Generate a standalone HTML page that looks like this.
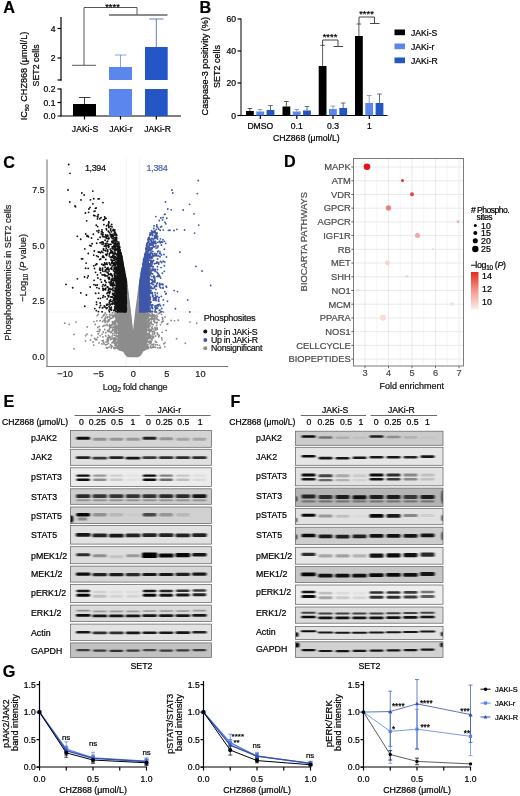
<!DOCTYPE html>
<html lang="en"><head><meta charset="utf-8"><title>Figure</title>
<style>
html,body{margin:0;padding:0;background:#fff;}
body{width:520px;height:796px;overflow:hidden;}
svg{display:block;font-family:"Liberation Sans",Arial,Helvetica,sans-serif;}
text{stroke-width:.22px;}
</style></head><body>
<svg width="520" height="796" viewBox="0 0 520 796">
<defs><filter id="bl" x="-5%" y="-50%" width="110%" height="200%"><feGaussianBlur stdDeviation="1.0 0.7"/></filter></defs>
<rect width="520" height="796" fill="#fff"/>
<g id="panelA">
<text x="3.3" y="12.7" font-size="16.2" font-weight="bold" stroke="#000">A</text>
<line x1="61" y1="17" x2="61" y2="80.5" stroke="#000" stroke-width="1.2"/>
<line x1="57.5" y1="80" x2="61.6" y2="80" stroke="#000" stroke-width="1.2"/>
<line x1="61" y1="88.5" x2="61" y2="116.5" stroke="#000" stroke-width="1.2"/>
<line x1="57.5" y1="116" x2="181" y2="116" stroke="#000" stroke-width="1.2"/>
<line x1="57.5" y1="28.5" x2="61" y2="28.5" stroke="#000" stroke-width="1.2"/>
<line x1="57.5" y1="58" x2="61" y2="58" stroke="#000" stroke-width="1.2"/>
<line x1="57.5" y1="89" x2="61" y2="89" stroke="#000" stroke-width="1.2"/>
<line x1="57.5" y1="102.5" x2="61" y2="102.5" stroke="#000" stroke-width="1.2"/>
<text x="55.5" y="31.6" font-size="8.6" text-anchor="end" stroke="#000">4</text>
<text x="55.5" y="61.1" font-size="8.6" text-anchor="end" stroke="#000">2</text>
<text x="55.5" y="92.1" font-size="8.6" text-anchor="end" stroke="#000">0.2</text>
<text x="55.5" y="105.6" font-size="8.6" text-anchor="end" stroke="#000">0.1</text>
<text x="55.5" y="119.1" font-size="8.6" text-anchor="end" stroke="#000">0.0</text>
<rect x="73" y="104" width="23" height="12" fill="#000"/>
<rect x="109" y="67" width="23" height="13" fill="#5b86ee"/>
<rect x="109" y="89" width="23" height="27" fill="#5b86ee"/>
<rect x="145" y="47" width="22.7" height="33" fill="#2556c6"/>
<rect x="145" y="89" width="22.7" height="27" fill="#2556c6"/>
<line x1="84.5" y1="97.5" x2="84.5" y2="104" stroke="#000" stroke-width="0.75"/>
<line x1="79" y1="97.5" x2="90.5" y2="97.5" stroke="#000" stroke-width="0.75"/>
<line x1="120.5" y1="55" x2="120.5" y2="67" stroke="#5b86ee" stroke-width="0.75"/>
<line x1="115" y1="55" x2="126.5" y2="55" stroke="#5b86ee" stroke-width="0.75"/>
<line x1="156.3" y1="19" x2="156.3" y2="47" stroke="#2556c6" stroke-width="0.75"/>
<line x1="149.3" y1="19" x2="163.5" y2="19" stroke="#2556c6" stroke-width="0.75"/>
<line x1="84.5" y1="116" x2="84.5" y2="119.5" stroke="#000" stroke-width="1.2"/>
<line x1="120.5" y1="116" x2="120.5" y2="119.5" stroke="#000" stroke-width="1.2"/>
<line x1="156.3" y1="116" x2="156.3" y2="119.5" stroke="#000" stroke-width="1.2"/>
<text x="85" y="132" font-size="8.6" text-anchor="middle" stroke="#000">JAKi-S</text>
<text x="121" y="132" font-size="8.6" text-anchor="middle" stroke="#000">JAKi-r</text>
<text x="157.5" y="132" font-size="8.6" text-anchor="middle" stroke="#000">JAKi-R</text>
<polyline points="72,65.3 96,65.3" fill="none" stroke="#444" stroke-width="0.9"/>
<polyline points="84,65.3 84,7.5 137,7.5 137,15" fill="none" stroke="#444" stroke-width="0.9"/>
<line x1="109" y1="15" x2="167.5" y2="15" stroke="#666" stroke-width="1.6"/>
<text x="112.5" y="9.6" font-size="9.4" text-anchor="middle" stroke="#000">****</text>
<text transform="translate(26.8 76) rotate(-90)" font-size="9.1" text-anchor="middle" stroke="#000">IC<tspan font-size="6.2" dy="2">50</tspan><tspan dy="-2"> CHZ868 (μmol/L)</tspan></text>
<text x="39.2" y="65.4" font-size="8.8" text-anchor="middle" stroke="#000" transform="rotate(-90 39.2 65.4)">SET2 cells</text>
</g>
<g id="panelB">
<text x="199.6" y="12.7" font-size="16.2" font-weight="bold" stroke="#000">B</text>
<line x1="241" y1="18.5" x2="241" y2="116" stroke="#000" stroke-width="1.0"/>
<line x1="237.5" y1="115.5" x2="387.5" y2="115.5" stroke="#000" stroke-width="1.0"/>
<line x1="237.5" y1="19" x2="241" y2="19" stroke="#000" stroke-width="1.2"/>
<text x="236" y="22.1" font-size="8.6" text-anchor="end" stroke="#000">60</text>
<line x1="237.5" y1="51" x2="241" y2="51" stroke="#000" stroke-width="1.2"/>
<text x="236" y="54.1" font-size="8.6" text-anchor="end" stroke="#000">40</text>
<line x1="237.5" y1="83" x2="241" y2="83" stroke="#000" stroke-width="1.2"/>
<text x="236" y="86.1" font-size="8.6" text-anchor="end" stroke="#000">20</text>
<line x1="237.5" y1="115.5" x2="241" y2="115.5" stroke="#000" stroke-width="1.2"/>
<text x="236" y="118.6" font-size="8.6" text-anchor="end" stroke="#000">0</text>
<rect x="246.0" y="111" width="7.8" height="4.5" fill="#000"/>
<line x1="249.9" y1="108.5" x2="249.9" y2="111" stroke="#333" stroke-width="0.8"/>
<line x1="247.6" y1="108.5" x2="252.20000000000002" y2="108.5" stroke="#333" stroke-width="0.8"/>
<rect x="256.3" y="111.5" width="7.8" height="4.0" fill="#5b86ee"/>
<line x1="260.2" y1="109.5" x2="260.2" y2="111.5" stroke="#7688b8" stroke-width="0.8"/>
<line x1="257.9" y1="109.5" x2="262.5" y2="109.5" stroke="#7688b8" stroke-width="0.8"/>
<rect x="266.6" y="110" width="7.8" height="5.5" fill="#2556c6"/>
<line x1="270.5" y1="105.5" x2="270.5" y2="110" stroke="#3a4a78" stroke-width="0.8"/>
<line x1="268.2" y1="105.5" x2="272.8" y2="105.5" stroke="#3a4a78" stroke-width="0.8"/>
<rect x="282.5" y="106.5" width="7.8" height="9.0" fill="#000"/>
<line x1="286.4" y1="101.5" x2="286.4" y2="106.5" stroke="#333" stroke-width="0.8"/>
<line x1="284.09999999999997" y1="101.5" x2="288.7" y2="101.5" stroke="#333" stroke-width="0.8"/>
<rect x="292.8" y="111.5" width="7.8" height="4.0" fill="#5b86ee"/>
<line x1="296.7" y1="109.5" x2="296.7" y2="111.5" stroke="#7688b8" stroke-width="0.8"/>
<line x1="294.4" y1="109.5" x2="299.0" y2="109.5" stroke="#7688b8" stroke-width="0.8"/>
<rect x="303.1" y="110.5" width="7.8" height="5.0" fill="#2556c6"/>
<line x1="307.0" y1="106.5" x2="307.0" y2="110.5" stroke="#3a4a78" stroke-width="0.8"/>
<line x1="304.7" y1="106.5" x2="309.3" y2="106.5" stroke="#3a4a78" stroke-width="0.8"/>
<rect x="318.7" y="66" width="7.8" height="49.5" fill="#000"/>
<line x1="322.6" y1="45.4" x2="322.6" y2="66" stroke="#333" stroke-width="0.8"/>
<line x1="320.3" y1="45.4" x2="324.90000000000003" y2="45.4" stroke="#333" stroke-width="0.8"/>
<rect x="329.0" y="109" width="7.8" height="6.5" fill="#5b86ee"/>
<line x1="332.9" y1="106" x2="332.9" y2="109" stroke="#7688b8" stroke-width="0.8"/>
<line x1="330.59999999999997" y1="106" x2="335.2" y2="106" stroke="#7688b8" stroke-width="0.8"/>
<rect x="339.3" y="108" width="7.8" height="7.5" fill="#2556c6"/>
<line x1="343.2" y1="103" x2="343.2" y2="108" stroke="#3a4a78" stroke-width="0.8"/>
<line x1="340.9" y1="103" x2="345.5" y2="103" stroke="#3a4a78" stroke-width="0.8"/>
<rect x="355.0" y="36" width="7.8" height="79.5" fill="#000"/>
<line x1="358.9" y1="24" x2="358.9" y2="36" stroke="#333" stroke-width="0.8"/>
<line x1="356.59999999999997" y1="24" x2="361.2" y2="24" stroke="#333" stroke-width="0.8"/>
<rect x="365.3" y="103" width="7.8" height="12.5" fill="#5b86ee"/>
<line x1="369.2" y1="95.5" x2="369.2" y2="103" stroke="#7688b8" stroke-width="0.8"/>
<line x1="366.9" y1="95.5" x2="371.5" y2="95.5" stroke="#7688b8" stroke-width="0.8"/>
<rect x="375.6" y="103" width="7.8" height="12.5" fill="#2556c6"/>
<line x1="379.5" y1="94" x2="379.5" y2="103" stroke="#3a4a78" stroke-width="0.8"/>
<line x1="377.2" y1="94" x2="381.8" y2="94" stroke="#3a4a78" stroke-width="0.8"/>
<line x1="260.3" y1="115.5" x2="260.3" y2="119" stroke="#000" stroke-width="1.2"/>
<text x="260.3" y="128.5" font-size="8.6" text-anchor="middle" stroke="#000">DMSO</text>
<line x1="296.8" y1="115.5" x2="296.8" y2="119" stroke="#000" stroke-width="1.2"/>
<text x="296.8" y="128.5" font-size="8.6" text-anchor="middle" stroke="#000">0.1</text>
<line x1="333" y1="115.5" x2="333" y2="119" stroke="#000" stroke-width="1.2"/>
<text x="333" y="128.5" font-size="8.6" text-anchor="middle" stroke="#000">0.3</text>
<line x1="369.3" y1="115.5" x2="369.3" y2="119" stroke="#000" stroke-width="1.2"/>
<text x="369.3" y="128.5" font-size="8.6" text-anchor="middle" stroke="#000">1</text>
<text x="306.3" y="140.6" font-size="8.7" text-anchor="middle" stroke="#000">CHZ868 (μmol/L)</text>
<polyline points="322.6,45.4 322.6,40 338,40 338,46.5" fill="none" stroke="#333" stroke-width="0.9"/>
<line x1="333.5" y1="46.5" x2="343" y2="46.5" stroke="#333" stroke-width="0.9"/>
<text x="330" y="40.2" font-size="9.4" text-anchor="middle" stroke="#000">****</text>
<polyline points="359,24 359,17 374.5,17 374.5,23.5" fill="none" stroke="#333" stroke-width="0.9"/>
<line x1="370" y1="23.5" x2="379.5" y2="23.5" stroke="#333" stroke-width="0.9"/>
<text x="366.5" y="17.2" font-size="9.4" text-anchor="middle" stroke="#000">****</text>
<rect x="394.5" y="29.5" width="10.5" height="5.7" fill="#000"/>
<text x="411" y="35.5" font-size="8.6" stroke="#000">JAKi-S</text>
<rect x="394.5" y="43.5" width="10.5" height="5.7" fill="#5b86ee"/>
<text x="411" y="49.5" font-size="8.6" stroke="#000">JAKi-r</text>
<rect x="394.5" y="57.5" width="10.5" height="5.7" fill="#2556c6"/>
<text x="411" y="63.5" font-size="8.6" stroke="#000">JAKi-R</text>
<text transform="translate(208.4 66.2) rotate(-90)" font-size="9.15" text-anchor="middle" stroke="#000">Caspase-3 positivity (%)</text>
<text x="220.2" y="66.5" font-size="9.0" text-anchor="middle" stroke="#000" transform="rotate(-90 220.2 66.5)">SET2 cells</text>
</g>
<g id="panelC">
<text x="3.2" y="167.5" font-size="16.2" font-weight="bold" stroke="#000">C</text>
<line x1="47" y1="312" x2="228" y2="312" stroke="#efefef" stroke-width="0.7"/>
<line x1="126.3" y1="158" x2="126.3" y2="366.5" stroke="#efefef" stroke-width="0.7"/>
<line x1="139.7" y1="158" x2="139.7" y2="366.5" stroke="#efefef" stroke-width="0.7"/>
<path d="M129 357.3L125.5 355.5L123 351.5L121.2 345L118 334L117.4 320L117.4 312L127.2 312L127.2 281L130.9 311.4L133.3 335.1L136.4 311.4L139.4 281L139.4 312L147.2 312L147.5 320L147 334L145 345L143.2 351.5L141 355.5L138 357.3Z" fill="#8c8c8c"/>
<path d="M116.5 312L127.2 312L127.2 281L125.3 272.5L122.3 256.4L119.5 246L117.5 250L116.3 270L116 290Z" fill="#111"/>
<path d="M149 312L139.4 312L139.4 281L141 272.5L144 258L146.8 248L148.3 252L149.5 270L149.8 290Z" fill="#3f57a8"/>
<path d="M138.1 343.7h0M130.9 347.7h0M133.9 332.8h0M134.4 326.5h0M106.1 342.0h0M134.9 339.2h0M128.0 309.9h0M130.9 349.7h0M132.4 337.6h0M129.9 327.9h0M131.1 321.3h0M124.2 338.8h0M138.0 347.8h0M128.6 321.0h0M134.6 329.0h0M134.4 343.1h0M134.7 335.7h0M136.8 311.1h0M142.7 335.6h0M133.7 338.6h0M139.9 352.2h0M127.7 295.1h0M119.9 339.3h0M131.1 337.8h0M136.5 356.2h0M137.6 350.1h0M140.2 330.6h0M129.7 343.1h0M135.4 335.6h0M134.4 328.6h0M135.1 330.5h0M126.8 332.5h0M128.7 307.3h0M135.2 335.9h0M140.2 345.6h0M132.5 334.3h0M131.4 344.2h0M127.3 333.1h0M135.3 343.2h0M142.5 339.8h0M139.1 288.4h0M137.9 327.6h0M129.0 325.0h0M130.6 318.9h0M135.1 321.5h0M125.8 347.5h0M131.5 345.2h0M134.1 338.4h0M140.5 315.2h0M123.1 341.5h0M129.1 317.9h0M123.8 313.0h0M130.7 325.3h0M134.0 330.4h0M133.1 341.5h0M138.0 336.8h0M134.5 337.5h0M130.9 337.8h0M128.9 320.3h0M140.9 341.6h0M126.9 315.2h0M133.4 336.1h0M140.2 336.7h0M130.6 348.3h0M134.4 328.4h0M131.2 338.7h0M133.7 339.6h0M136.2 344.3h0M136.8 330.7h0M134.3 331.4h0M129.2 329.4h0M133.0 348.8h0M132.2 347.1h0M135.7 328.8h0M124.7 338.3h0M141.9 330.1h0M137.3 344.0h0M138.0 330.6h0M128.7 321.7h0M128.6 301.3h0M136.3 336.1h0M133.0 349.6h0M137.7 342.7h0M133.1 353.7h0M131.5 333.7h0M136.4 316.6h0M148.0 324.1h0M136.8 343.2h0M134.0 332.5h0M132.9 342.1h0M132.6 352.0h0M128.4 308.8h0M131.9 338.4h0M146.6 341.7h0M127.2 327.1h0M128.5 330.6h0M133.4 339.8h0M132.3 333.7h0M147.0 347.8h0M131.1 324.9h0M125.3 323.2h0M128.9 306.2h0M128.8 350.6h0M126.4 320.7h0M133.3 345.4h0M133.2 340.0h0M132.0 334.6h0M146.8 320.6h0M142.2 327.2h0M133.8 335.7h0M131.1 326.8h0M127.0 313.2h0M131.6 341.6h0M134.2 342.4h0M114.4 329.4h0M138.9 329.3h0M133.9 342.6h0M135.5 339.5h0M127.7 319.2h0M134.8 333.4h0M135.1 340.2h0M137.7 320.5h0M134.9 352.0h0M134.9 333.9h0M122.4 336.6h0M125.7 343.3h0M122.9 339.4h0M128.9 315.7h0M131.8 335.0h0M130.9 320.1h0M133.3 339.9h0M148.3 347.0h0M130.1 337.1h0M144.8 328.2h0M129.7 318.8h0M138.4 301.0h0M132.0 345.6h0M120.5 327.6h0M133.1 341.8h0M125.1 328.7h0M148.9 342.5h0M142.2 348.5h0M137.9 324.5h0M132.7 348.5h0M137.9 320.3h0M136.5 330.0h0M129.0 309.4h0M106.6 314.7h0M144.0 318.9h0M141.1 317.4h0M128.4 354.5h0M153.3 345.6h0M136.0 313.7h0M136.2 315.1h0M126.2 339.3h0M134.5 334.6h0M133.6 333.1h0M133.5 351.0h0M135.5 323.4h0M133.6 338.7h0M126.2 314.8h0M117.2 321.5h0M138.9 321.9h0M127.7 293.9h0M134.3 333.5h0M137.9 299.8h0M122.5 324.0h0M139.0 307.1h0M138.0 323.0h0M134.3 334.4h0M123.6 323.3h0M126.5 305.9h0M143.3 341.6h0M124.8 333.5h0M130.3 322.7h0M131.9 329.4h0M138.1 312.9h0M139.0 330.6h0M129.3 309.8h0M133.5 340.5h0M134.9 348.3h0M126.7 308.6h0M127.2 293.9h0M144.9 328.5h0M137.3 332.6h0M135.0 324.1h0M126.8 303.9h0M128.5 322.8h0M120.1 347.6h0M128.5 308.1h0M127.0 336.6h0M133.5 351.2h0M131.3 330.7h0M132.9 340.9h0M132.9 339.0h0M127.1 331.1h0M135.2 320.6h0M134.3 336.4h0M126.5 308.5h0M136.7 339.5h0M134.9 323.9h0M133.6 340.2h0M132.8 339.4h0M131.1 329.5h0M128.4 313.5h0M120.2 336.6h0M132.0 335.3h0M138.6 339.4h0M133.1 348.9h0M138.1 317.3h0M134.6 331.6h0M137.6 323.0h0M133.6 338.3h0M142.1 330.5h0M142.8 349.9h0M140.9 328.6h0M127.4 306.5h0M123.5 325.3h0M124.3 330.3h0M134.3 352.3h0M133.0 340.3h0M112.3 321.7h0M107.3 317.7h0M133.3 337.6h0M127.6 329.5h0M139.6 284.7h0M136.7 336.5h0M130.2 345.3h0M130.7 351.8h0M130.0 320.3h0M136.6 310.4h0M136.0 344.8h0M134.2 330.1h0M135.2 322.8h0M115.5 324.8h0M138.9 316.3h0M132.8 340.3h0M137.9 326.1h0M129.4 327.3h0M132.0 333.0h0M130.9 341.7h0M109.8 326.8h0M136.0 312.0h0M134.1 338.0h0M129.3 311.3h0M137.6 333.5h0M129.4 318.6h0M135.2 323.6h0M120.0 322.9h0M131.6 328.2h0M136.8 329.1h0M139.5 300.2h0M126.0 327.3h0M130.1 320.7h0M132.8 343.4h0M138.4 323.9h0M142.6 342.2h0M129.8 310.5h0M134.6 343.9h0M138.9 297.5h0M130.3 329.8h0M128.1 306.4h0M134.3 328.8h0M134.5 337.7h0M139.6 312.6h0M129.7 320.8h0M126.7 330.8h0M134.7 333.5h0M132.7 339.0h0M129.6 319.7h0M131.7 330.8h0M138.6 344.8h0M132.4 343.2h0M127.5 304.4h0M136.1 336.0h0M132.2 339.5h0M133.8 335.1h0M139.5 310.5h0M135.8 317.1h0M128.1 323.2h0M129.5 355.1h0M129.3 332.0h0M136.7 307.9h0M104.8 329.5h0M127.2 299.1h0M136.4 340.8h0M139.4 307.9h0M137.5 346.1h0M138.4 336.5h0M133.1 339.8h0M129.6 327.9h0M131.0 329.5h0M135.3 336.5h0M130.3 322.0h0M129.9 331.7h0M122.8 331.9h0M131.3 336.8h0M139.4 315.2h0M143.9 325.3h0M131.6 341.1h0M128.6 310.1h0M143.2 350.2h0M134.6 325.7h0M112.2 336.0h0M135.7 350.7h0M143.1 327.8h0M128.3 321.4h0M138.3 345.5h0M126.8 290.5h0M125.7 348.3h0M130.4 343.2h0M129.7 354.6h0M139.4 297.3h0M139.8 338.7h0M161.6 314.3h0M132.0 331.8h0M129.4 347.3h0M127.2 303.8h0M130.1 317.8h0M127.8 319.5h0M142.7 345.7h0M137.3 306.9h0M129.7 312.5h0M117.2 319.5h0M127.3 296.9h0M137.4 302.9h0M139.6 293.1h0M136.9 312.5h0M126.7 329.1h0M126.9 298.6h0M125.4 321.6h0M129.9 340.1h0M134.1 328.6h0M134.5 348.3h0M142.5 321.4h0M139.8 348.2h0M131.5 337.3h0M146.7 322.9h0M118.9 328.2h0M134.7 333.0h0M129.8 312.9h0M128.0 339.6h0M143.9 335.7h0M141.6 318.6h0M132.8 337.9h0M144.9 345.7h0M155.4 341.5h0M138.1 304.1h0M140.7 314.3h0M137.9 335.8h0M137.9 337.9h0M131.8 329.1h0M134.5 325.7h0M141.9 343.3h0M127.0 312.7h0M113.0 341.7h0M148.8 319.2h0M142.6 337.5h0M135.9 341.4h0M128.4 327.4h0M137.5 329.7h0M134.7 323.0h0M159.2 335.5h0M134.6 329.2h0M131.7 327.3h0M134.9 345.6h0M127.8 300.9h0M130.8 342.9h0M134.7 348.7h0M128.1 333.2h0M139.4 329.0h0M132.6 337.8h0M131.0 323.8h0M129.3 338.1h0M121.2 349.8h0M138.9 315.0h0M128.8 302.7h0M134.2 344.0h0M127.6 305.0h0M134.9 347.5h0M139.3 310.4h0M133.9 344.4h0M130.3 325.6h0M129.1 312.9h0M139.5 315.3h0M130.0 337.5h0M127.6 317.7h0M127.2 311.6h0M133.1 342.6h0M139.3 308.1h0M126.5 348.7h0M135.9 313.2h0M115.8 317.9h0M117.2 321.0h0M120.6 321.4h0M131.2 331.1h0M127.8 317.2h0M136.7 334.8h0M140.0 326.7h0M122.1 321.7h0M128.6 333.7h0M127.1 351.8h0M138.4 298.3h0M126.4 321.9h0M121.3 321.7h0M123.5 345.7h0M128.3 320.7h0M112.8 329.6h0M130.5 334.8h0M135.1 321.7h0M133.8 339.9h0M129.3 315.0h0M127.1 318.3h0M137.9 304.7h0M128.6 339.0h0M142.9 343.1h0M107.2 321.7h0M137.8 315.5h0M132.2 338.0h0M130.1 332.1h0M126.7 303.6h0M139.2 321.4h0M139.1 291.7h0M133.5 334.2h0M129.2 322.5h0M140.0 328.3h0M133.3 348.8h0M128.5 312.7h0M136.3 322.6h0M135.5 321.8h0M135.4 346.5h0M129.7 315.8h0M131.8 346.5h0M127.5 340.3h0M138.4 297.2h0M149.5 320.5h0M136.1 312.7h0M126.3 302.4h0M117.9 322.5h0M132.2 343.8h0M124.2 331.3h0M130.6 317.2h0M136.0 324.7h0M127.2 317.7h0M131.7 348.1h0M129.2 335.0h0M137.6 311.3h0M138.3 341.4h0M137.0 328.1h0M131.7 328.7h0M135.1 331.4h0M128.3 323.6h0M137.7 343.0h0M138.6 297.4h0M131.5 334.0h0M130.5 329.9h0M137.8 332.3h0M135.1 326.2h0M148.9 334.3h0M134.7 336.9h0M133.2 345.8h0M136.5 340.0h0M133.4 345.8h0M138.0 309.7h0M134.3 329.8h0M133.4 339.3h0M139.4 354.7h0M133.9 333.0h0M129.3 343.0h0M133.0 342.0h0M130.4 322.0h0M137.4 306.1h0M128.7 319.4h0M120.2 345.6h0M134.1 328.7h0M149.0 320.9h0M129.1 336.6h0M137.8 338.4h0M133.7 340.0h0M137.5 301.9h0M129.2 340.5h0M128.9 322.8h0M147.9 336.9h0M130.4 348.8h0M136.2 339.1h0M126.5 317.2h0M139.1 342.3h0M143.0 343.4h0M134.0 336.9h0M126.6 329.8h0M131.6 332.5h0M138.6 328.4h0M129.2 350.6h0M135.3 326.6h0M140.8 326.5h0M133.5 348.2h0M135.2 350.9h0M130.6 337.3h0M138.6 347.0h0M136.5 355.1h0M131.2 333.2h0M127.3 294.5h0M123.3 325.2h0M127.9 333.2h0M130.8 337.4h0M138.0 310.8h0M126.2 320.1h0M134.1 346.2h0M131.0 328.3h0M127.5 312.5h0M126.6 330.5h0M152.3 317.9h0M125.4 322.0h0M131.9 336.1h0M131.0 334.5h0M135.7 321.8h0M131.4 327.3h0M130.2 341.7h0M134.1 332.5h0M129.8 336.8h0M141.1 321.5h0M133.8 336.1h0M139.4 290.7h0M132.8 340.1h0M144.6 338.5h0M131.8 332.8h0M122.6 340.5h0M139.9 322.7h0M136.8 351.5h0M134.2 336.1h0M129.3 316.3h0M131.1 333.2h0M139.1 347.1h0M136.8 327.2h0M124.7 325.8h0M127.1 321.7h0M131.5 326.5h0M138.2 323.1h0M128.2 350.8h0M130.4 315.5h0M138.5 327.0h0M118.2 345.8h0M137.5 307.8h0M123.2 320.2h0M127.1 289.7h0M137.5 325.0h0M133.5 349.6h0M138.6 296.6h0M125.6 317.3h0M135.6 348.3h0M129.5 322.3h0M132.9 350.3h0M134.3 332.2h0M129.7 321.8h0M138.0 333.5h0M137.2 308.6h0M129.9 339.8h0M151.4 323.4h0M130.7 333.7h0M134.8 330.7h0M124.9 317.5h0M133.3 354.9h0M137.3 315.1h0M132.7 349.6h0M133.3 338.4h0M130.4 327.9h0M142.5 322.7h0M119.2 320.2h0M135.0 345.8h0M134.3 326.5h0M133.1 354.3h0M130.4 348.8h0M129.4 308.6h0M131.7 346.9h0M132.0 347.2h0M132.2 334.5h0M127.2 338.9h0M117.7 320.2h0M133.5 337.6h0M120.0 327.7h0M120.7 314.3h0M144.0 348.3h0M133.8 332.4h0M132.9 340.7h0M137.5 343.1h0M136.3 336.8h0M133.4 353.4h0M133.7 350.1h0M139.4 286.0h0M135.2 331.8h0M130.9 334.1h0M131.7 331.2h0M129.9 344.1h0M119.5 313.2h0M133.3 336.1h0M134.1 343.7h0M136.7 348.8h0M126.6 317.3h0M137.2 312.9h0M138.9 317.6h0M133.6 339.0h0M133.0 346.5h0M134.0 332.4h0M139.0 345.3h0M131.4 329.2h0M132.7 344.7h0M138.0 310.7h0M122.9 327.3h0M118.7 325.7h0M132.1 331.0h0M129.4 339.0h0M129.7 335.7h0M141.5 332.8h0M142.3 313.1h0M132.8 339.5h0M122.7 329.3h0M138.4 323.0h0M137.0 318.6h0M133.4 348.7h0M131.8 349.5h0M157.1 322.6h0M135.2 335.6h0M131.8 339.7h0M143.4 318.9h0M120.9 331.3h0M132.5 341.4h0M127.1 293.1h0M134.6 335.9h0M131.2 329.5h0M133.8 346.3h0M130.0 316.8h0M138.3 306.3h0M128.2 313.6h0M129.3 354.2h0M131.2 325.2h0M124.0 347.0h0M124.9 322.5h0M127.3 314.9h0M131.7 334.6h0M134.3 328.2h0M128.1 328.9h0M128.5 306.8h0M95.5 339.1h0M119.5 342.3h0M136.6 344.0h0M131.0 325.0h0M131.7 332.5h0M146.1 344.1h0M129.2 319.2h0M137.2 317.8h0M137.5 304.8h0M130.2 318.8h0M119.7 326.7h0M131.7 329.9h0M130.3 316.4h0M130.3 320.7h0M135.4 330.7h0M135.4 329.1h0M136.1 314.1h0M121.1 347.1h0M145.0 317.4h0M133.2 349.6h0M129.6 350.2h0M140.1 332.5h0M139.9 317.0h0M143.3 340.2h0M129.5 322.6h0M133.7 343.0h0M129.7 342.7h0M135.3 320.7h0M133.8 331.9h0M132.3 335.6h0M135.8 342.6h0M143.0 348.1h0M128.0 299.9h0M132.4 339.8h0M127.1 327.2h0M116.1 338.8h0M136.2 317.6h0M127.6 330.8h0M136.1 311.6h0M138.5 317.4h0M131.2 322.7h0M131.6 336.9h0M137.0 321.9h0M136.1 316.9h0M119.1 313.6h0M131.9 349.0h0M132.8 344.4h0M134.3 329.7h0M121.4 324.2h0M130.7 325.8h0M130.1 317.7h0M131.0 336.6h0M137.4 300.9h0M134.7 333.4h0M129.9 340.3h0M132.9 351.8h0M127.5 307.6h0M138.5 306.0h0M129.8 320.0h0M128.7 306.7h0M133.6 341.7h0M135.8 350.7h0M123.1 338.8h0M139.3 316.0h0M137.2 330.6h0M125.5 318.7h0M137.0 320.8h0M127.3 333.6h0M137.8 323.2h0M136.5 338.5h0M136.8 330.7h0M131.6 348.4h0M128.3 299.4h0M136.7 337.1h0M129.8 331.0h0M129.6 313.5h0M131.6 350.2h0M134.0 342.9h0M138.8 305.8h0M141.8 319.1h0M144.3 337.7h0M138.7 312.8h0M138.3 311.1h0M128.7 306.3h0M137.6 338.0h0M133.1 339.2h0M130.3 325.2h0M124.0 345.6h0M134.3 344.4h0M137.1 313.7h0M145.6 342.8h0M132.7 343.6h0M137.4 348.4h0M125.0 312.5h0M124.6 320.4h0M136.1 317.4h0M132.7 342.5h0M85.6 335.7h0M135.6 334.7h0M129.0 336.6h0M127.1 330.8h0M141.0 346.9h0M136.3 320.5h0M130.8 327.6h0M146.6 345.1h0M143.2 341.7h0M138.9 313.3h0M119.0 327.4h0M130.2 352.2h0M127.3 298.1h0M129.2 327.8h0M120.9 343.2h0M128.2 311.8h0M130.4 317.4h0M137.3 342.2h0M128.4 309.1h0M127.0 302.7h0M130.6 325.0h0M143.3 329.3h0M136.8 310.5h0M145.6 346.2h0M143.7 347.1h0M131.4 342.5h0M129.4 340.2h0M133.1 337.8h0M123.9 337.6h0M114.1 339.4h0M126.9 308.8h0M132.4 336.9h0M133.5 336.8h0M127.9 319.4h0M129.7 309.7h0M129.9 315.3h0M121.4 314.8h0M133.3 341.5h0M140.2 350.6h0M135.5 318.4h0M155.6 344.6h0M156.7 325.5h0M122.0 326.9h0M129.9 345.4h0M137.4 301.3h0M134.9 321.5h0M134.5 326.2h0M137.3 342.1h0M138.4 331.3h0M132.5 335.0h0M132.4 333.1h0M142.5 313.4h0M133.5 346.6h0M122.9 348.4h0M137.1 313.5h0M135.1 353.6h0M133.9 348.4h0M133.6 336.2h0M137.1 324.8h0M126.6 338.8h0M97.2 315.6h0M137.6 329.8h0M137.8 336.8h0M134.7 323.4h0M135.1 327.5h0M108.2 331.6h0M130.7 344.6h0M126.9 326.4h0M132.1 334.2h0M134.5 338.8h0M137.0 316.0h0M134.3 332.9h0M130.0 329.2h0M123.8 343.2h0M135.4 331.2h0M133.8 349.5h0M139.4 317.4h0M140.1 339.4h0M130.0 319.1h0M157.5 334.2h0M127.1 333.2h0M130.2 329.5h0M118.5 330.0h0M132.3 337.7h0M130.8 328.4h0M119.7 335.2h0M134.5 330.2h0M148.7 347.9h0M130.1 312.5h0M135.3 336.9h0M120.5 350.1h0M109.5 329.4h0M141.7 337.7h0M129.7 312.8h0M131.7 351.5h0M130.4 316.0h0M139.3 326.0h0M133.5 336.7h0M134.8 324.4h0M128.3 330.5h0M128.1 308.9h0M138.5 302.7h0M132.5 341.8h0M134.7 330.8h0M143.2 329.9h0M130.3 315.1h0M127.7 338.1h0M124.2 333.7h0M136.2 329.5h0M133.7 351.2h0M130.4 341.8h0M142.0 337.9h0M134.0 329.9h0M118.9 317.5h0M136.6 311.7h0M148.5 327.1h0M123.5 327.7h0M130.9 355.0h0M132.8 348.4h0M132.5 338.1h0M133.4 345.5h0M123.2 346.1h0M133.6 348.6h0M126.4 323.3h0M146.8 313.5h0M138.2 312.2h0M145.8 334.3h0M130.1 317.7h0M130.1 318.6h0M122.5 342.2h0M138.4 310.4h0M136.0 322.3h0M132.7 342.1h0M119.7 326.9h0M127.1 306.0h0M135.4 322.7h0M132.2 337.9h0M131.0 350.6h0M144.4 331.6h0M125.7 313.3h0M132.3 350.2h0M127.7 329.0h0M143.0 341.6h0M129.8 350.1h0M140.8 330.5h0M129.3 346.3h0M130.9 320.2h0M134.7 340.8h0M129.7 316.4h0M131.4 342.4h0M127.4 302.2h0M135.6 322.8h0M127.2 297.1h0M132.3 345.8h0M114.9 331.2h0M135.4 321.2h0M145.2 349.1h0M151.5 316.8h0M129.0 327.0h0M137.0 334.8h0M116.8 321.3h0M136.8 316.9h0M128.7 306.9h0M127.7 300.5h0M131.7 329.2h0M156.0 342.3h0M136.2 338.1h0M133.0 347.4h0M135.8 319.1h0M135.0 326.0h0M134.0 339.6h0M137.8 327.0h0M130.3 331.6h0M136.2 331.4h0M144.7 338.3h0M137.0 320.8h0M138.6 301.7h0M139.5 321.2h0M132.6 341.3h0M129.1 315.8h0M151.7 323.8h0M128.7 308.2h0M129.3 333.0h0M130.2 327.6h0M133.5 344.5h0M133.7 346.0h0M129.3 319.0h0M132.2 335.5h0M135.5 320.1h0M137.6 320.4h0M144.2 327.3h0M141.8 338.1h0M129.2 339.3h0M129.5 345.4h0M130.1 340.7h0M139.5 312.1h0M133.7 348.1h0M128.3 322.4h0M130.8 344.3h0M144.8 349.7h0M126.7 292.7h0M138.1 296.8h0M122.6 340.3h0M133.9 342.2h0M129.3 327.9h0M133.8 342.1h0M138.8 293.3h0M129.7 318.9h0M129.8 339.1h0M134.2 344.7h0M129.8 335.6h0M132.9 345.7h0M136.5 347.8h0M132.8 354.5h0M138.8 332.6h0M137.9 297.4h0M139.4 315.8h0M132.2 345.8h0M135.2 343.1h0M129.4 329.9h0M131.6 337.7h0M136.0 328.6h0M139.6 286.1h0M135.7 322.7h0M138.3 301.3h0M129.1 315.3h0M148.9 313.5h0M129.4 333.9h0M138.6 291.5h0M110.1 315.3h0M133.3 336.4h0M127.2 292.0h0M133.5 346.2h0M130.2 317.0h0M132.3 336.4h0M130.2 333.0h0M128.2 302.3h0M139.5 336.0h0M128.5 346.7h0M87.2 326.9h0M130.5 338.8h0M139.1 312.8h0M131.1 337.9h0M135.8 334.2h0M139.5 287.4h0M134.0 330.6h0M128.5 303.1h0M135.4 329.4h0M133.3 343.5h0M129.9 330.0h0M126.0 332.4h0M128.2 324.1h0M133.4 340.6h0M137.4 302.0h0M128.0 349.3h0M131.5 347.3h0M127.7 295.1h0M138.8 307.0h0M128.0 296.8h0M135.2 354.1h0M132.2 349.5h0M159.7 347.9h0M118.8 316.0h0M141.5 322.8h0M131.9 343.9h0M131.7 329.8h0M132.1 342.1h0M103.0 326.3h0M113.2 317.4h0M134.9 331.0h0M126.9 307.2h0M128.6 323.0h0M133.2 339.9h0M135.0 347.8h0M129.0 326.4h0M133.4 339.5h0M123.1 343.0h0M127.4 312.5h0M129.2 307.6h0M122.4 346.5h0M138.0 336.5h0M117.9 312.4h0M132.5 341.8h0M131.6 327.5h0M130.8 340.9h0M133.8 336.1h0M144.7 324.5h0M127.9 336.3h0M127.1 309.5h0M131.7 332.7h0M134.8 323.4h0M129.3 320.3h0M132.1 337.7h0M129.2 328.3h0M131.5 348.9h0M133.4 340.0h0M139.6 335.8h0M138.4 297.3h0M127.9 311.9h0M138.1 327.8h0M126.7 301.4h0M132.8 343.3h0M134.2 331.6h0M123.7 330.0h0M129.8 318.4h0M120.5 328.7h0M129.8 331.2h0M141.5 320.4h0M134.9 328.7h0M151.1 316.3h0M132.0 330.0h0M135.5 316.7h0M139.8 315.3h0M134.6 336.5h0M126.6 330.4h0M148.0 318.5h0M143.3 333.5h0M121.8 312.8h0M138.8 299.8h0M133.4 339.4h0M125.0 315.2h0M123.0 347.6h0M130.6 326.0h0M130.5 332.3h0M138.1 298.8h0M137.5 304.9h0M132.6 341.0h0M135.5 321.4h0M135.0 336.2h0M132.8 341.9h0M131.2 341.2h0M114.8 323.5h0M136.6 344.4h0M128.6 319.3h0M137.7 309.1h0M136.6 323.0h0M132.6 344.5h0M139.6 306.3h0M138.8 322.2h0M131.5 331.5h0M130.6 331.5h0M110.6 344.9h0M130.8 332.1h0M137.0 313.7h0M130.2 327.7h0M130.6 328.7h0M124.7 328.1h0M133.9 335.9h0M136.1 338.0h0M143.5 341.0h0M131.3 326.6h0M119.5 314.4h0M131.8 350.6h0M129.0 331.0h0M128.1 342.2h0M152.3 331.3h0M137.7 307.3h0M130.2 331.8h0M136.1 331.6h0M133.2 338.1h0M123.0 332.4h0M132.0 340.8h0M118.9 339.6h0M127.3 330.1h0M138.5 355.0h0M130.4 320.7h0M138.0 315.8h0M136.7 336.1h0M126.2 328.2h0M121.5 348.8h0M132.4 336.8h0M130.9 325.8h0M127.9 312.6h0M136.5 322.6h0M128.7 332.5h0M131.6 343.0h0M128.4 328.6h0M133.3 345.1h0M139.8 351.0h0M135.8 345.1h0M141.7 348.3h0M132.6 344.5h0M139.5 312.6h0M131.8 336.0h0M129.0 319.0h0M128.7 305.0h0M124.4 312.3h0M138.1 308.4h0M128.0 303.5h0M128.6 317.7h0M105.8 344.8h0M138.9 332.4h0M126.8 336.4h0M132.8 345.6h0M135.2 337.4h0M134.4 337.6h0M130.6 323.0h0M137.2 323.8h0M145.6 326.0h0M142.7 345.5h0M132.5 343.8h0M131.8 338.2h0M135.5 347.5h0M136.5 338.2h0M141.5 317.4h0M150.6 337.1h0M130.2 321.2h0M128.5 315.0h0M134.9 340.3h0M119.0 337.4h0M133.1 344.0h0M139.4 288.0h0M136.3 338.4h0M137.2 322.3h0M127.8 306.3h0M138.6 318.6h0M128.1 302.6h0M132.6 335.4h0M153.1 315.7h0M149.8 329.4h0M129.2 329.8h0M131.3 345.5h0M115.0 312.9h0M143.3 315.2h0M127.6 351.9h0M128.1 297.8h0M133.0 352.0h0M135.8 327.8h0M129.3 328.7h0M207.3 321.8h0M130.3 322.8h0M155.5 329.0h0M130.8 346.9h0M129.2 317.1h0M133.3 351.0h0M144.1 327.1h0M137.8 317.8h0M135.3 318.5h0M126.8 288.9h0M133.7 334.0h0M133.8 339.8h0M138.1 308.9h0M129.4 306.4h0M140.4 314.8h0M134.7 336.5h0M135.4 317.7h0M134.8 337.3h0M132.5 339.8h0M127.4 313.6h0M131.5 348.3h0M138.2 310.9h0M136.7 314.0h0M139.4 323.1h0M127.8 326.4h0M138.8 322.1h0M107.0 344.4h0M126.4 306.3h0M133.5 337.3h0M126.5 325.8h0M124.3 318.1h0M148.1 322.1h0M128.8 308.7h0M136.7 321.1h0M131.2 336.7h0M143.5 336.5h0M135.1 338.3h0M127.8 355.5h0M141.5 331.5h0M122.3 327.4h0M126.9 297.8h0M137.0 311.1h0M135.8 318.1h0M137.4 304.6h0M136.5 346.3h0M128.2 349.1h0M133.5 337.9h0M110.6 332.5h0M131.7 331.5h0M137.7 326.5h0M138.6 314.2h0M126.5 288.1h0M126.6 324.7h0M129.5 324.0h0M133.9 342.1h0M126.5 288.1h0M117.2 316.8h0M124.5 326.9h0M128.5 305.1h0M142.8 333.7h0M162.8 318.3h0M141.1 331.7h0M128.7 319.3h0M135.9 314.2h0M135.1 333.9h0M134.1 347.1h0M134.9 325.8h0M135.7 348.2h0M142.2 345.5h0M133.6 341.2h0M134.8 328.0h0M132.1 347.2h0M128.0 296.9h0M123.7 331.6h0M135.9 320.6h0M137.2 311.8h0M133.5 336.4h0M134.1 337.2h0M132.0 333.0h0M135.7 326.7h0M132.8 347.8h0M133.1 342.4h0M132.0 346.1h0M130.9 347.5h0M138.1 305.3h0M117.2 332.6h0M139.7 323.7h0M131.4 325.3h0M134.0 330.4h0M147.7 313.4h0M135.0 322.3h0M139.1 294.8h0M145.9 322.1h0M134.1 348.8h0M135.8 337.8h0M127.5 312.7h0M109.3 331.3h0M121.9 317.4h0M130.5 324.5h0M128.6 300.5h0M128.5 309.9h0M132.5 349.4h0M126.7 338.9h0M139.2 296.8h0M136.0 313.4h0M120.9 316.1h0M152.1 324.4h0M149.6 337.6h0M131.1 328.6h0M127.8 304.0h0M138.4 300.3h0M130.6 321.4h0M131.7 337.0h0M132.6 337.0h0M87.0 334.2h0M143.5 349.3h0M129.0 350.1h0M123.6 339.4h0M131.7 347.1h0M120.5 349.8h0M140.6 339.9h0M122.2 338.4h0M131.2 342.1h0M128.3 301.9h0M126.7 309.4h0M134.1 342.3h0M134.1 340.0h0M139.1 292.6h0M132.5 340.4h0M141.6 323.8h0M137.9 297.2h0M123.3 332.7h0M131.4 331.1h0M127.7 320.6h0M130.9 335.9h0M130.7 332.6h0M120.4 348.5h0M136.2 332.9h0M139.6 288.8h0M122.8 329.9h0M136.9 318.1h0M134.3 331.7h0M134.7 327.1h0M108.5 335.5h0M123.9 324.0h0M139.6 292.5h0M132.0 330.2h0M121.8 340.0h0M126.9 320.0h0M127.0 336.9h0M133.7 345.5h0M129.6 310.7h0M134.1 345.2h0M136.0 330.8h0M139.3 289.4h0M132.0 344.0h0M137.3 311.9h0M129.2 321.7h0M135.4 324.9h0M132.7 338.5h0M124.2 327.5h0M126.9 296.8h0M136.5 334.9h0M135.1 329.6h0M133.8 334.8h0M150.0 343.7h0M120.6 330.1h0M145.0 322.5h0M125.9 337.4h0M171.2 320.5h0M128.3 312.0h0M128.7 337.0h0M130.9 331.8h0M129.8 349.6h0M139.4 322.0h0M138.8 334.7h0M126.4 334.8h0M138.3 312.5h0M139.0 298.5h0M138.7 327.3h0M131.7 328.7h0M126.7 338.5h0M131.6 339.4h0M123.8 338.2h0M142.5 320.8h0M131.4 338.9h0M121.9 346.8h0M137.2 312.7h0M131.2 345.3h0M155.0 328.9h0M133.2 343.8h0M126.9 289.3h0M164.8 346.8h0M124.0 338.9h0M130.5 333.9h0M128.2 330.0h0M130.7 348.2h0M145.9 318.5h0M138.8 321.1h0M134.4 338.1h0M119.9 347.5h0M139.9 319.3h0M138.4 309.5h0M132.1 335.2h0M123.8 312.2h0M139.5 302.3h0M134.7 326.0h0M138.9 332.6h0M126.6 297.2h0M135.5 335.1h0M131.6 340.4h0M132.9 354.5h0M145.8 323.8h0M123.8 320.4h0M129.6 319.5h0M135.0 327.1h0M131.9 347.7h0M133.3 336.6h0M130.6 320.5h0M133.9 338.7h0M129.6 327.3h0M137.3 343.3h0M121.8 350.0h0M134.6 336.7h0M133.9 337.6h0M130.9 341.5h0M130.3 314.5h0M130.2 342.2h0M139.3 299.7h0M134.1 349.4h0M121.1 340.0h0M137.6 313.6h0M128.1 308.9h0M126.3 324.0h0M127.3 321.4h0M118.6 342.5h0M136.1 355.6h0M139.2 348.2h0M136.1 339.1h0M139.5 294.3h0M133.0 339.9h0M138.3 347.8h0M124.5 330.4h0M134.7 346.1h0M137.4 313.9h0M125.1 317.8h0M126.7 342.0h0M130.5 322.7h0M136.1 317.1h0M135.7 318.7h0M132.5 336.2h0M132.8 337.3h0M133.3 338.6h0M131.2 342.4h0M123.2 345.7h0M148.1 335.2h0M133.2 344.8h0M130.5 349.9h0M139.1 305.2h0M131.0 329.5h0M132.6 336.7h0M140.2 328.5h0M130.9 338.4h0M132.6 341.0h0M135.7 356.0h0M144.9 337.9h0M134.5 347.0h0M132.7 348.4h0M138.9 326.4h0M130.2 333.1h0M138.6 350.4h0M134.0 345.3h0M133.0 340.4h0M127.1 322.5h0M135.4 326.6h0M130.5 342.5h0M136.7 311.8h0M114.6 326.8h0M139.3 323.4h0M131.2 332.7h0M133.2 352.3h0M136.4 311.8h0M119.9 347.2h0M129.0 318.6h0M132.0 337.8h0M126.3 290.7h0M131.2 336.1h0M123.5 348.8h0M127.9 340.6h0M132.0 350.9h0M127.8 315.2h0M128.9 351.6h0M135.3 336.9h0M121.4 349.8h0M134.6 337.8h0M138.6 292.7h0M148.0 312.6h0M131.0 326.5h0M129.9 313.4h0M129.1 332.6h0M97.3 331.3h0M130.1 318.3h0M131.1 344.5h0M133.1 339.4h0M126.3 336.3h0M133.8 332.1h0M133.2 343.3h0M126.1 332.4h0M74.0 334.4h0M132.6 336.1h0M138.7 315.2h0M133.9 334.1h0M129.8 353.3h0M136.1 349.1h0M130.0 346.9h0M138.6 303.2h0M132.0 338.3h0M129.2 347.8h0M141.1 330.4h0M132.8 350.7h0M134.1 354.7h0M131.6 328.0h0M136.4 322.3h0M129.8 346.4h0M141.6 316.1h0M127.8 310.5h0M132.5 345.7h0M125.6 323.2h0M132.0 344.6h0M141.9 345.4h0M127.4 304.9h0M124.5 324.7h0M136.3 315.6h0M140.1 321.8h0M135.5 325.2h0M128.5 320.4h0M127.9 309.9h0M136.2 326.8h0M135.7 322.3h0M134.7 334.6h0M136.4 342.7h0M122.3 319.2h0M135.5 319.3h0M127.7 311.3h0M131.3 335.4h0M136.0 321.8h0M133.6 335.2h0M138.0 316.7h0M131.9 329.1h0M128.0 318.5h0M114.4 340.8h0M133.9 330.8h0M133.7 350.9h0M127.9 299.8h0M122.9 339.4h0M137.7 317.6h0M132.0 329.2h0M135.9 342.0h0M126.3 290.8h0M138.2 319.9h0M129.1 345.3h0M133.5 344.4h0M132.5 338.8h0M137.3 303.4h0M135.5 346.0h0M140.1 338.8h0M142.9 319.0h0M130.3 315.8h0M139.7 340.9h0M127.3 295.6h0M137.5 302.9h0M134.1 338.7h0M135.9 319.1h0M138.0 343.4h0M128.7 306.2h0M135.5 329.1h0M135.1 331.6h0M127.5 294.1h0M134.4 332.9h0M131.8 343.5h0M133.2 344.7h0M126.6 308.0h0M136.8 341.3h0M130.6 350.8h0M126.6 320.4h0M129.6 345.5h0M135.3 342.4h0M123.1 330.4h0M134.4 332.2h0M127.5 321.1h0M138.5 320.9h0M132.9 351.1h0M134.5 347.2h0M135.4 326.7h0M123.2 327.0h0M139.0 293.5h0M137.6 329.9h0M139.1 309.7h0M125.9 318.3h0M127.8 306.0h0M133.5 350.4h0M138.6 310.5h0M130.8 331.3h0M138.9 320.7h0M127.7 333.3h0M138.7 348.0h0M130.3 342.3h0M133.3 336.1h0M131.2 325.4h0M134.3 350.2h0M120.3 332.4h0M140.4 317.5h0M139.1 296.2h0M146.9 346.3h0M130.3 318.7h0M133.6 334.7h0M132.6 339.6h0M128.1 305.4h0M105.7 336.0h0M129.3 314.6h0M139.2 322.2h0M130.6 324.2h0M148.4 317.2h0M135.4 341.0h0M134.0 332.2h0M136.3 349.4h0M129.3 331.5h0M132.5 339.6h0M124.4 332.4h0M130.7 327.5h0M136.3 318.0h0M125.6 318.4h0M138.4 303.2h0M121.3 313.9h0M124.2 337.5h0M129.4 311.4h0M85.5 340.9h0M144.0 347.2h0M126.5 317.2h0M133.1 344.4h0M132.5 334.4h0M129.1 336.9h0M105.6 316.8h0M132.6 338.7h0M133.0 342.8h0M135.3 336.7h0M123.1 344.5h0M134.5 342.6h0M129.9 331.6h0M159.8 313.0h0M140.8 332.4h0M129.5 324.5h0M127.6 299.7h0M129.6 312.2h0M132.6 339.5h0M128.7 319.8h0M132.2 333.5h0M133.3 343.4h0M132.6 353.8h0M138.3 317.5h0M138.1 307.5h0M137.7 341.2h0M132.5 339.0h0M131.7 336.2h0M127.9 301.2h0M137.2 340.5h0M127.9 305.0h0M130.9 350.7h0M133.2 350.7h0M129.9 325.1h0M137.6 300.1h0M132.3 341.9h0M143.7 344.8h0M132.0 341.0h0M135.0 343.2h0M137.7 303.2h0M137.6 319.7h0M132.1 342.8h0M135.0 324.7h0M126.7 292.9h0M127.8 295.6h0M133.9 331.5h0M128.7 312.8h0M127.3 330.5h0M139.4 342.7h0M132.0 355.4h0M134.7 334.4h0M128.3 317.1h0M157.3 333.0h0M130.8 331.8h0M138.2 294.2h0M126.3 300.8h0M127.8 301.6h0M139.7 312.6h0M151.8 327.6h0M127.9 353.4h0M131.0 333.2h0M136.2 320.7h0M133.2 346.5h0M135.7 322.4h0M137.5 300.3h0M142.8 313.8h0M129.7 346.3h0M141.1 324.4h0M123.7 347.8h0M136.8 311.7h0M137.6 306.6h0M134.9 347.6h0M129.8 338.9h0M135.8 321.5h0M128.5 307.7h0M135.1 342.7h0M127.1 352.4h0M134.6 338.1h0M129.2 308.8h0M132.0 347.2h0M139.7 335.8h0M133.1 337.6h0M139.8 328.3h0M130.3 323.4h0M137.6 306.6h0M131.6 333.2h0M120.4 342.3h0M144.1 318.2h0M124.1 339.3h0M142.7 313.8h0M133.5 345.8h0M138.8 313.6h0M134.9 343.9h0M133.0 344.0h0M145.1 314.9h0M126.2 314.6h0M127.0 288.5h0M132.2 346.9h0M127.6 303.4h0M138.0 300.2h0M142.5 312.6h0M119.8 334.5h0M135.3 348.3h0M139.0 319.5h0M134.4 328.7h0M129.4 327.0h0M126.5 311.1h0M140.1 312.9h0M129.6 337.2h0M138.7 351.5h0M146.3 348.7h0M133.5 341.1h0M138.5 298.1h0M133.4 342.2h0M134.7 342.9h0M130.5 330.0h0M129.2 343.1h0M130.3 340.8h0M131.8 327.2h0M131.9 341.9h0M136.2 317.6h0M126.4 341.5h0M135.7 341.0h0M131.8 333.7h0M131.3 324.2h0M132.4 349.8h0M138.6 316.1h0M127.1 320.1h0M139.0 329.4h0M129.7 316.3h0M127.7 313.4h0M138.1 345.0h0M137.3 305.8h0M127.3 337.1h0M126.1 324.8h0M127.8 295.6h0M133.8 336.3h0M127.4 301.8h0M127.6 321.2h0M131.0 320.7h0M130.1 320.4h0M138.9 308.4h0M134.0 329.5h0M132.7 340.9h0M138.5 314.8h0M140.7 336.0h0M130.8 327.5h0M136.0 328.7h0M127.2 319.4h0M130.0 348.7h0M130.9 335.8h0M149.1 334.5h0M136.1 335.0h0M145.1 343.1h0M137.0 340.7h0M136.4 330.4h0M132.1 337.1h0M137.9 300.1h0M138.9 343.1h0M129.9 355.1h0M127.8 294.9h0M142.7 331.8h0M123.8 317.4h0M138.2 304.0h0M121.2 350.3h0M128.5 328.3h0M129.0 314.7h0M124.2 343.8h0M134.1 338.6h0M132.1 343.1h0M135.2 336.4h0M127.2 307.0h0M119.7 343.2h0M133.3 350.9h0M125.8 313.5h0M133.0 345.2h0M160.5 324.8h0M131.0 330.2h0M139.0 318.9h0M133.8 332.8h0M139.0 300.2h0M132.0 341.6h0M123.0 345.5h0M134.1 340.6h0M120.8 328.4h0M138.2 318.1h0M128.5 308.8h0M137.2 310.9h0M136.5 320.8h0M128.6 316.0h0M119.0 316.5h0M135.8 337.0h0M134.4 345.8h0M127.0 319.8h0M130.7 319.5h0M128.9 347.0h0M129.1 326.3h0M125.9 314.6h0M128.0 327.7h0M144.0 333.0h0M142.8 331.7h0M131.2 324.7h0M143.7 314.3h0M135.0 321.2h0M139.4 315.6h0M135.9 328.1h0M128.8 312.6h0M136.0 318.8h0M123.8 330.1h0M128.8 327.0h0M127.4 299.4h0M126.8 287.2h0M140.2 321.6h0M125.3 346.9h0M128.5 304.3h0M134.1 329.6h0M130.2 351.4h0M129.8 340.2h0M117.4 320.9h0M133.6 352.4h0M130.0 328.5h0M135.1 325.5h0M127.8 308.3h0M131.2 345.7h0M132.9 349.5h0M134.5 325.9h0M146.1 339.1h0M129.3 326.2h0M132.4 350.7h0M129.1 320.0h0M136.6 306.8h0M141.8 349.4h0M149.7 334.7h0M149.8 338.2h0M129.7 311.4h0M129.0 322.1h0M137.8 301.3h0M137.0 305.3h0M136.7 336.2h0M131.9 341.7h0M138.1 304.7h0M133.2 349.8h0M129.0 313.6h0M136.3 341.8h0M138.8 339.9h0M138.3 308.7h0M138.7 296.8h0M134.0 349.4h0M129.0 344.8h0M134.3 345.4h0M137.7 317.0h0M129.9 313.3h0M130.2 348.9h0M137.2 310.7h0M139.0 291.9h0M139.1 319.8h0M136.1 345.3h0M130.1 342.2h0M133.7 335.3h0M137.6 324.7h0M123.7 315.8h0M121.0 336.0h0M132.5 340.6h0M129.2 320.5h0M133.5 340.2h0M127.3 297.3h0M134.8 332.9h0M144.3 342.2h0M136.7 311.9h0M131.6 343.8h0M125.6 340.9h0M136.5 333.2h0M133.5 343.0h0M137.3 327.0h0M121.7 333.1h0M126.2 337.6h0M137.6 345.9h0M138.9 299.6h0M127.4 323.1h0M139.4 318.5h0M136.9 323.4h0M123.7 325.8h0M141.1 316.5h0M144.2 344.3h0M137.2 310.3h0M133.8 332.8h0M133.1 339.3h0M128.8 325.9h0M130.7 338.0h0M128.8 344.4h0M117.5 317.8h0M120.0 339.6h0M134.7 341.8h0M137.3 345.4h0M135.6 332.8h0M122.7 327.1h0M128.8 321.8h0M136.9 315.3h0M128.7 318.2h0M137.9 297.9h0M126.7 289.2h0M149.2 333.3h0M133.6 344.6h0M112.0 342.9h0M129.2 326.9h0M128.6 314.9h0M125.5 348.2h0M127.2 355.7h0M131.9 338.5h0M109.4 336.5h0M119.6 339.1h0M133.3 338.0h0M134.5 330.2h0M135.6 331.5h0M118.6 329.4h0M133.4 340.0h0M124.5 327.8h0M138.8 303.4h0M130.8 328.6h0M140.4 333.8h0M138.7 302.4h0M130.2 321.9h0M135.6 318.1h0M135.6 344.8h0M128.4 334.4h0M135.7 349.8h0M126.7 307.3h0M123.6 345.9h0M146.6 333.5h0M132.4 341.3h0M134.0 329.5h0M128.5 329.9h0M131.1 333.8h0M139.1 295.0h0M134.6 336.7h0M135.4 317.4h0M123.8 317.4h0M128.7 324.9h0M129.9 329.0h0M135.4 332.2h0M137.1 339.3h0M127.3 322.9h0M133.9 339.7h0M137.9 297.7h0M131.8 339.4h0M147.8 338.2h0M139.7 324.3h0M129.6 314.9h0M113.3 326.9h0M129.7 336.7h0M131.3 331.8h0M127.3 307.3h0M159.0 320.3h0M124.5 317.1h0M135.7 321.2h0M136.5 320.0h0M131.8 338.1h0M128.5 351.8h0M130.7 333.6h0M144.7 327.9h0M120.8 337.3h0M146.7 326.6h0M136.2 328.4h0M123.3 333.2h0M131.1 331.4h0M127.5 327.4h0M133.5 349.2h0M119.5 333.3h0M135.7 331.0h0M132.0 343.9h0M122.9 323.1h0M138.3 350.3h0M135.3 326.7h0M137.5 306.9h0M123.4 341.9h0M137.6 330.2h0M130.8 336.2h0M139.2 315.5h0M133.8 338.8h0M127.6 297.3h0M128.5 351.3h0M123.0 330.2h0M130.4 322.2h0M137.6 338.9h0M146.2 326.7h0M128.2 301.4h0M136.7 316.1h0M132.4 347.9h0M143.8 316.9h0M128.5 316.6h0M126.5 292.5h0M116.6 342.6h0M138.0 324.1h0M130.9 321.0h0M131.1 340.8h0M136.0 316.3h0M133.1 348.0h0M126.9 338.5h0M132.7 341.6h0M136.9 335.6h0M116.9 345.8h0M132.0 336.5h0M131.1 332.0h0M133.8 346.0h0M129.4 322.1h0M131.7 339.5h0M132.0 336.7h0M127.5 340.2h0M125.6 317.3h0M129.5 345.0h0M136.8 348.9h0M130.3 321.0h0M131.7 333.8h0M135.5 345.1h0M150.2 335.1h0M136.7 307.9h0M127.6 305.6h0M140.2 316.7h0M133.1 347.9h0M134.2 349.2h0M139.2 316.4h0M127.9 345.5h0M131.4 335.2h0M130.1 330.4h0M138.9 321.3h0M134.6 340.3h0M131.2 344.4h0M127.3 327.2h0M135.9 325.2h0M127.9 333.3h0M125.0 341.7h0M130.2 325.0h0M142.3 339.9h0M136.3 329.5h0M131.4 328.6h0M137.0 306.8h0M131.7 339.5h0M135.2 351.8h0M137.9 300.9h0M133.5 336.2h0M128.3 302.8h0M130.0 314.1h0M139.7 314.7h0M130.6 317.6h0M156.5 312.3h0M131.7 343.2h0M129.6 344.0h0M139.5 296.4h0M119.4 336.3h0M129.8 320.6h0M137.7 331.7h0M153.1 324.6h0M128.7 306.6h0M131.4 342.5h0M134.0 339.7h0M138.1 304.1h0M144.8 346.4h0M132.4 343.3h0M127.6 299.9h0M123.5 324.7h0M137.3 302.6h0M127.9 296.9h0M115.3 343.6h0M135.3 324.0h0M138.5 313.3h0M140.0 316.1h0M134.3 337.2h0M129.0 310.2h0M130.9 326.7h0M137.0 342.8h0M138.2 294.9h0M131.9 338.4h0M125.8 328.2h0M130.3 333.0h0M127.0 329.6h0M130.4 331.4h0M118.6 317.7h0M131.6 332.0h0M137.2 353.4h0M134.0 341.2h0M130.5 321.4h0M132.2 331.6h0M148.6 319.9h0M134.1 334.3h0M130.3 322.3h0M139.3 286.9h0M122.3 321.8h0M137.4 328.9h0M137.6 324.2h0M128.9 308.5h0M127.9 296.7h0M133.4 338.0h0M132.8 343.3h0M136.7 334.6h0M122.4 325.3h0M147.1 346.7h0M138.9 319.2h0M128.1 345.9h0M129.9 346.6h0M125.2 316.8h0M128.8 328.3h0M104.2 320.2h0M133.0 345.5h0M126.4 290.6h0M116.8 342.9h0M131.3 341.2h0M131.8 349.4h0M132.6 339.6h0M136.7 306.9h0M131.3 332.0h0M132.9 341.1h0M133.3 342.0h0M130.2 342.0h0M134.9 331.5h0M115.7 323.3h0M131.4 325.3h0M132.2 334.6h0M128.7 304.3h0M112.8 312.6h0M145.1 325.9h0M121.0 326.2h0M132.7 336.0h0M140.4 321.1h0M151.8 347.8h0M129.2 340.9h0M134.3 350.1h0M132.1 334.5h0M138.8 319.7h0M135.3 323.8h0M133.1 348.7h0M151.5 329.4h0M133.3 345.8h0M133.0 350.3h0M131.3 326.1h0M131.5 345.3h0M127.5 313.7h0M132.1 342.6h0M139.1 294.0h0M125.4 336.4h0M140.4 327.2h0M133.4 350.3h0M128.2 313.5h0M126.8 294.8h0M123.8 335.7h0M138.3 307.3h0M135.5 338.3h0M139.6 290.1h0M129.6 325.0h0M130.6 333.3h0M136.3 312.0h0M136.0 322.9h0M133.4 353.3h0M137.2 335.7h0M132.9 338.8h0M128.4 335.0h0M140.9 344.7h0M142.5 318.5h0M136.2 314.2h0M135.5 329.6h0M143.7 332.9h0M127.3 291.3h0M131.4 344.7h0M128.8 310.2h0M130.6 325.3h0M138.2 307.5h0M131.6 326.6h0M133.2 340.2h0M130.9 342.3h0M135.9 322.8h0M134.9 341.6h0M137.7 330.0h0M143.8 337.7h0M137.0 304.6h0M135.4 338.1h0M131.0 352.1h0M141.3 342.0h0M138.2 334.0h0M135.0 342.2h0M130.7 348.7h0M126.4 292.9h0M138.1 310.2h0M130.9 326.2h0M137.5 336.5h0M134.0 334.4h0M114.1 348.2h0M129.2 311.9h0M130.2 330.2h0M129.7 344.3h0M135.4 325.4h0M137.3 315.7h0M109.1 337.4h0M129.1 319.5h0M129.6 347.2h0M130.9 342.1h0M129.3 310.4h0M127.7 313.5h0M140.7 328.5h0M129.9 350.1h0M125.9 321.2h0M133.5 343.2h0M126.8 319.7h0M126.4 291.3h0M134.4 335.7h0M128.7 343.0h0M128.7 305.0h0M132.4 343.0h0M132.8 343.7h0M132.5 344.6h0M139.1 311.0h0M138.0 312.0h0M131.6 343.0h0M132.0 334.9h0M142.2 330.3h0M131.0 337.7h0M131.1 323.0h0M133.5 346.2h0M128.9 319.8h0M124.4 318.3h0M128.8 320.1h0M127.5 334.7h0M134.9 327.4h0M142.8 333.7h0M121.3 325.0h0M139.1 295.9h0M132.3 338.3h0M133.5 343.5h0M116.6 331.3h0M139.0 310.1h0M135.0 337.4h0M135.5 342.8h0M131.0 336.0h0M138.9 347.4h0M131.0 333.1h0M133.2 337.3h0M135.9 343.5h0M144.6 343.0h0M134.9 336.5h0M133.2 356.3h0M139.2 287.9h0M136.2 315.8h0M130.8 327.3h0M120.0 331.2h0M134.8 343.1h0M135.6 339.7h0M136.2 336.8h0M126.2 343.0h0M134.8 355.1h0M119.5 317.8h0M127.7 318.4h0M136.3 341.7h0M134.2 341.7h0M130.0 326.5h0M127.4 299.9h0M133.4 339.1h0M134.7 340.4h0M138.4 315.7h0M157.3 316.6h0M136.4 321.4h0M126.9 289.2h0M135.4 350.1h0M128.9 304.9h0M131.8 346.3h0M132.6 337.3h0M139.0 310.7h0M134.3 338.2h0M138.7 320.2h0M138.6 314.9h0M129.4 312.9h0M139.3 340.8h0M142.2 322.1h0M135.0 324.3h0M131.3 342.5h0M138.6 340.2h0M136.8 327.2h0M139.0 318.5h0M131.2 340.4h0M128.6 313.7h0M120.6 346.7h0M121.9 323.5h0M128.2 309.0h0M131.1 346.7h0M129.3 307.9h0M128.0 296.4h0M91.6 335.5h0M133.7 341.7h0M136.8 344.9h0M136.4 308.3h0M129.9 340.2h0M128.8 323.1h0M129.9 345.6h0M121.7 350.1h0M129.9 347.1h0M129.5 308.1h0M135.9 339.6h0M142.9 336.2h0M128.9 320.8h0M132.9 354.4h0M134.1 336.2h0M137.0 306.4h0M139.9 331.9h0M124.3 317.5h0M132.9 348.2h0M134.3 332.7h0M129.7 336.2h0M142.9 315.4h0M126.3 326.2h0M133.5 349.2h0M127.9 345.8h0M133.8 342.9h0M129.6 323.3h0M127.7 308.6h0M142.8 331.3h0M138.9 312.2h0M147.7 325.5h0M136.4 343.0h0M130.0 337.1h0M133.9 345.0h0M132.8 354.8h0M124.3 341.8h0M166.2 330.4h0M143.6 326.5h0M132.3 347.1h0M134.4 338.8h0M131.7 347.8h0M125.2 320.2h0M136.9 332.1h0M135.6 317.9h0M127.4 301.6h0M127.1 343.5h0M138.9 294.9h0M126.6 306.1h0M136.0 327.9h0M130.9 335.8h0M127.4 332.0h0M138.0 314.8h0M134.6 335.9h0M129.9 349.0h0M136.4 322.7h0M127.6 320.0h0M133.3 336.0h0M131.2 339.0h0M127.0 305.9h0M138.0 310.3h0M136.3 312.2h0M134.2 332.0h0M136.1 324.8h0M139.0 328.7h0M128.3 298.1h0M127.8 339.7h0M127.8 307.5h0M132.1 333.1h0M119.0 346.7h0M130.4 315.1h0M134.0 334.6h0M130.7 323.1h0M132.3 351.3h0M130.1 342.4h0M105.6 320.3h0M136.9 345.9h0M151.9 344.3h0M137.4 302.5h0M121.9 349.5h0M142.0 340.6h0M139.1 303.5h0M128.3 325.1h0M133.8 350.6h0M136.8 313.1h0M115.5 324.3h0M98.3 314.4h0M129.7 309.8h0M126.7 320.5h0M139.5 336.3h0M133.5 335.8h0M128.8 330.1h0M132.6 352.3h0M139.1 290.3h0M144.6 313.2h0M129.3 325.7h0M127.6 326.0h0M139.3 308.4h0M128.2 311.7h0M133.9 332.3h0M129.9 328.3h0M139.5 342.2h0M132.8 337.1h0M131.5 347.0h0M142.6 320.0h0M145.5 340.5h0M137.1 303.2h0M132.3 338.9h0M133.3 337.3h0M137.0 309.7h0M132.6 351.1h0M137.4 328.3h0M132.8 340.3h0M136.8 344.1h0M129.4 337.3h0M126.7 317.4h0M143.4 321.2h0M139.4 330.5h0M138.6 323.6h0M133.0 352.2h0M131.1 343.0h0M156.4 323.0h0M134.0 336.3h0M139.3 323.1h0M124.1 337.7h0M137.1 319.4h0M134.5 327.9h0M128.0 326.5h0M121.1 328.5h0M133.9 331.6h0M118.1 333.1h0M135.9 324.9h0M126.4 318.4h0M130.8 339.1h0M130.9 334.1h0M150.1 343.6h0M126.9 331.7h0M134.5 350.4h0M131.4 329.4h0M118.8 348.0h0M112.0 324.7h0M157.1 328.9h0M129.7 313.7h0M131.1 350.4h0M128.3 303.7h0M136.0 313.9h0M131.3 330.6h0M137.1 332.9h0M127.0 329.2h0M134.4 329.3h0M125.4 334.2h0M133.9 335.3h0M133.9 344.7h0M128.4 316.2h0M132.9 342.5h0M125.3 314.2h0M148.1 347.0h0M138.8 295.5h0M146.6 345.7h0M136.3 333.9h0M153.2 346.5h0M122.0 330.6h0M131.9 329.4h0M135.2 333.6h0M129.9 325.1h0M134.4 336.8h0M127.9 307.6h0M128.3 329.5h0M136.5 318.5h0M137.2 331.6h0M148.7 320.7h0M129.6 334.2h0M136.1 316.8h0M127.5 292.6h0M135.5 319.4h0M137.7 319.6h0M136.8 320.0h0M137.4 342.4h0M127.2 331.8h0M131.1 344.6h0M132.9 342.2h0M135.4 344.4h0M152.2 331.4h0M137.2 351.8h0M131.4 354.1h0M119.9 345.1h0M131.3 326.6h0M136.5 319.1h0M131.2 343.5h0M120.5 323.3h0M150.7 341.5h0M122.7 345.1h0M133.6 334.3h0M133.9 338.1h0M127.3 317.9h0M130.4 345.7h0M132.9 353.2h0M135.2 343.8h0M121.4 343.5h0M134.6 325.9h0M129.3 347.4h0M118.1 345.2h0M136.9 305.2h0M135.1 341.2h0M129.1 306.6h0M127.6 297.8h0M131.7 329.2h0M131.1 321.9h0M131.9 329.5h0M126.5 291.9h0M123.0 313.1h0M165.2 342.6h0M138.8 302.7h0M127.1 299.6h0M161.6 322.6h0M143.2 329.4h0M133.4 337.3h0M129.5 308.3h0M144.1 334.9h0M129.8 315.8h0M134.0 337.6h0M131.2 333.9h0M128.0 343.9h0M134.3 345.9h0M146.3 344.9h0M122.1 349.4h0M128.3 308.8h0M146.6 348.9h0M132.6 335.7h0M132.7 339.4h0M131.5 338.1h0M122.1 349.8h0M132.0 334.7h0M134.3 329.7h0M128.2 334.4h0M143.3 346.5h0M130.6 329.7h0M134.1 343.0h0M140.0 324.0h0M130.9 344.3h0M136.9 322.0h0M135.5 354.4h0M137.1 339.8h0M134.5 346.9h0M137.8 302.5h0M134.6 334.9h0M130.0 314.4h0M131.7 335.1h0M127.4 333.1h0M131.0 339.0h0M126.5 336.2h0M126.5 304.1h0M127.8 304.7h0M142.7 336.5h0M140.7 316.2h0M137.9 316.2h0M134.2 340.8h0M132.8 349.2h0M121.6 348.5h0M137.9 324.1h0M124.2 318.8h0M136.8 309.2h0M135.1 338.9h0M139.5 318.3h0M128.8 309.2h0M131.9 338.3h0M137.0 329.6h0M135.7 334.8h0M128.7 346.5h0M135.6 331.1h0M128.0 303.8h0M117.4 346.4h0M137.9 330.9h0M139.8 318.6h0M105.2 322.4h0M127.2 302.2h0M128.5 338.0h0M130.7 317.9h0M135.3 318.8h0M135.3 343.7h0M129.8 320.5h0M131.4 344.2h0M130.4 327.8h0M133.7 334.0h0M138.3 304.6h0M130.3 330.1h0M136.2 313.7h0M135.9 332.3h0M140.7 335.3h0M138.8 298.3h0M131.1 327.9h0M126.9 340.5h0M129.6 321.1h0M130.6 317.9h0M131.9 332.9h0M134.2 331.0h0M141.7 348.4h0M129.3 312.8h0M126.1 331.3h0M135.9 323.8h0M135.5 317.9h0M132.9 354.8h0M137.6 327.5h0M138.0 312.5h0M141.4 316.8h0M129.9 320.4h0M141.6 334.2h0M130.8 320.9h0M130.5 346.9h0M131.6 326.6h0M126.2 328.9h0M93.9 321.6h0M125.3 335.2h0M120.4 345.4h0M149.2 315.3h0M132.7 337.9h0M108.4 319.8h0M137.7 323.1h0M146.9 337.7h0M139.0 291.5h0M137.7 302.1h0M134.5 324.7h0M130.3 317.4h0M136.4 317.7h0M127.0 327.5h0M131.7 332.6h0M136.0 313.1h0M132.3 333.3h0M138.1 348.0h0M132.8 342.9h0M122.8 333.9h0M139.6 347.4h0M129.2 326.4h0M114.3 338.4h0M126.9 296.7h0M128.9 341.6h0M131.1 330.9h0M133.3 348.4h0M135.8 342.0h0M135.0 327.4h0M133.2 348.6h0M136.9 354.5h0M137.5 339.2h0M123.8 321.2h0M132.0 332.9h0M128.2 350.3h0M123.1 327.8h0M118.9 325.5h0M128.3 319.9h0M135.8 342.7h0M134.8 333.1h0M136.7 323.9h0M137.2 328.2h0M138.5 303.7h0M130.1 350.0h0M128.9 306.7h0M143.9 337.0h0M126.2 339.1h0M128.6 320.9h0M138.7 346.8h0M143.7 333.0h0M124.0 328.8h0M141.9 351.2h0M139.4 345.5h0M134.2 342.3h0M130.2 355.4h0M127.5 316.9h0M128.3 353.8h0M132.6 349.6h0M162.3 317.5h0M128.9 323.0h0M141.8 327.6h0M128.2 328.7h0M127.1 291.0h0M124.4 321.1h0M139.4 298.2h0M128.8 309.7h0M137.1 321.6h0M131.7 329.7h0M129.0 313.4h0M127.1 294.0h0M132.2 347.5h0M133.0 342.1h0M138.2 345.1h0M138.2 296.1h0M135.8 345.0h0M134.1 344.9h0M158.9 336.8h0M129.9 316.1h0M136.7 313.3h0M131.8 346.0h0M130.9 337.4h0M138.2 298.0h0M138.1 303.8h0M136.3 327.7h0M134.7 330.6h0M117.2 342.3h0M133.3 350.9h0M132.8 343.7h0M138.7 291.2h0M132.3 353.7h0M131.4 347.8h0M129.2 330.0h0M117.2 327.2h0M133.9 331.6h0M142.6 339.9h0M134.3 338.4h0M130.9 333.0h0M129.7 328.7h0M131.6 333.6h0M133.4 342.5h0M137.6 341.3h0M122.3 348.0h0M134.0 334.1h0M134.0 333.5h0M135.1 331.0h0M136.3 315.6h0M128.5 301.6h0M132.1 343.1h0M141.8 347.2h0M125.8 319.2h0M133.2 337.3h0M131.0 330.0h0M137.3 340.6h0M127.5 304.7h0M127.1 323.7h0M129.1 337.9h0M118.1 338.8h0M124.7 313.5h0M128.4 305.4h0M129.1 332.7h0M124.8 320.6h0M135.2 334.1h0M126.7 300.3h0M119.2 334.8h0M134.0 331.9h0M142.3 327.5h0M129.9 311.7h0M132.1 341.9h0M130.9 321.5h0M133.2 353.0h0M137.0 342.6h0M132.0 333.3h0M133.3 347.1h0M129.7 317.8h0M135.9 351.8h0M122.8 340.5h0M126.8 300.6h0M135.9 332.6h0M128.1 309.7h0M127.4 298.1h0M133.3 338.4h0M135.7 319.2h0M139.4 306.7h0M154.0 316.5h0M136.7 339.3h0M138.8 308.6h0M134.8 339.1h0M114.3 337.8h0M133.4 339.4h0M103.5 342.4h0M130.3 331.1h0M133.0 347.3h0M141.2 342.4h0M137.9 316.1h0M127.4 318.8h0M116.6 347.4h0M132.3 341.0h0M129.5 312.0h0M115.1 320.5h0M137.9 296.6h0M124.4 315.6h0M145.7 333.1h0M131.9 333.4h0M127.2 314.9h0M137.7 303.5h0M132.1 350.5h0M128.2 339.1h0M136.2 342.4h0M125.8 332.6h0M136.2 343.6h0M136.5 355.7h0M108.1 338.9h0M127.7 297.3h0M129.2 320.3h0M133.4 342.0h0M127.4 322.3h0M132.7 339.7h0M137.9 337.1h0M135.6 330.3h0M133.4 352.1h0M137.7 300.0h0M126.2 329.0h0M131.0 339.2h0M137.1 328.2h0M134.4 353.0h0M122.8 314.1h0M133.8 339.0h0M136.7 313.3h0M134.1 332.6h0M132.9 338.7h0M148.9 335.9h0M137.3 340.1h0M140.1 336.8h0M135.4 322.2h0M145.2 325.9h0M146.5 316.1h0M132.0 331.4h0M135.8 319.9h0M129.7 325.4h0M135.2 325.5h0M130.4 320.5h0M132.3 335.4h0M111.1 345.5h0M118.3 347.3h0M135.9 313.5h0M129.0 349.2h0M127.5 343.8h0M174.5 320.8h0M136.0 314.0h0M135.2 328.4h0M124.5 333.3h0M128.2 339.5h0M122.9 318.7h0M128.0 301.2h0M125.3 333.6h0M131.9 330.2h0M134.9 339.4h0M134.4 344.9h0M146.9 316.0h0M133.3 355.2h0M121.0 331.8h0M137.1 304.0h0M138.8 326.0h0M140.0 325.2h0M140.2 328.0h0M134.5 338.8h0M127.4 320.6h0M130.3 348.3h0M125.6 319.9h0M129.4 321.1h0M132.2 333.3h0M137.6 333.1h0M130.5 339.7h0M134.7 325.9h0M125.1 341.4h0M133.8 345.8h0M128.6 308.9h0M128.1 313.9h0M137.5 328.3h0M129.1 309.8h0M132.1 342.4h0M130.4 341.4h0M125.6 329.9h0M132.3 343.5h0M132.3 332.4h0M129.5 307.6h0M127.5 348.4h0M136.1 340.2h0M130.5 337.6h0M134.1 339.4h0M134.4 352.9h0M130.5 335.0h0M137.1 327.9h0M138.6 298.0h0M127.7 312.6h0M130.1 339.8h0M134.3 328.8h0M132.2 341.0h0M133.1 338.6h0M127.1 315.0h0M131.9 332.8h0M138.8 319.4h0M132.5 337.4h0M124.0 342.4h0M122.7 331.9h0M145.4 336.1h0M136.7 336.3h0M138.9 300.2h0M125.9 316.7h0M131.5 347.4h0M136.5 329.6h0M133.1 339.6h0M133.3 338.5h0M135.2 322.9h0M135.3 342.4h0M135.7 315.7h0M136.1 313.8h0M130.1 350.5h0M131.8 341.6h0M135.3 332.2h0M134.4 344.4h0M131.6 340.2h0M129.4 326.1h0M135.4 321.9h0M132.7 345.7h0M138.1 311.9h0M131.2 329.5h0M114.8 348.6h0M134.4 342.0h0M126.8 302.9h0M122.4 334.7h0M139.5 325.1h0M132.7 344.4h0M140.3 322.6h0M135.9 341.6h0M137.7 304.6h0M127.9 297.3h0M129.0 309.2h0M126.3 320.7h0M127.1 329.6h0M129.4 332.0h0M133.5 335.3h0M129.6 314.9h0M128.7 313.0h0M136.8 327.5h0M134.2 336.3h0M134.7 326.4h0M135.2 341.2h0M133.2 345.1h0M103.7 315.2h0M126.1 336.0h0M134.5 334.8h0M139.6 287.6h0M134.4 331.7h0M131.2 340.7h0M124.3 329.6h0M133.1 337.6h0M133.7 354.0h0M146.8 347.9h0M133.2 341.2h0M131.6 335.0h0M137.3 304.1h0M134.1 339.4h0M134.3 333.3h0M133.8 347.5h0M104.1 343.9h0M123.2 324.5h0M138.8 304.6h0M139.6 312.4h0M148.8 326.4h0M118.3 333.3h0M146.1 314.9h0M115.8 337.8h0M128.2 304.9h0M141.5 318.7h0M139.5 290.8h0M127.5 322.7h0M133.6 335.3h0M130.1 325.8h0M131.0 340.2h0M99.0 342.9h0M133.3 340.6h0M135.2 334.5h0M138.1 319.8h0M130.3 334.8h0M128.3 331.0h0M138.0 314.1h0M128.6 302.2h0M133.1 338.5h0M128.9 320.1h0M117.7 336.3h0M136.0 337.9h0M136.9 327.9h0M125.4 322.0h0M115.7 341.7h0M132.9 347.6h0M129.8 338.8h0M134.2 349.3h0M131.9 340.4h0M139.3 335.8h0M128.2 305.5h0M127.0 305.8h0M132.2 336.4h0M137.9 332.0h0M134.4 345.7h0M125.3 323.8h0M147.3 347.6h0M133.6 355.2h0M123.9 333.5h0M131.3 332.8h0M133.2 339.9h0M135.7 343.5h0M130.7 329.6h0M128.4 319.4h0M127.3 297.3h0M132.3 340.0h0M134.8 329.5h0M135.0 320.9h0M128.0 343.0h0M121.4 347.8h0M132.8 348.1h0M136.8 334.7h0M119.1 325.1h0M134.0 342.2h0M123.9 314.8h0M142.9 327.3h0M122.1 329.7h0M135.8 332.2h0M126.5 348.0h0M124.1 350.6h0M99.1 331.5h0M138.4 331.5h0M127.4 299.0h0M134.6 339.7h0M130.6 320.9h0M131.5 336.9h0M131.8 333.0h0M138.4 313.9h0M132.5 344.5h0M126.1 318.2h0M130.3 335.0h0M118.9 339.0h0M129.6 325.9h0M139.6 297.5h0M134.4 345.9h0M130.2 328.4h0M152.9 318.7h0M148.4 325.9h0M138.5 294.1h0M130.0 313.3h0M132.4 341.6h0M130.2 330.5h0M143.2 323.3h0M129.0 308.4h0M137.7 311.2h0M131.2 348.3h0M133.9 348.0h0M120.5 328.8h0M135.0 334.8h0M134.6 332.4h0M145.8 339.6h0M122.7 325.9h0M130.7 320.9h0M137.1 350.5h0M126.6 307.0h0M128.1 318.4h0M117.0 316.0h0M132.6 352.8h0M140.5 323.2h0M134.3 331.6h0M134.0 331.9h0M151.0 341.5h0M131.1 328.9h0M117.8 317.7h0M132.1 346.0h0M136.8 308.5h0M137.6 302.0h0M129.1 338.7h0M128.8 314.5h0M140.1 326.4h0M116.0 331.3h0M130.9 354.2h0M139.0 318.4h0M136.7 323.9h0M132.9 344.9h0M136.4 344.7h0M128.3 303.9h0M142.9 338.6h0M139.5 300.9h0M138.9 310.2h0M126.4 314.3h0M137.2 324.1h0M129.7 353.9h0M127.3 339.6h0M133.0 348.0h0M137.9 303.6h0M130.5 339.8h0M129.6 328.6h0M131.6 341.0h0M135.1 324.3h0M132.0 330.8h0M135.0 347.0h0M129.5 315.0h0M138.2 318.7h0M138.5 348.4h0M140.7 336.1h0M134.0 332.6h0M131.1 347.0h0M131.5 337.1h0M125.7 315.5h0M137.4 344.9h0M139.8 326.7h0M143.8 329.7h0M136.4 348.3h0M133.1 348.5h0M134.4 340.0h0M139.6 304.8h0M155.6 347.4h0M139.3 318.1h0M139.7 331.7h0M125.3 325.0h0M132.7 338.9h0M128.0 316.2h0M132.3 336.2h0M132.6 341.0h0M143.1 318.8h0M127.4 344.3h0M132.9 350.8h0M140.0 315.3h0M139.2 346.5h0M138.1 306.6h0M130.1 321.1h0M135.9 329.1h0M124.3 313.5h0M129.5 315.1h0M140.4 327.8h0M134.4 341.5h0M132.9 344.3h0M128.3 298.7h0M131.2 323.7h0M133.6 341.6h0M135.1 320.5h0M147.9 316.1h0M119.1 327.2h0M134.9 324.2h0M131.8 342.4h0M136.4 342.2h0M121.0 318.0h0M114.4 330.7h0M130.7 327.5h0M135.0 325.1h0M138.1 308.4h0M137.7 308.1h0M102.0 343.9h0M140.8 318.7h0M137.0 322.4h0M133.4 346.8h0M138.4 298.0h0M137.7 302.3h0M129.4 314.6h0M135.8 320.0h0M107.8 339.3h0M122.8 322.4h0M130.0 343.1h0M130.4 317.4h0M126.6 323.3h0M136.4 309.4h0M141.3 324.6h0M133.0 340.1h0M135.9 338.9h0M132.1 335.9h0M157.4 344.9h0M135.5 319.0h0M134.4 335.1h0M137.5 306.9h0M136.8 313.7h0M122.7 324.0h0M132.1 332.1h0M125.0 326.9h0M139.2 319.1h0M131.8 329.4h0M134.4 330.9h0M132.1 345.2h0M113.7 340.7h0M123.5 338.6h0M137.7 301.6h0M151.1 323.0h0M126.4 317.1h0M108.4 340.7h0M128.1 304.0h0M139.4 287.2h0M132.4 347.1h0M127.0 318.5h0M133.7 335.9h0M129.0 322.7h0M132.1 339.4h0M132.5 337.3h0M127.1 326.6h0M133.8 351.7h0M126.8 325.1h0M132.6 345.9h0M132.6 336.3h0M128.5 311.2h0M139.1 327.5h0M123.1 318.9h0M127.9 310.5h0M129.9 338.9h0M132.3 344.6h0M135.9 338.6h0M125.2 330.6h0M136.4 311.7h0M134.7 325.7h0M130.5 334.6h0M119.2 326.5h0M130.7 327.4h0M137.2 328.1h0M133.0 347.6h0M134.8 327.0h0M135.1 337.9h0M130.8 324.0h0M126.4 296.0h0M126.0 336.9h0M131.0 332.7h0M131.8 331.6h0M138.9 299.3h0M132.3 338.2h0M121.4 338.2h0M131.4 335.1h0M125.5 319.3h0M138.1 302.8h0M131.1 354.1h0M126.4 286.1h0M132.4 343.0h0M114.9 321.8h0M137.2 329.8h0M136.7 333.8h0M151.5 319.8h0M135.9 321.2h0M133.1 342.8h0M125.3 325.6h0M162.3 321.4h0M127.9 303.9h0M144.9 339.9h0M134.4 334.8h0M133.2 349.3h0M136.9 319.6h0M130.6 317.6h0M133.2 337.6h0M137.0 338.2h0M134.6 338.0h0M135.7 316.2h0M137.4 330.8h0M134.6 349.9h0M130.3 316.3h0M127.9 333.1h0M145.0 330.4h0M129.5 323.0h0M133.2 345.9h0M133.9 343.8h0M128.4 301.2h0M131.8 350.0h0M134.1 341.1h0M130.7 341.1h0M135.6 338.9h0M145.3 342.2h0M128.6 305.6h0M139.1 327.6h0M130.6 329.9h0M137.1 325.2h0M136.2 320.2h0M136.7 309.1h0M122.6 331.4h0M137.6 323.7h0M129.4 352.2h0M144.0 323.8h0M137.0 342.3h0M135.5 332.4h0M124.2 337.5h0M133.9 338.5h0M131.3 338.5h0M126.8 338.9h0M115.2 328.5h0M142.2 320.2h0M142.1 344.3h0M133.8 336.7h0M153.8 346.6h0M122.5 322.1h0M134.6 348.0h0M128.1 303.9h0M133.7 337.0h0M122.9 325.3h0M129.2 310.8h0M137.6 313.6h0M134.0 333.2h0M137.8 353.5h0M130.0 315.4h0M129.5 319.4h0M124.8 320.7h0M129.6 317.4h0M133.1 347.2h0M127.5 300.2h0M118.5 341.1h0M133.7 338.4h0M137.8 331.1h0M134.6 325.1h0M128.5 342.3h0M133.9 342.2h0M132.2 332.9h0M127.9 310.1h0M135.4 336.7h0M131.3 339.7h0M132.5 346.2h0M132.1 335.4h0M138.7 292.4h0M130.3 323.9h0M142.3 327.0h0M131.1 331.5h0M141.3 314.8h0M124.9 317.8h0M130.7 340.5h0M131.1 328.6h0M131.2 333.4h0M144.8 318.4h0M134.0 348.4h0M127.4 303.6h0M136.9 314.1h0M131.2 340.4h0M120.3 341.5h0M142.6 319.7h0M135.3 348.5h0M139.5 291.3h0M136.3 347.9h0M123.6 333.8h0M141.7 338.1h0M127.4 297.8h0M132.0 340.7h0M138.5 301.4h0M135.4 317.2h0M134.8 340.1h0M137.0 353.0h0M137.0 345.7h0M129.9 324.8h0M135.0 336.3h0M125.4 345.3h0M139.2 295.2h0M152.5 347.4h0M129.6 310.9h0M130.3 316.4h0M126.1 320.6h0M144.3 332.3h0M121.1 326.1h0M133.8 340.6h0M144.3 315.8h0M134.7 323.9h0M133.4 345.2h0M128.6 340.1h0M133.8 336.8h0M135.6 319.1h0M138.9 298.2h0M138.2 301.6h0M135.0 352.8h0M130.2 325.5h0M131.2 351.1h0M144.9 330.9h0M130.7 336.2h0M128.8 352.8h0M135.5 341.1h0M138.3 303.0h0M137.2 313.3h0M120.5 346.3h0M132.9 343.7h0M128.8 336.3h0M134.8 341.2h0M138.6 297.8h0M128.8 329.0h0M129.1 324.0h0M129.0 315.9h0M130.4 316.3h0M134.2 329.4h0M143.6 313.0h0M138.0 298.3h0M139.1 315.7h0M133.3 336.2h0M125.0 335.9h0M111.4 345.7h0M132.7 336.5h0M123.6 332.9h0M121.7 343.8h0M118.7 345.8h0M131.8 341.6h0M178.2 320.2h0M142.6 319.1h0M130.9 322.0h0M134.9 321.3h0M128.4 302.5h0M139.5 310.9h0M138.8 310.6h0M135.8 338.2h0M132.5 333.9h0M149.0 323.0h0M128.7 324.3h0M128.3 337.8h0M142.3 323.4h0M133.4 350.7h0M138.9 326.7h0M136.5 310.8h0M132.2 336.0h0M147.7 330.0h0M129.4 323.6h0M131.1 341.2h0M138.9 309.0h0M135.6 317.0h0M134.3 334.0h0M126.4 316.6h0M139.2 307.5h0M130.0 325.5h0M131.5 341.4h0M137.6 311.4h0M138.6 306.5h0M132.7 343.2h0M132.0 333.2h0M136.7 315.7h0M139.4 295.2h0M135.9 332.7h0M117.3 312.4h0M138.3 305.4h0M134.6 324.6h0M133.8 348.8h0M127.0 345.7h0M128.1 340.7h0M132.7 342.9h0M132.7 337.8h0M129.1 318.0h0M129.1 330.7h0M128.8 328.3h0M129.1 309.2h0M133.9 335.1h0M145.4 326.0h0M123.6 324.0h0M131.5 327.6h0M97.8 327.5h0M139.4 295.3h0M133.5 338.6h0M133.1 340.3h0M133.6 340.5h0M127.2 309.3h0M136.4 317.7h0M139.4 304.0h0M120.7 331.0h0M126.7 313.9h0M137.4 308.7h0M128.8 320.3h0M131.0 339.3h0M139.6 285.3h0M129.5 343.3h0M145.7 317.0h0M136.4 344.5h0M115.2 339.6h0M136.3 322.6h0M132.0 334.8h0M129.7 325.3h0M128.2 306.8h0M136.7 336.1h0M138.0 330.2h0M137.6 346.5h0M118.7 336.6h0M137.7 330.6h0M138.6 292.6h0M133.3 337.4h0M132.5 336.3h0M133.7 342.2h0M139.7 329.9h0M136.4 338.0h0M133.9 338.0h0M127.2 293.7h0M104.3 314.7h0M141.7 328.3h0M134.4 341.0h0M133.2 342.6h0M137.4 326.1h0M137.7 301.4h0M129.9 333.1h0M148.2 315.4h0M128.7 345.5h0M130.6 325.0h0M128.3 320.1h0M134.7 325.1h0M127.6 302.1h0M128.2 314.0h0M126.8 338.4h0M128.3 321.8h0M145.3 321.7h0M114.3 315.3h0M133.9 339.8h0M127.4 297.1h0M130.8 330.5h0M135.1 330.3h0M135.5 326.2h0M119.1 331.7h0M129.2 331.2h0M128.3 308.7h0M125.7 330.3h0M133.0 343.2h0M137.6 305.6h0M137.0 331.2h0M130.4 316.9h0M135.3 318.4h0M123.0 318.6h0M127.5 328.5h0M128.4 311.2h0M134.2 339.2h0M128.2 333.3h0M123.1 314.9h0M132.4 343.0h0M128.1 300.4h0M123.6 316.4h0M136.2 309.8h0M130.1 317.8h0M135.5 346.9h0M127.7 299.7h0M129.7 324.7h0M129.4 328.9h0M132.2 342.0h0M146.7 334.5h0M127.1 314.2h0M151.8 327.3h0M131.6 327.2h0M136.5 341.8h0M141.7 329.2h0M136.6 337.2h0M112.3 324.7h0M137.1 318.5h0M135.6 327.0h0M132.2 341.7h0M137.9 307.9h0M137.9 342.7h0M142.1 321.2h0M137.9 313.7h0M134.6 327.6h0M134.7 338.8h0M138.1 327.9h0M129.2 312.1h0M130.5 322.1h0M130.8 325.9h0M130.6 329.4h0M131.0 330.5h0M115.9 335.7h0M127.1 320.4h0M135.1 342.9h0M119.5 341.6h0M128.1 308.6h0M135.0 335.6h0M130.2 335.9h0M135.0 322.9h0M135.9 344.2h0M123.5 320.6h0M136.6 320.2h0M137.1 317.7h0M138.1 314.4h0M132.9 342.9h0M131.3 339.0h0M133.9 337.0h0M132.3 333.8h0M130.6 323.9h0M130.8 329.9h0M127.0 293.1h0M134.0 344.5h0M127.9 320.1h0M132.1 348.0h0M129.6 317.4h0M125.8 324.5h0M137.9 319.5h0M135.9 328.0h0M133.5 351.0h0M133.2 338.1h0M129.3 352.3h0M135.9 347.5h0M142.7 338.9h0M133.2 342.2h0M132.8 347.1h0M126.2 331.3h0M129.3 310.2h0M129.8 319.6h0M127.6 304.1h0M152.5 334.0h0M129.3 317.6h0M144.0 338.7h0M130.3 321.8h0M132.2 338.9h0M134.9 335.1h0M130.9 338.3h0M134.2 328.2h0M138.9 295.7h0M96.0 339.9h0M125.4 337.7h0M138.5 329.8h0M131.8 354.4h0M130.7 340.6h0M135.2 335.9h0M144.4 324.6h0M130.6 323.5h0M135.7 335.4h0M145.6 331.3h0M121.4 343.5h0M144.4 343.6h0M135.3 339.8h0M141.9 349.3h0M128.8 331.9h0M132.6 345.8h0M130.4 342.8h0M163.5 312.1h0M132.7 338.0h0M135.5 329.8h0M132.3 350.5h0M128.6 325.0h0M139.3 316.7h0M118.7 315.6h0M132.9 342.9h0M133.4 340.3h0M131.8 327.8h0M132.6 351.6h0M134.4 336.4h0M132.1 333.8h0M128.1 317.4h0M134.2 349.7h0M134.2 348.7h0M138.6 332.0h0M139.9 327.2h0M143.1 339.4h0M138.3 323.8h0M130.2 335.4h0M126.6 294.7h0M139.4 349.8h0M132.0 343.2h0M128.8 347.4h0M121.7 330.8h0M137.9 323.9h0M128.3 309.2h0M137.0 314.5h0M134.8 327.5h0M139.3 302.0h0M135.9 347.2h0M131.6 327.3h0M132.5 339.2h0M131.1 322.8h0M122.1 319.1h0M125.4 327.9h0M128.2 308.4h0M129.2 338.8h0M138.5 302.7h0M129.0 316.5h0M131.4 347.5h0M135.2 351.3h0M129.7 323.9h0M139.2 352.1h0M133.8 353.8h0M137.3 325.6h0M136.8 306.0h0M110.3 318.1h0M136.0 322.5h0M134.8 337.8h0M135.6 315.1h0M138.8 318.3h0M146.8 342.3h0M131.3 323.7h0M134.8 327.7h0M131.1 322.0h0M135.2 351.2h0M136.0 331.1h0M127.1 300.6h0M132.0 337.0h0M134.5 342.5h0M138.9 342.5h0M122.7 316.0h0M135.2 336.4h0M129.5 322.5h0M142.6 332.9h0M137.7 299.6h0M136.3 318.6h0M136.3 316.9h0M154.9 327.3h0M130.6 351.1h0M131.5 348.0h0M134.9 344.5h0M132.2 333.1h0M130.6 326.4h0M126.4 322.5h0M136.3 313.1h0M138.9 322.3h0M135.7 345.0h0M126.9 323.2h0M127.9 300.1h0M122.4 321.7h0M139.3 311.7h0M126.9 298.7h0M132.5 350.7h0M136.8 314.2h0M133.8 336.2h0M124.6 330.4h0M130.8 342.8h0M124.3 327.8h0M132.8 347.5h0M129.9 316.8h0M144.6 318.9h0M129.7 355.9h0M127.6 308.5h0M133.8 342.4h0M134.1 338.0h0M145.5 326.5h0M134.5 336.2h0M134.7 346.2h0M138.5 337.0h0M138.6 325.4h0M130.0 338.5h0M133.0 350.5h0M131.4 335.1h0M136.0 329.9h0M134.7 336.8h0M132.9 340.8h0M138.6 348.8h0M137.3 313.1h0M148.5 346.7h0M130.3 329.7h0M136.1 311.0h0M121.9 322.7h0M148.7 336.8h0M149.8 340.9h0M103.1 316.0h0M126.8 307.9h0M143.3 339.7h0M127.7 308.3h0M135.7 350.5h0M127.6 326.6h0M135.2 330.6h0M133.0 339.2h0M134.4 347.6h0M145.6 312.3h0M128.2 306.3h0M128.6 327.3h0M133.2 341.1h0M132.3 342.2h0M131.4 341.6h0M131.4 335.1h0M138.0 308.8h0M135.3 328.3h0M143.1 315.2h0M140.4 341.5h0M134.3 339.8h0M130.3 354.1h0M131.8 337.9h0M129.4 326.4h0M127.8 304.0h0M139.2 329.5h0M132.5 337.6h0M126.7 317.5h0M132.3 343.7h0M146.4 318.6h0M133.3 339.1h0M135.4 324.1h0M133.7 341.5h0M129.5 333.0h0M133.1 339.4h0M126.4 315.8h0M137.0 329.8h0M120.7 325.7h0M150.1 331.3h0M123.2 317.1h0M137.2 339.1h0M128.8 314.8h0M134.1 332.0h0M137.4 339.8h0M118.0 341.3h0M128.0 356.3h0M128.0 317.3h0M131.3 331.1h0M136.1 338.8h0M108.1 339.2h0M138.0 303.4h0M114.9 345.2h0M133.9 337.8h0M138.8 328.8h0M135.0 337.4h0M120.9 342.8h0M129.1 331.5h0M130.0 342.2h0M122.7 321.5h0M133.1 346.8h0M130.6 317.3h0M136.6 327.4h0M139.1 291.9h0M136.9 321.3h0M124.3 331.9h0M128.5 318.8h0M127.1 311.4h0M126.1 321.5h0M147.7 347.8h0M158.5 313.5h0M112.6 323.5h0M128.9 313.6h0M154.4 334.0h0M126.9 301.3h0M122.2 332.0h0M141.8 313.2h0M139.5 304.1h0M125.6 323.8h0M135.3 331.0h0M129.1 327.7h0M137.9 300.1h0M134.1 338.8h0M135.8 329.8h0M129.8 336.7h0M132.0 332.2h0M133.0 349.8h0M132.6 347.5h0M131.0 329.6h0M119.7 346.4h0M138.5 300.6h0M122.6 343.0h0M136.4 312.0h0M130.8 323.2h0M132.6 341.4h0M115.6 326.1h0M132.8 337.8h0M132.7 355.2h0M136.3 336.6h0M145.9 325.4h0M135.5 322.8h0M137.2 316.1h0M130.3 336.7h0M138.2 304.7h0M128.3 301.6h0M124.6 327.2h0M127.7 298.2h0M139.6 297.6h0M134.6 329.4h0M132.6 335.5h0M131.8 335.1h0M134.2 350.0h0M141.8 326.8h0M137.6 317.9h0M138.6 316.0h0M131.1 351.7h0M142.6 312.1h0M130.7 322.4h0M120.3 322.0h0M137.0 315.1h0M118.2 313.4h0M136.5 333.1h0M133.4 340.6h0M137.6 303.6h0M131.6 343.8h0M128.2 298.7h0M126.3 316.9h0M136.0 315.8h0M127.9 318.1h0M139.7 314.6h0M131.0 333.6h0M135.0 323.8h0M131.0 338.1h0M126.6 319.3h0M143.0 350.6h0M127.8 324.6h0M134.8 326.1h0M144.6 336.3h0M132.3 335.3h0M132.3 346.0h0M124.2 336.5h0M138.2 303.0h0M128.7 341.3h0M134.0 333.6h0M127.3 326.6h0M129.4 317.0h0M131.8 331.6h0M134.7 326.5h0M135.8 320.5h0M125.4 315.0h0M130.7 335.1h0M133.3 339.5h0M137.4 343.6h0M145.3 341.4h0M127.1 302.4h0M131.9 332.8h0M128.1 318.5h0M135.6 353.6h0M134.3 329.8h0M132.2 341.8h0M130.2 324.8h0M138.2 301.3h0M124.3 329.6h0M121.2 318.5h0M128.8 320.9h0M127.6 293.6h0M132.2 345.1h0M105.0 325.3h0M108.0 330.4h0M136.0 329.1h0M130.5 326.2h0M135.0 345.9h0M131.7 328.8h0M135.8 323.2h0M128.0 306.0h0M129.6 348.3h0M144.7 342.8h0M137.9 306.6h0M137.0 325.3h0M133.6 335.6h0M141.7 332.6h0M130.2 325.4h0M135.7 322.6h0M131.1 324.9h0M138.0 329.8h0M138.9 322.4h0M128.4 355.4h0M130.2 332.0h0M133.2 338.6h0M136.4 323.7h0M130.3 347.7h0M121.1 331.5h0M132.3 338.1h0M130.6 322.0h0M136.8 316.1h0M137.4 314.7h0M132.7 342.8h0M126.1 326.2h0M139.9 330.7h0M138.5 325.4h0M126.7 289.4h0M136.7 336.1h0M137.2 319.9h0M115.8 321.0h0M138.3 297.2h0M138.7 300.7h0M133.8 337.8h0M132.9 343.9h0M137.8 303.1h0M148.4 338.5h0M132.9 342.2h0M129.3 316.4h0M154.7 322.4h0M130.8 329.8h0M126.7 320.9h0M135.6 330.5h0M132.0 331.6h0M130.4 341.4h0M128.9 326.0h0M133.2 337.7h0M138.0 333.4h0M132.5 350.2h0M130.3 315.6h0M134.3 337.2h0M130.1 317.3h0M133.8 341.1h0M133.8 341.9h0M131.7 338.8h0M131.4 349.6h0M133.2 351.1h0M137.1 303.1h0M142.7 312.4h0M123.6 325.8h0M148.8 342.5h0M132.3 352.1h0M127.1 307.3h0M134.1 328.8h0M135.6 324.6h0M126.0 336.4h0M151.7 336.1h0M134.0 340.8h0M132.5 343.8h0M127.5 326.4h0M128.5 332.1h0M131.1 345.8h0M132.2 341.4h0M134.5 329.2h0M146.4 339.7h0M126.3 334.7h0M130.1 314.2h0M127.9 310.0h0M136.9 328.9h0M128.3 306.8h0M134.5 350.2h0M135.0 352.8h0M152.6 336.1h0M131.0 337.5h0M132.9 345.9h0M135.6 323.4h0M137.5 323.0h0M134.7 331.2h0M131.9 333.2h0M138.2 312.2h0M130.5 320.4h0M128.8 336.0h0M127.9 322.0h0M132.0 347.7h0M120.4 348.3h0M142.1 319.9h0M138.5 300.1h0M122.8 331.4h0M130.7 325.9h0M130.5 331.4h0M139.4 289.8h0M117.3 339.9h0M134.6 324.5h0M136.2 320.1h0M137.9 328.5h0M133.2 351.5h0M133.1 352.9h0M160.4 347.8h0M151.3 319.3h0M133.9 331.9h0M132.2 351.1h0M143.6 315.7h0M132.0 330.6h0M143.8 338.0h0M131.1 328.5h0M127.2 325.4h0M135.8 343.6h0M128.2 334.6h0M138.1 332.8h0M133.5 339.0h0M135.9 314.6h0M139.2 297.7h0M130.5 346.6h0M133.9 353.5h0M134.8 333.8h0M121.0 340.1h0M134.2 331.8h0M124.9 327.4h0M127.9 310.8h0M131.3 331.8h0M125.8 314.8h0M135.4 333.9h0M131.3 323.6h0M132.5 353.6h0M135.2 334.2h0M126.8 313.0h0M126.3 325.4h0M136.8 350.9h0M127.6 321.7h0M130.3 329.4h0M143.3 313.4h0M134.9 325.6h0M127.8 307.4h0M137.1 338.0h0M138.7 292.1h0M136.8 308.8h0M127.4 314.8h0M116.5 347.9h0M127.4 329.7h0M138.9 318.9h0M129.4 320.1h0M138.0 328.0h0M130.8 328.9h0M129.6 328.5h0M145.6 322.5h0M128.2 350.9h0M138.8 300.6h0M126.0 332.4h0M124.8 341.6h0M130.6 344.2h0M132.7 351.3h0M135.1 325.4h0M136.4 354.8h0M138.2 314.7h0M131.3 330.2h0M96.9 320.8h0M125.7 314.1h0M135.1 344.6h0M138.5 297.5h0M142.4 326.9h0M120.1 330.6h0M130.7 340.3h0M136.0 339.1h0M138.3 296.9h0M139.7 322.4h0M121.7 336.0h0M128.7 315.6h0M135.1 329.5h0M136.7 334.3h0M138.5 294.2h0M140.0 322.3h0M131.5 348.9h0M130.5 318.3h0M139.2 294.5h0M129.6 324.1h0M137.9 311.6h0M147.7 333.3h0M136.9 308.3h0M133.6 346.1h0M133.3 342.0h0M132.3 345.8h0M143.5 348.9h0M122.9 322.4h0M145.5 344.3h0M136.4 316.0h0M131.6 329.9h0M131.4 345.1h0M135.4 323.5h0M138.0 311.9h0M135.0 320.9h0M127.2 318.5h0M127.8 335.9h0M132.1 342.3h0M127.5 351.4h0M127.2 333.3h0M129.0 319.7h0M136.6 313.5h0M128.6 325.9h0M116.7 347.6h0M139.7 300.0h0M131.8 328.4h0M147.1 314.5h0M120.9 345.8h0M136.7 321.6h0M136.6 328.7h0M139.2 341.1h0M145.4 343.5h0M126.2 331.5h0M134.1 353.9h0M124.6 338.4h0M128.1 342.2h0M141.5 335.5h0M133.1 342.5h0M139.0 320.2h0M130.7 317.9h0M122.5 315.1h0M127.2 341.8h0M127.6 295.6h0M120.3 338.1h0M135.9 320.3h0M138.1 297.1h0M139.0 323.4h0M136.9 307.9h0M134.4 332.2h0M132.3 334.7h0M130.2 314.4h0M131.8 334.1h0M122.3 338.8h0M134.0 340.2h0M126.5 292.2h0M112.3 313.0h0M129.8 327.1h0M112.2 338.6h0M122.5 343.0h0M131.9 332.1h0M126.0 322.7h0M146.0 347.2h0M137.0 319.7h0M129.4 339.7h0M125.0 332.6h0M136.8 308.6h0M147.7 341.4h0M130.6 320.1h0M133.9 337.5h0M135.2 330.2h0M93.1 342.0h0M107.5 330.6h0M139.0 341.7h0M132.8 338.6h0M137.5 312.3h0M132.2 343.4h0M128.7 310.5h0M128.6 308.2h0M127.6 352.7h0M133.9 350.5h0M134.4 353.0h0M133.2 350.0h0M126.6 337.6h0M127.5 318.4h0M128.3 323.2h0M131.4 340.1h0M135.4 346.1h0M132.3 337.6h0M130.1 322.8h0M144.9 316.2h0M129.3 313.0h0M137.6 300.6h0M129.5 346.3h0M138.2 336.1h0M126.5 308.3h0M144.6 325.8h0M138.2 296.2h0M128.2 329.8h0M139.7 332.4h0M115.0 347.9h0M129.4 327.8h0M132.5 335.5h0M132.6 335.5h0M127.5 309.1h0M135.1 321.7h0M127.4 317.2h0M140.0 321.6h0M139.8 313.8h0M135.8 350.0h0M126.7 293.9h0M127.7 309.4h0M137.6 299.6h0M126.5 298.8h0M122.6 342.2h0M131.7 344.5h0M116.2 321.6h0M132.5 341.7h0M124.5 333.1h0M133.0 340.1h0M121.2 336.1h0M133.1 341.8h0M132.8 339.3h0M138.0 323.0h0M137.5 314.7h0M121.5 317.3h0M119.7 349.7h0M132.7 340.5h0M134.8 355.5h0M149.5 324.3h0M113.6 315.3h0M140.0 313.0h0M121.6 316.2h0M136.0 316.6h0M128.2 325.7h0M139.2 292.0h0M124.6 318.6h0M153.9 314.8h0M102.9 336.9h0M127.7 341.2h0M139.8 312.7h0M133.5 340.3h0M134.4 346.0h0M115.6 325.0h0M132.1 339.7h0M134.4 352.7h0M134.3 333.4h0M127.4 335.2h0M133.4 338.9h0M137.4 344.0h0M142.5 331.6h0M139.2 290.9h0M131.5 338.0h0M127.5 326.9h0M139.6 314.4h0M139.6 320.9h0M127.4 292.3h0M122.4 350.5h0M131.6 350.7h0M129.8 312.6h0M133.5 345.1h0M126.2 333.9h0M131.9 331.0h0M128.3 317.8h0M139.4 326.9h0M137.3 336.3h0M144.1 349.0h0M135.7 316.7h0M132.0 339.0h0M128.4 307.6h0M133.3 342.4h0M136.2 336.1h0M150.1 325.7h0M129.1 334.9h0M121.5 339.0h0M132.4 343.5h0M135.7 321.4h0M138.1 324.0h0M130.4 344.3h0M137.3 310.1h0M133.4 346.0h0M131.0 343.6h0M130.7 319.6h0M139.7 290.5h0M142.1 347.6h0M137.3 325.1h0M131.6 326.2h0M131.1 323.7h0M128.2 308.6h0M131.8 340.2h0M131.1 327.8h0M131.7 341.2h0M135.9 316.5h0M129.7 353.2h0M151.3 316.0h0M134.9 321.9h0M133.3 344.2h0M132.1 349.3h0M143.0 315.7h0M128.6 311.7h0M138.2 333.4h0M115.7 316.0h0M136.5 316.0h0M162.0 339.8h0M137.7 311.5h0M134.2 331.8h0M136.7 309.4h0M130.8 325.5h0M127.2 295.9h0M133.7 333.6h0M132.0 339.2h0M134.3 327.9h0M125.4 328.1h0M127.9 348.5h0M120.7 318.0h0M138.4 325.7h0M128.4 325.7h0M135.4 330.2h0M129.5 340.6h0M129.0 309.1h0M136.1 348.9h0M138.4 328.1h0M132.0 338.5h0M131.1 340.9h0M138.2 315.0h0M139.4 313.2h0M136.3 317.7h0M132.8 342.6h0M132.4 334.4h0M133.3 338.6h0M140.0 320.3h0M130.0 347.3h0M129.5 316.5h0M130.0 330.7h0M131.9 345.9h0M114.2 343.3h0M109.0 347.2h0M138.0 337.8h0M128.8 319.7h0M127.0 323.0h0M130.5 318.5h0M135.5 343.1h0M134.0 347.2h0M136.3 312.2h0M122.8 317.1h0M136.7 331.0h0M126.8 328.1h0M133.2 341.1h0M117.2 328.1h0M129.4 348.2h0M127.0 289.8h0M137.0 310.2h0M136.9 310.5h0M128.6 328.4h0M137.2 314.1h0M136.7 328.4h0M126.6 308.4h0M134.2 341.1h0M139.7 293.5h0M139.6 318.3h0M129.0 354.0h0M127.8 295.0h0M130.5 326.7h0M133.4 340.6h0M140.7 331.0h0M127.7 319.8h0M130.5 319.7h0M139.2 302.5h0M128.3 333.3h0M128.0 328.1h0M124.6 348.1h0M128.7 319.6h0M134.8 322.6h0M131.1 328.3h0M136.0 323.2h0M135.1 327.3h0M130.6 336.8h0M123.3 337.3h0M130.6 342.9h0M122.5 336.7h0M131.5 332.6h0M136.9 328.3h0M142.3 344.8h0M127.5 301.3h0M133.2 355.9h0M128.8 308.3h0M121.4 335.1h0M147.0 327.1h0M132.0 344.3h0M130.7 334.6h0M129.0 329.5h0M136.9 305.6h0M134.7 326.2h0M128.9 335.1h0M132.0 331.2h0M118.5 343.8h0M127.4 299.4h0M130.7 319.0h0M129.7 313.5h0M127.0 297.1h0M118.7 349.4h0M136.2 342.0h0M137.5 310.0h0M127.7 331.9h0M136.1 322.7h0M129.4 312.6h0M134.5 326.6h0M138.4 303.6h0M127.2 333.4h0M131.2 335.5h0M130.3 320.8h0M135.7 337.0h0M141.4 314.5h0M132.6 349.4h0M133.9 337.2h0M137.8 310.3h0M135.2 324.2h0M130.8 327.2h0M146.1 317.3h0M134.6 325.5h0M132.5 336.0h0M132.2 341.4h0M132.4 344.7h0M126.3 291.5h0M139.1 316.2h0M134.0 329.4h0M131.0 347.8h0M138.0 349.4h0M135.2 334.7h0M154.7 321.5h0M128.8 307.7h0M109.7 314.4h0M137.0 344.3h0M148.8 324.3h0M136.5 321.9h0M117.8 348.6h0M139.2 305.9h0M128.4 301.2h0M136.6 312.8h0M126.6 334.7h0M138.0 327.3h0M138.1 303.8h0M131.1 348.5h0M115.7 327.4h0M139.1 307.7h0M128.9 311.7h0M130.5 338.4h0M131.2 326.0h0M130.2 316.4h0M134.2 344.8h0M136.6 321.6h0M137.1 348.5h0M126.5 335.0h0M135.8 353.9h0M130.1 331.6h0M136.9 304.6h0M138.8 305.5h0M138.2 309.5h0M132.3 339.8h0M133.3 342.4h0M139.5 326.4h0M126.4 287.5h0M137.8 322.5h0M129.6 338.1h0M128.9 306.2h0M137.3 327.5h0M135.7 318.0h0M134.2 346.1h0M129.3 331.9h0M137.8 351.6h0M118.0 321.8h0M129.7 314.6h0M134.1 345.9h0M132.0 353.6h0M135.0 338.1h0M137.1 313.7h0M136.4 343.8h0M140.6 340.3h0M125.4 314.1h0M134.0 344.3h0M130.0 340.9h0M131.6 342.0h0M128.0 311.2h0M125.3 352.0h0M136.7 341.2h0M133.4 348.8h0M130.3 322.0h0M156.8 315.1h0M138.4 292.6h0M133.6 335.4h0M123.5 328.0h0M131.0 331.4h0M133.2 342.7h0M128.9 316.6h0M138.4 299.9h0M136.9 337.1h0M136.4 320.2h0M130.8 338.4h0M132.4 335.5h0M129.3 317.1h0M132.1 338.7h0M129.9 312.8h0M151.8 331.1h0M131.2 355.9h0M120.3 332.8h0M134.1 333.0h0M137.6 308.0h0M130.4 324.0h0M128.8 330.8h0M129.1 335.5h0M126.7 319.5h0M133.5 334.5h0M125.4 312.8h0M130.9 333.4h0M139.4 297.3h0M127.3 303.4h0M136.3 322.5h0M151.9 318.3h0M138.0 321.2h0M131.7 339.2h0M127.6 318.7h0M132.3 336.3h0M131.3 325.8h0M133.4 337.4h0M132.3 346.1h0M122.7 350.1h0M133.3 339.7h0M128.3 325.5h0M137.6 325.9h0M138.8 325.6h0M135.2 334.4h0M136.6 317.0h0M139.5 307.9h0M137.1 321.1h0M136.8 310.3h0M133.7 343.5h0M122.4 336.5h0M138.8 334.8h0M143.4 335.4h0M137.5 321.9h0M137.2 335.3h0M144.3 316.5h0M131.2 347.8h0M131.0 320.0h0M127.5 315.3h0M139.0 294.8h0M131.5 333.8h0M136.7 317.2h0M142.6 327.9h0M90.5 340.0h0M135.2 347.6h0M124.2 342.0h0M138.1 300.1h0M137.4 320.7h0M133.8 338.4h0M133.6 338.0h0M128.3 313.5h0M131.8 350.7h0M131.4 329.0h0M139.2 301.8h0M126.5 309.7h0M134.7 331.7h0M129.2 333.8h0M125.1 326.7h0M123.0 314.3h0M128.7 321.3h0M129.9 314.6h0M135.6 323.7h0M135.0 352.4h0M130.1 341.1h0M128.9 340.2h0M145.7 323.9h0M133.3 341.5h0M136.3 334.7h0M131.3 328.3h0M130.1 320.1h0M138.8 297.7h0M145.5 313.1h0M144.1 347.8h0M137.8 299.6h0M131.4 329.7h0M132.7 341.0h0M132.4 345.3h0M116.8 336.3h0M141.8 333.2h0M132.1 337.0h0M125.1 334.6h0M128.8 341.9h0M138.4 312.1h0M139.7 310.2h0M134.7 350.5h0M136.1 349.1h0M130.2 330.2h0M133.8 340.3h0M127.3 332.7h0M131.8 329.1h0M132.0 331.4h0M141.1 347.3h0M136.0 331.6h0M131.7 347.3h0M133.1 347.7h0M118.7 334.0h0M132.4 334.6h0M134.7 347.4h0M115.9 335.9h0M132.5 340.3h0M126.6 285.3h0M132.5 339.7h0M127.1 299.4h0M137.5 312.1h0M120.2 329.3h0M129.4 332.0h0M132.9 353.6h0M137.8 313.3h0M125.1 323.6h0M155.7 330.1h0M126.6 314.6h0M137.8 311.3h0M127.9 310.7h0M152.5 316.3h0M126.7 308.6h0M127.8 336.0h0M120.8 328.6h0M131.7 334.0h0M131.9 344.4h0M126.7 332.4h0M122.6 315.0h0M128.0 333.5h0M143.1 350.5h0M122.0 313.9h0M127.3 314.3h0M133.3 349.4h0M140.6 337.0h0M129.7 320.5h0M153.4 345.9h0M127.0 320.6h0M132.6 343.7h0M127.3 354.8h0M130.4 330.2h0M142.7 342.1h0M163.9 343.7h0M130.9 326.1h0M133.2 350.4h0M138.0 325.1h0M133.9 332.7h0M127.7 318.0h0M146.1 332.6h0M132.0 337.2h0M123.1 329.9h0M132.0 346.6h0M129.0 346.9h0M127.4 304.6h0M138.4 311.2h0M124.8 335.4h0M132.1 341.1h0M137.6 328.2h0M129.4 338.0h0M128.3 317.7h0M125.4 343.3h0M128.1 299.3h0M139.2 289.7h0M132.7 337.2h0M123.7 324.1h0M112.3 330.7h0M132.5 353.1h0M130.6 335.1h0M140.0 335.2h0M130.0 325.6h0M137.4 322.4h0M133.6 340.6h0M136.1 325.5h0M131.9 335.8h0M133.2 347.9h0M144.8 337.4h0M123.0 315.5h0M127.9 340.3h0M132.9 337.8h0M138.0 307.1h0M130.8 352.2h0M116.7 314.1h0M110.7 337.3h0M134.2 328.7h0M128.4 304.1h0M137.5 308.7h0M132.7 353.9h0M123.2 333.9h0M114.7 322.9h0M144.4 322.7h0M137.2 316.5h0M132.7 338.6h0M128.2 310.3h0M135.8 333.5h0M130.4 328.8h0M129.3 340.8h0M130.8 330.3h0M136.6 332.3h0M129.8 342.8h0M130.6 335.2h0M130.1 316.6h0M129.9 322.7h0M137.2 333.5h0M128.6 330.7h0M129.8 319.8h0M136.9 324.8h0M134.0 345.9h0M129.6 314.4h0M132.1 337.8h0M129.0 308.4h0M136.4 354.1h0M126.2 335.5h0M132.4 339.3h0M130.7 331.4h0M135.7 330.3h0M127.4 302.9h0M133.0 353.9h0M131.6 333.0h0M138.5 312.4h0M131.9 341.8h0M127.3 320.6h0M135.3 330.7h0M125.0 333.8h0M134.2 349.3h0M147.3 344.5h0M137.0 326.8h0M129.6 347.4h0M142.3 316.5h0M129.8 314.2h0M127.0 306.9h0M132.6 350.4h0M144.0 326.2h0M134.2 331.0h0M131.6 330.4h0M132.1 331.9h0M128.8 318.4h0M126.9 294.3h0M128.6 327.1h0M126.3 353.4h0M139.5 318.0h0M135.4 327.8h0M126.7 334.5h0M124.8 329.5h0M108.1 321.2h0M134.6 323.9h0M139.0 290.8h0M135.7 327.1h0M127.0 292.7h0M136.4 327.5h0M128.5 326.6h0M137.7 347.0h0M135.3 341.6h0M133.4 341.7h0M137.5 307.4h0M132.1 355.2h0M131.2 324.2h0M137.4 321.1h0M123.4 315.8h0M135.1 339.9h0M128.6 312.3h0M136.9 307.8h0M133.6 339.6h0M137.3 324.4h0M132.0 354.4h0M126.9 351.9h0M131.9 333.0h0M131.0 331.5h0M121.1 327.8h0M127.2 311.3h0M135.8 344.8h0M137.5 306.8h0M128.3 352.2h0M137.6 323.0h0M139.6 288.5h0M123.0 339.2h0M140.1 336.8h0M134.2 340.6h0M139.6 286.0h0M124.8 323.8h0M140.7 330.9h0M132.8 340.8h0M126.6 340.5h0M133.1 350.3h0M136.6 321.1h0M128.4 313.1h0M137.6 333.7h0M133.2 348.8h0M126.5 306.4h0M135.6 342.7h0M134.0 332.9h0M137.8 311.8h0M129.7 346.6h0M143.8 347.1h0M123.9 313.2h0M154.0 347.0h0M120.7 324.4h0M127.5 301.2h0M132.7 338.3h0M114.2 330.8h0M137.5 317.4h0M131.4 329.7h0M129.5 313.4h0M134.8 341.9h0M131.8 337.3h0M131.0 337.0h0M131.9 335.9h0M133.7 352.2h0M134.2 330.8h0M126.2 346.8h0M131.3 323.8h0M123.5 317.9h0M130.5 318.7h0M126.7 316.2h0M129.1 324.4h0M121.0 317.8h0M131.7 338.1h0M132.9 351.9h0M135.0 343.7h0M132.8 348.1h0M132.1 344.5h0M127.0 353.0h0M125.9 323.2h0M133.6 338.1h0M134.9 348.0h0M131.0 338.3h0M136.0 344.0h0M128.2 345.7h0M121.0 319.3h0M137.5 333.9h0M131.0 330.9h0M148.6 342.0h0M137.8 319.4h0M133.7 352.3h0M130.2 341.7h0M125.6 319.2h0M132.5 336.1h0M127.8 298.0h0M130.8 334.9h0M127.3 320.4h0M128.9 304.5h0M129.9 311.2h0M137.7 313.8h0M127.3 354.1h0M143.7 314.4h0M134.7 332.0h0M131.0 353.2h0M141.8 336.8h0M161.7 338.0h0M135.8 322.7h0M140.7 339.4h0M132.7 340.7h0M131.0 328.5h0M130.4 346.7h0M131.1 336.3h0M134.4 329.5h0M136.2 336.7h0M129.1 333.1h0M134.0 329.4h0M141.9 348.6h0M144.1 347.3h0M134.4 346.2h0M131.9 349.9h0M129.6 332.0h0M125.5 321.8h0M132.1 335.9h0M139.5 324.2h0M153.0 328.9h0M147.3 327.4h0M128.6 310.7h0M148.3 329.7h0M133.7 337.8h0M128.9 312.8h0M136.1 323.6h0M135.7 328.9h0M140.6 329.1h0M137.3 316.1h0M128.0 321.0h0M140.7 335.9h0M145.2 329.4h0M136.4 318.2h0M128.1 303.7h0M140.3 322.8h0M138.3 315.4h0M132.9 353.0h0M108.5 343.4h0M136.1 328.1h0M139.4 299.0h0M138.2 303.7h0M137.0 316.7h0M140.6 314.5h0M123.6 323.7h0M123.3 347.7h0M139.4 340.7h0M134.2 332.9h0M100.2 329.9h0M130.7 325.0h0M123.1 334.4h0M136.1 341.6h0M118.0 345.1h0M136.1 345.3h0M134.3 336.4h0M134.0 348.2h0M136.8 305.7h0M125.1 320.0h0M131.1 327.4h0M150.9 342.2h0M136.9 306.6h0M124.1 322.4h0M134.9 336.5h0M134.2 332.5h0M129.3 326.1h0M135.5 344.1h0M137.6 304.4h0M135.2 321.0h0M126.8 292.4h0M133.7 340.1h0M132.5 337.1h0M128.0 315.8h0M129.8 310.3h0M139.7 297.6h0M131.5 327.9h0M132.5 337.4h0M138.6 322.8h0M113.2 326.9h0M129.0 305.3h0M134.1 335.8h0M134.2 343.2h0M121.3 348.0h0M141.8 347.1h0M125.7 338.2h0M138.6 332.7h0M122.7 336.1h0M134.8 341.7h0M138.9 290.4h0M132.6 338.5h0M149.1 329.1h0M137.0 329.8h0M138.4 329.9h0M128.4 317.4h0M129.1 309.5h0M132.7 340.9h0M132.8 345.8h0M131.0 334.8h0M126.5 323.6h0M126.7 310.3h0M132.5 340.1h0M136.4 332.7h0M139.5 304.6h0M130.2 317.2h0M128.0 298.4h0M137.4 320.5h0M113.9 321.7h0M133.5 352.6h0M128.7 303.5h0M125.3 329.0h0M133.8 339.0h0M130.2 325.9h0M138.0 307.5h0M132.4 340.6h0M137.7 309.1h0M139.1 296.4h0M136.5 317.1h0M127.2 293.6h0M135.0 338.3h0M137.8 349.8h0M128.4 345.6h0M127.0 289.2h0M127.7 326.5h0M129.1 332.5h0M127.3 312.5h0M136.6 313.6h0M130.1 329.6h0M132.8 337.0h0M132.6 340.8h0M128.1 349.0h0M139.0 344.1h0M109.8 319.4h0M129.7 342.2h0M135.7 320.0h0M135.1 327.0h0M134.8 337.8h0M149.8 323.1h0M133.4 338.4h0M127.6 313.1h0M126.0 339.1h0M142.2 323.7h0M126.8 316.8h0M130.2 342.3h0M138.6 295.2h0M132.6 345.8h0M137.0 303.7h0M131.1 343.5h0M136.0 314.0h0M135.7 316.3h0M135.6 318.7h0M154.5 318.5h0M133.2 350.4h0M149.3 331.7h0M137.9 329.2h0M133.6 353.0h0M136.4 322.6h0M132.3 335.7h0M134.3 344.0h0M137.6 317.1h0M131.2 327.5h0M118.9 337.7h0M139.0 319.2h0M130.2 315.3h0M137.3 328.0h0M133.5 336.6h0M112.3 327.8h0M132.4 337.9h0M126.7 289.8h0M146.2 344.6h0M136.6 314.3h0M131.9 334.5h0M147.1 317.0h0M131.4 333.1h0M131.5 334.4h0M146.1 330.8h0M132.6 338.6h0M138.3 298.8h0M130.7 335.1h0M127.2 310.8h0M139.8 335.4h0M138.0 333.1h0M137.0 331.2h0M132.0 343.8h0M130.9 328.9h0M131.6 334.8h0M138.3 297.5h0M137.2 320.2h0M134.6 340.4h0M129.3 316.1h0M124.2 351.2h0M128.0 329.5h0M116.3 325.5h0M133.6 335.2h0M143.0 343.9h0M128.9 331.1h0M143.1 337.9h0M134.5 338.3h0M130.6 322.5h0M133.3 340.6h0M114.7 316.0h0M128.5 308.0h0M137.0 318.7h0M135.5 323.7h0M134.8 352.4h0M133.1 343.3h0M138.1 322.5h0M135.3 328.6h0M130.9 339.3h0M121.5 317.9h0M128.7 329.0h0M130.9 329.7h0M131.7 345.0h0M142.4 336.1h0M122.5 329.7h0M131.3 326.5h0M130.1 329.7h0M133.6 334.9h0M136.2 334.1h0M127.2 311.8h0M139.9 335.5h0M141.0 328.8h0M141.8 331.1h0M139.2 338.2h0M128.5 340.2h0M142.8 323.8h0M135.2 340.2h0M141.3 335.6h0M132.9 339.8h0M126.8 297.5h0M127.9 306.6h0M131.4 337.1h0M131.2 350.0h0M128.4 327.7h0M136.3 321.4h0M126.2 327.6h0M126.6 306.2h0M133.1 350.5h0M133.4 338.8h0M135.4 318.5h0M124.7 317.7h0M134.4 349.8h0M130.8 337.6h0M135.4 329.8h0M129.2 306.7h0M120.7 332.8h0M133.0 347.5h0M130.7 321.3h0M135.8 327.6h0M138.1 308.8h0M130.0 317.3h0M139.1 289.8h0M132.0 352.1h0M128.3 342.8h0M127.9 317.1h0M128.4 325.8h0M123.4 318.8h0M127.1 292.4h0M129.6 327.4h0M134.2 342.0h0M130.6 337.8h0M110.3 338.8h0M138.6 296.7h0M143.3 316.4h0M142.2 317.1h0M132.2 333.8h0M127.2 342.4h0M136.9 313.5h0M139.5 314.9h0M131.0 327.8h0M137.8 349.4h0M129.2 330.3h0M143.7 318.0h0M129.3 311.0h0M133.5 344.8h0M135.5 316.4h0M130.3 346.6h0M105.2 313.0h0M132.3 335.9h0M132.4 345.1h0M131.6 328.4h0M127.3 297.7h0M136.6 319.9h0M145.1 315.3h0M136.7 316.2h0M123.1 349.6h0M130.7 349.4h0M136.8 321.6h0M129.9 324.2h0M134.1 332.5h0M144.6 317.4h0M129.4 328.5h0M134.0 353.3h0M141.1 324.1h0M127.8 314.0h0M132.0 344.6h0M132.1 336.4h0M138.1 337.9h0M130.6 336.8h0M128.7 304.5h0M127.0 318.9h0M134.9 341.5h0M137.3 312.1h0M131.8 353.5h0M105.5 318.0h0M131.1 323.9h0M133.0 339.1h0M139.4 333.7h0M139.4 304.9h0M138.0 308.2h0M134.2 327.8h0M130.5 321.9h0M131.6 347.2h0M135.7 315.3h0M138.5 299.7h0M141.5 335.9h0M134.3 337.9h0M132.4 333.4h0M128.8 338.5h0M133.6 345.9h0M135.7 324.2h0M131.3 330.2h0M145.6 336.1h0M128.8 339.5h0M149.1 324.2h0M119.7 342.0h0M129.2 349.7h0M137.3 341.0h0M131.4 330.9h0M130.1 343.2h0M134.2 333.8h0M132.4 352.4h0M136.7 308.8h0M137.0 326.4h0M133.5 338.0h0M129.6 320.9h0M130.4 330.7h0M137.3 344.4h0M127.9 301.1h0M140.4 312.3h0M129.2 327.6h0M157.9 319.4h0M123.7 327.3h0M133.8 331.5h0M136.8 312.8h0M128.0 307.6h0M128.4 324.1h0M128.9 323.3h0M109.0 325.8h0M130.8 336.7h0M129.2 326.3h0M133.0 352.1h0M133.3 337.3h0M143.4 319.1h0M131.0 337.2h0M136.1 325.6h0M127.0 301.5h0M134.9 352.0h0M134.4 338.9h0M131.4 328.8h0M137.4 314.4h0M136.5 316.5h0M134.2 334.5h0M133.6 352.9h0M137.5 322.2h0M129.0 333.3h0M128.4 312.1h0M136.4 321.1h0M132.5 336.6h0M139.9 329.3h0M137.4 306.3h0M133.2 337.4h0M132.5 335.2h0M126.1 338.3h0M135.3 327.4h0M132.1 330.7h0M131.9 338.3h0M127.0 327.7h0M135.2 354.2h0M137.3 313.8h0M130.6 341.8h0M132.3 346.1h0M124.2 342.8h0M138.0 320.5h0M138.6 335.3h0M135.9 315.5h0M138.6 310.2h0M128.1 345.1h0M129.7 321.1h0M123.6 330.6h0M136.0 331.6h0M127.8 335.6h0M139.7 301.1h0M130.1 353.6h0M137.5 308.5h0M138.6 341.0h0M126.8 305.8h0M136.2 315.0h0M138.6 309.3h0M136.2 340.0h0M128.6 325.1h0M137.0 319.6h0M136.3 318.9h0M128.3 306.3h0M132.7 338.2h0M120.0 343.1h0M130.3 345.0h0M126.3 325.5h0M127.5 316.9h0M138.8 312.5h0M127.8 313.9h0M131.9 332.1h0M138.3 309.0h0M135.7 324.2h0M139.1 289.5h0M129.5 332.6h0M134.0 343.4h0M134.5 326.1h0M128.8 302.3h0M134.3 344.4h0M118.0 345.3h0M132.0 346.0h0M140.1 343.8h0M131.9 346.0h0M132.2 349.6h0M128.9 322.3h0M132.7 341.7h0M133.2 349.5h0M135.7 333.4h0M142.7 323.2h0M131.1 331.3h0M136.5 355.4h0M122.9 321.7h0M126.0 327.8h0M132.4 337.3h0M123.2 321.1h0M131.2 331.7h0M136.8 324.9h0M135.0 326.6h0M139.5 318.0h0M133.2 351.1h0M128.7 354.5h0M133.7 346.7h0M131.5 334.6h0M135.4 346.9h0M139.2 294.6h0M138.5 313.0h0M124.2 324.7h0M134.9 333.9h0M136.8 351.3h0M135.9 316.2h0M139.3 324.6h0M138.3 311.2h0M135.3 346.5h0M128.3 318.2h0M145.1 347.6h0M151.1 322.7h0M132.1 339.1h0M130.9 328.4h0M142.9 346.3h0M130.1 314.0h0M129.9 327.2h0M141.8 349.0h0M132.0 330.5h0M136.9 346.3h0M136.1 356.1h0M141.0 313.5h0M126.5 300.5h0M136.8 319.9h0M134.6 333.4h0M136.3 327.4h0M111.3 331.7h0M128.2 320.0h0M137.2 333.3h0M142.0 330.7h0M126.4 292.9h0M132.6 339.0h0M135.0 345.6h0M131.1 328.3h0M128.3 338.6h0M128.5 334.1h0M127.4 352.0h0M128.7 312.9h0M125.9 345.4h0M126.7 333.2h0M127.4 299.5h0M133.2 352.8h0M155.0 316.5h0M128.4 311.6h0M129.8 345.5h0M135.5 339.2h0M142.4 336.5h0M138.3 334.5h0M142.8 324.7h0M138.5 304.0h0M128.0 299.9h0M135.2 327.1h0M137.5 323.1h0M135.1 332.9h0M133.1 345.8h0M134.9 333.0h0M131.7 340.2h0M128.2 344.3h0M125.2 330.1h0M138.7 314.8h0M132.6 338.1h0M127.2 318.8h0M132.6 346.7h0M130.5 336.4h0M133.5 346.4h0M134.3 341.1h0M127.6 333.9h0M130.9 351.0h0M137.6 308.1h0M132.7 339.7h0M129.5 351.3h0M138.4 309.0h0M136.6 318.7h0M138.5 300.5h0M131.1 348.1h0M107.0 339.7h0M127.8 314.0h0M130.8 319.1h0M131.5 337.1h0M139.1 292.0h0M125.4 328.9h0M137.4 353.0h0M141.0 312.4h0M127.2 323.2h0M94.7 338.5h0M133.4 336.6h0M134.4 353.1h0M127.2 345.4h0M127.7 310.9h0M137.0 303.4h0M154.6 332.4h0M143.9 346.2h0M138.4 318.8h0M132.5 351.4h0M132.4 344.2h0M135.0 333.5h0M128.3 335.7h0M130.4 321.4h0M141.3 321.6h0M145.3 318.9h0M126.5 335.8h0M139.1 289.6h0M135.6 327.3h0M121.4 349.8h0M123.2 313.0h0M135.4 327.6h0M122.1 344.5h0M128.8 309.6h0M138.0 341.0h0M138.1 301.4h0M123.8 339.8h0M131.6 349.1h0M136.6 322.5h0M136.0 318.1h0M129.1 333.0h0M122.4 344.1h0M129.3 318.2h0M135.7 352.7h0M133.6 339.7h0M128.0 295.6h0M129.2 332.6h0M135.3 325.4h0M127.1 332.7h0M132.5 337.5h0M130.5 320.2h0M133.1 344.7h0M131.6 330.1h0M128.5 321.9h0M135.9 346.7h0M136.3 338.6h0M167.8 323.6h0M137.8 333.4h0M133.7 339.5h0M133.0 353.1h0M143.7 331.3h0M123.9 332.8h0M137.5 340.9h0M130.3 318.9h0M125.1 336.8h0M130.3 333.8h0M126.6 304.7h0M129.4 336.3h0M131.3 349.2h0M127.7 304.7h0M121.8 336.8h0M129.7 314.9h0M127.8 322.4h0M128.3 305.3h0M127.5 345.3h0M140.5 319.1h0M133.9 347.7h0M130.4 334.6h0M137.5 329.6h0M140.0 328.6h0M115.8 328.9h0M132.0 335.9h0M122.0 345.1h0M139.3 327.8h0M134.8 340.2h0M132.0 329.6h0M130.6 323.0h0M156.6 342.1h0M138.1 308.9h0M136.3 328.8h0M137.4 351.5h0M134.0 348.5h0M137.6 309.1h0M133.8 332.0h0M122.7 340.4h0M127.6 309.4h0M133.1 354.8h0M143.7 333.8h0M136.1 326.4h0M130.6 325.2h0M133.7 337.8h0M127.2 341.4h0M137.8 303.3h0M126.8 300.1h0M138.8 291.5h0M127.9 300.8h0M133.6 340.6h0M133.6 340.4h0M131.2 323.5h0M129.2 317.4h0M146.1 323.3h0M125.4 336.1h0M134.1 337.1h0M141.7 315.4h0M134.4 328.7h0M135.9 330.0h0M143.9 323.6h0M122.5 337.5h0M130.0 342.2h0M129.3 328.7h0M129.4 337.3h0M128.3 302.7h0M131.3 337.6h0M126.8 295.9h0M133.1 353.3h0M111.0 327.2h0M130.1 323.8h0M133.1 339.4h0M126.6 327.3h0M138.9 349.4h0M127.6 313.2h0M138.0 330.2h0M136.5 310.1h0M127.3 340.2h0M123.9 342.0h0M131.3 341.0h0M128.9 331.4h0M135.9 324.2h0M136.9 343.1h0M128.4 302.5h0M131.0 334.4h0M124.0 318.8h0M127.2 290.2h0M129.8 323.2h0M136.6 309.8h0M132.4 341.9h0M128.0 326.0h0M130.4 321.3h0M143.9 324.2h0M125.3 314.6h0M122.2 319.1h0M128.2 336.2h0M139.8 341.2h0M126.5 327.1h0M140.4 339.9h0M132.9 343.6h0M103.3 332.0h0M125.8 343.0h0M134.1 338.1h0M129.4 313.0h0M135.3 332.2h0M136.4 330.1h0M113.9 347.4h0M143.1 345.0h0M133.6 343.7h0M132.3 350.4h0M134.1 348.0h0M131.7 335.1h0M130.3 339.3h0M128.9 306.4h0M123.9 313.9h0M129.1 305.4h0M118.7 325.8h0M128.5 313.8h0M115.5 331.2h0M137.6 302.8h0M128.1 326.9h0M135.1 336.7h0M137.8 308.3h0M136.5 344.6h0M134.4 330.6h0M127.4 299.7h0M114.1 324.8h0M139.0 310.0h0M132.1 332.6h0M146.9 338.7h0M138.4 345.8h0M135.5 331.7h0M137.5 336.8h0M137.0 342.5h0M121.0 345.5h0M97.6 337.3h0M134.5 350.9h0M133.2 351.2h0M129.8 346.1h0M126.4 314.6h0M131.4 334.2h0M137.5 330.5h0M128.6 331.4h0M138.4 303.9h0M130.2 313.6h0M133.5 343.4h0M133.2 347.6h0M138.7 320.5h0M135.3 336.7h0M127.6 339.6h0M137.6 317.8h0M132.3 340.9h0M138.6 304.6h0M123.2 314.8h0M130.8 321.2h0M131.9 355.5h0M137.3 318.0h0M126.9 339.2h0M123.3 314.5h0M138.4 302.3h0M162.6 319.2h0M131.6 335.1h0M133.2 347.9h0M128.9 314.7h0M126.5 322.3h0M133.1 345.5h0M136.1 331.4h0M131.2 331.8h0M143.0 317.8h0M134.0 342.3h0M135.7 328.9h0M128.3 317.2h0M136.2 325.9h0M130.1 336.4h0M129.2 327.3h0M133.1 348.2h0M141.7 323.7h0M131.0 324.1h0M123.0 337.1h0M128.4 333.8h0M102.2 340.8h0M135.2 323.5h0M136.9 307.3h0M134.6 330.7h0M129.9 327.7h0M130.5 316.7h0M134.1 339.9h0M138.0 319.6h0M129.2 342.5h0M119.9 343.2h0M125.8 314.6h0M123.5 318.2h0M129.1 312.9h0M143.3 313.6h0M136.4 310.3h0M99.2 326.4h0M139.0 347.5h0M136.8 311.5h0M133.8 344.9h0M112.6 338.2h0M137.4 309.7h0M138.1 345.8h0M136.0 341.8h0M137.1 330.5h0M139.1 319.2h0M132.2 335.5h0M133.1 350.6h0M126.3 343.8h0M131.4 324.6h0M133.9 330.7h0M138.5 331.7h0M132.8 348.5h0M129.3 338.8h0M143.3 315.8h0M137.0 326.9h0M129.5 332.6h0M122.0 312.2h0M152.3 326.8h0M131.6 340.2h0M130.1 340.6h0M126.5 343.9h0M112.1 346.2h0M139.6 304.0h0M126.3 334.9h0M136.7 307.8h0M136.5 332.7h0M138.4 315.0h0M132.1 338.9h0M128.0 302.8h0M132.5 346.9h0M126.6 318.1h0M130.7 351.5h0M136.9 312.7h0M129.8 322.0h0M141.8 345.0h0M129.2 315.2h0M138.6 320.8h0M111.0 332.4h0M133.3 338.3h0M136.5 338.5h0M131.0 351.7h0M135.8 316.3h0M131.8 342.3h0M129.3 336.1h0M132.8 347.2h0M127.3 299.9h0M130.7 326.1h0M115.2 339.3h0M128.1 316.8h0M129.2 312.8h0M128.1 324.7h0M128.8 336.2h0M139.4 287.2h0M133.7 337.2h0M132.5 335.7h0M136.2 343.6h0M133.5 336.2h0M134.6 325.3h0M137.4 312.4h0M126.3 291.9h0M129.0 319.1h0M131.5 353.4h0M130.7 320.8h0M136.5 333.8h0M138.7 307.0h0M136.2 311.0h0M135.8 318.4h0M138.1 316.1h0M128.0 297.9h0M137.2 312.2h0M134.9 323.7h0M146.8 325.9h0M133.7 344.0h0M133.9 333.3h0M140.2 338.6h0M129.3 309.9h0M130.1 338.3h0M120.4 331.3h0M134.2 344.4h0M130.2 348.2h0M129.8 312.3h0M138.6 295.8h0M138.6 342.4h0M136.7 308.7h0M126.9 332.0h0M134.3 345.6h0M131.2 337.7h0M137.2 323.2h0M129.5 310.9h0M138.5 315.5h0M136.3 335.7h0M147.6 346.5h0M131.1 350.8h0M136.7 306.8h0M129.2 346.9h0M135.7 322.1h0M136.0 323.4h0M132.1 335.6h0M128.1 296.9h0M129.6 338.6h0M124.5 336.1h0M131.6 351.9h0M130.7 326.2h0M131.5 341.5h0M133.3 346.0h0M129.5 347.6h0M123.3 312.9h0M133.0 350.1h0M134.7 335.0h0M137.7 305.8h0M142.3 337.3h0M116.8 329.5h0M138.5 317.5h0M126.9 321.2h0M100.2 335.8h0M123.6 328.2h0M129.0 327.4h0M127.7 344.7h0M133.4 336.9h0M136.5 327.0h0M130.7 351.5h0M127.7 336.0h0M134.3 335.5h0M128.3 310.0h0M121.8 325.0h0M139.8 335.9h0M129.7 340.3h0M139.3 289.3h0M129.9 312.2h0M133.6 335.9h0M133.4 336.0h0M139.2 294.6h0M131.2 353.0h0M138.0 342.3h0M130.9 333.7h0M133.4 338.2h0M128.3 320.5h0M130.9 321.4h0M134.0 334.8h0M135.9 336.3h0M133.7 336.8h0M146.4 321.1h0M136.5 309.2h0M127.5 310.4h0M133.6 341.7h0M155.5 336.0h0M136.8 329.2h0M131.3 331.9h0M136.7 347.6h0M128.0 302.3h0M126.5 316.7h0M131.2 338.9h0M133.0 351.8h0M136.9 315.7h0M137.0 342.9h0M134.8 346.8h0M150.9 322.1h0M129.3 310.9h0M127.3 342.2h0M137.4 312.4h0M132.9 342.6h0M131.8 333.7h0M142.6 344.7h0M130.8 338.0h0M136.0 318.4h0M137.1 315.7h0M127.4 328.8h0M123.2 330.4h0M135.7 315.6h0M126.6 288.2h0M134.7 328.0h0M127.6 346.0h0M145.1 321.3h0M131.6 338.5h0M137.8 322.0h0M124.3 312.5h0M133.0 343.2h0M128.3 307.8h0M135.4 325.9h0M128.5 301.0h0M136.0 344.8h0M129.6 347.6h0M114.9 315.0h0M130.8 338.9h0M135.5 323.6h0M136.6 348.2h0M129.8 312.5h0M148.7 327.7h0M138.5 317.2h0M133.8 333.2h0M132.9 342.1h0M124.1 345.6h0M133.2 340.6h0M137.8 308.8h0M139.0 322.2h0M133.7 341.6h0M136.2 324.1h0M133.5 339.5h0M130.6 318.3h0M132.2 342.5h0M137.3 302.1h0M137.9 313.9h0M128.9 319.9h0M126.7 318.4h0M138.0 301.9h0M132.3 354.8h0M137.9 297.2h0M135.3 326.1h0M134.4 325.6h0M137.2 301.6h0M122.7 340.9h0M126.8 298.3h0M111.9 331.3h0M127.0 339.6h0M126.6 315.5h0M130.0 330.2h0M131.3 328.9h0M136.0 316.3h0M132.6 342.5h0M132.8 339.8h0M131.4 327.3h0M136.6 336.1h0M126.5 313.7h0M134.8 334.0h0M131.3 328.5h0M130.0 333.1h0M133.8 338.7h0M135.4 322.0h0M135.8 346.1h0M131.6 337.0h0M126.8 322.5h0M134.9 344.3h0M133.1 339.6h0M133.2 351.4h0M134.0 345.0h0M130.2 313.4h0M133.7 336.4h0M133.4 336.6h0M133.2 345.1h0M135.3 350.2h0M144.1 323.8h0M137.5 317.5h0M130.8 352.4h0M127.4 312.7h0M134.8 344.4h0M130.3 354.5h0M120.2 345.3h0M124.6 327.3h0M134.5 330.6h0M128.2 346.8h0M138.3 334.7h0M135.5 333.4h0M138.3 306.4h0M134.5 325.1h0M143.5 336.6h0M128.8 307.0h0M130.9 323.1h0M135.6 323.5h0M133.9 351.3h0M132.7 344.9h0M136.0 329.3h0M136.4 347.5h0M147.5 312.3h0M135.1 321.1h0M138.1 333.3h0M130.4 319.3h0M130.7 319.3h0M141.4 312.9h0M128.6 312.4h0M126.7 307.9h0M130.4 321.8h0M127.8 319.5h0M133.4 342.5h0M126.0 328.7h0M144.6 345.2h0M132.6 336.5h0M134.6 334.6h0M127.8 323.8h0M131.5 341.6h0M127.3 297.8h0M128.8 307.8h0M134.1 335.4h0M146.7 337.8h0M125.2 331.3h0M135.1 342.3h0M165.0 316.9h0M130.6 325.4h0M132.6 340.4h0M130.3 319.7h0M141.1 343.8h0M126.4 288.9h0M138.9 318.2h0M124.0 336.7h0M130.0 327.3h0M116.1 316.3h0M132.0 344.4h0M125.8 321.3h0M134.7 351.9h0M131.4 328.1h0M135.6 318.7h0M129.5 327.9h0M137.7 308.4h0M133.8 346.6h0M128.5 318.2h0M116.1 333.2h0M132.9 351.2h0M129.2 312.2h0M139.2 318.2h0M138.3 319.8h0M137.5 320.7h0M136.5 349.9h0M129.9 325.0h0M132.6 348.3h0M131.4 333.6h0M136.0 314.0h0M143.9 347.4h0M133.2 345.0h0M135.6 318.7h0M134.8 333.7h0M131.2 346.2h0M135.2 341.0h0M127.7 296.2h0M131.5 348.5h0M123.0 336.3h0M130.0 331.5h0M137.9 301.4h0M138.5 307.2h0M133.7 336.4h0M118.4 333.0h0M137.6 346.0h0M154.7 332.8h0M127.2 305.5h0M131.8 340.8h0M135.7 323.3h0M134.2 349.2h0M126.5 331.9h0M130.5 318.1h0M138.7 295.9h0M132.4 354.1h0M131.7 334.7h0M136.2 319.9h0M149.2 331.3h0M132.2 345.2h0M131.6 333.7h0M129.7 339.2h0M119.5 313.9h0M134.3 339.4h0M118.0 337.3h0M158.1 334.5h0M126.1 328.5h0M120.0 312.2h0M130.6 318.9h0M139.4 321.8h0M132.5 353.2h0M122.7 312.7h0M132.5 341.2h0M135.5 326.4h0M134.9 323.3h0M127.1 329.1h0M130.1 340.5h0M136.9 337.4h0M128.1 298.6h0M149.6 314.7h0M136.1 317.6h0M134.0 339.7h0M127.6 316.3h0M119.5 344.1h0M141.7 327.1h0M135.7 323.6h0M134.4 337.4h0M136.6 310.2h0M132.0 338.1h0M132.9 342.3h0M135.7 329.4h0M128.6 314.8h0M125.6 332.6h0M128.3 301.1h0M134.1 329.0h0M139.4 330.6h0M135.0 321.0h0M117.0 325.4h0M122.3 347.3h0M135.9 332.7h0M129.7 334.4h0M137.7 341.2h0M133.7 337.7h0M138.2 307.5h0M132.8 347.1h0M136.1 317.4h0M126.5 307.3h0M131.4 350.9h0M132.3 332.6h0M137.5 348.1h0M139.4 322.3h0M134.1 345.7h0M135.3 321.0h0M136.9 351.2h0M152.1 313.3h0M142.5 337.1h0M132.3 335.0h0M145.9 341.1h0M128.1 327.9h0M135.8 327.3h0M132.0 352.0h0M132.0 346.9h0M137.6 324.6h0M139.3 323.7h0M129.6 350.0h0M128.8 337.5h0M127.4 295.1h0M128.5 338.4h0M129.8 311.7h0M131.6 350.9h0M129.1 306.0h0M127.5 343.7h0M131.7 333.6h0M123.8 329.2h0M126.7 314.3h0M126.4 350.8h0M137.7 302.4h0M134.8 325.9h0M144.9 341.7h0M141.8 348.4h0M137.8 323.7h0M133.5 334.7h0M145.3 326.6h0M131.9 337.3h0M139.4 324.3h0M133.2 342.9h0M133.5 342.5h0M131.0 325.1h0M127.3 321.4h0M133.3 350.6h0M138.5 306.0h0M133.6 345.0h0M133.8 338.2h0M135.8 317.6h0M134.6 325.0h0M134.0 343.7h0M128.1 329.7h0M146.5 317.2h0M132.6 339.2h0M131.9 332.8h0M137.1 331.5h0M132.4 336.5h0M127.3 305.5h0M136.1 337.8h0M135.0 336.9h0M136.2 324.1h0M150.0 315.8h0M132.0 331.3h0M123.0 329.9h0M132.0 333.5h0M134.3 332.5h0M142.0 316.7h0M130.4 318.9h0M133.7 336.7h0M138.8 300.8h0M137.8 316.7h0M129.6 325.6h0M136.8 328.5h0M137.0 325.5h0M141.2 340.7h0M131.7 343.6h0M134.9 334.1h0M137.8 300.5h0M140.4 318.9h0M135.4 328.9h0M128.5 300.0h0M133.5 348.5h0M129.3 330.5h0M137.9 296.9h0M106.4 347.7h0M129.1 335.4h0M143.5 326.2h0M128.6 325.9h0M132.7 343.6h0M135.0 326.6h0M137.4 310.8h0M133.8 348.5h0M137.1 317.4h0M134.4 325.7h0M126.2 318.2h0M135.9 321.0h0M130.4 327.0h0M120.5 340.7h0M132.1 333.1h0M138.4 305.3h0M128.8 334.1h0M144.0 335.8h0M134.0 341.7h0M135.6 316.1h0M134.7 344.7h0M131.8 328.4h0M132.4 352.0h0M141.4 337.2h0M131.8 353.1h0M141.2 338.8h0M134.5 343.8h0M140.6 321.5h0M126.9 299.4h0M129.9 317.3h0M137.2 316.4h0M126.5 311.2h0M137.7 303.0h0M152.2 339.8h0M132.3 333.6h0M128.9 308.7h0M140.0 315.1h0M135.3 344.5h0M133.4 334.5h0M124.5 314.7h0M137.0 315.5h0M130.4 315.7h0M138.6 352.8h0M128.7 320.0h0M130.6 341.9h0M136.5 332.3h0M127.6 348.9h0M134.0 339.8h0M134.6 325.3h0M120.6 332.8h0M138.3 297.0h0M139.6 318.9h0M125.7 327.2h0M136.0 331.0h0M138.3 310.2h0M128.7 340.9h0M134.5 355.7h0M129.8 329.7h0M140.8 330.3h0M131.9 337.5h0M133.3 338.0h0M130.3 327.0h0M138.2 343.5h0M133.1 341.6h0M139.3 291.5h0M136.5 331.6h0M134.6 344.2h0M130.7 323.8h0M130.4 327.9h0M137.4 339.3h0M134.5 349.2h0M134.0 337.3h0M126.9 288.4h0M139.6 323.3h0M131.0 326.4h0M147.0 317.6h0M142.9 347.4h0M130.5 336.9h0M127.3 344.4h0M152.5 338.0h0M131.8 354.8h0M134.2 350.2h0M133.1 352.7h0M136.1 337.8h0M120.4 327.2h0M136.7 337.7h0M129.5 313.1h0M135.9 315.4h0M132.1 348.2h0M131.1 334.9h0M134.4 355.9h0M129.9 316.9h0M136.2 324.9h0M130.8 326.6h0M139.4 323.5h0M134.8 334.1h0M137.2 339.0h0M124.2 327.4h0M155.1 318.8h0M147.9 321.4h0M122.2 333.0h0M131.4 328.4h0M131.3 329.4h0M132.0 337.9h0M135.2 328.8h0M131.9 341.1h0M138.8 352.9h0M130.3 332.7h0M139.1 308.9h0M131.8 341.8h0M131.7 335.8h0M138.0 314.3h0M128.7 308.7h0M137.1 303.5h0M150.7 345.8h0M139.1 328.2h0M137.7 339.5h0M136.4 340.8h0M137.8 321.4h0M131.5 325.7h0M131.1 331.7h0M137.9 297.7h0M139.5 304.9h0M137.5 301.9h0M138.6 309.9h0M134.9 322.3h0M126.6 290.2h0M131.3 324.3h0M136.5 339.1h0M126.9 324.1h0M133.2 343.9h0M133.6 345.5h0M139.7 287.4h0M115.7 317.0h0M150.2 318.7h0M135.8 320.4h0M126.9 318.5h0M123.6 317.6h0M142.7 334.0h0M139.7 298.9h0M125.7 317.3h0M134.9 346.2h0M128.9 325.0h0M152.2 331.7h0M135.9 327.2h0M142.4 346.5h0M137.4 318.3h0M126.3 327.4h0M117.9 341.2h0M129.5 324.3h0M126.7 299.3h0M135.8 320.5h0M127.5 309.8h0M95.1 324.4h0M153.0 331.7h0M129.2 334.6h0M131.0 345.5h0M130.7 332.9h0M135.8 344.6h0M124.8 326.1h0M132.6 339.7h0M143.0 321.4h0M115.0 338.8h0M143.2 312.8h0M123.9 341.1h0M126.6 287.8h0M130.3 327.2h0M115.8 330.3h0M123.1 344.6h0M134.1 338.1h0M132.0 334.4h0M140.0 334.4h0M129.2 340.0h0M131.0 339.5h0M138.6 293.1h0M130.1 335.8h0M152.8 315.1h0M134.3 345.0h0M139.5 291.9h0M121.9 349.2h0M135.2 324.4h0M126.1 340.7h0M133.0 349.9h0M139.9 347.9h0M130.9 335.5h0M129.8 321.5h0M128.9 315.6h0M133.9 333.9h0M122.1 314.8h0M135.4 319.7h0M107.6 337.7h0M133.7 340.1h0M133.0 339.2h0M134.4 349.7h0M133.2 348.0h0M134.4 340.8h0M134.7 325.9h0M131.7 331.4h0M131.4 338.5h0M130.9 336.8h0M129.5 327.9h0M129.1 346.2h0M130.2 323.1h0M129.9 345.9h0M121.8 347.7h0M135.0 326.5h0M131.0 332.0h0M139.6 324.8h0M127.3 304.7h0M129.9 329.7h0M139.3 309.0h0M129.9 314.9h0M134.3 347.3h0M136.7 330.3h0M134.9 325.9h0M130.7 321.6h0M136.1 326.3h0M127.6 342.0h0M129.8 315.7h0M129.9 343.5h0M136.8 345.1h0M139.4 326.4h0M129.5 320.3h0M131.6 335.8h0M135.0 328.0h0M139.3 354.4h0M130.7 330.9h0M134.9 334.2h0M134.9 335.8h0M118.4 325.8h0M129.9 327.2h0M141.6 314.4h0M134.8 349.2h0M130.9 319.9h0M130.0 332.0h0M128.4 321.5h0M131.0 353.8h0M135.3 322.3h0M124.2 349.1h0M128.0 308.9h0M129.1 343.4h0M132.5 347.8h0M127.1 320.0h0M137.5 313.0h0M135.4 333.6h0M132.2 334.0h0M131.9 328.7h0M144.2 348.2h0M138.4 317.3h0M134.2 347.4h0M139.9 318.7h0M139.0 301.7h0M138.4 314.3h0M124.6 315.6h0M131.3 344.5h0M136.7 327.7h0M133.5 349.3h0M133.2 350.6h0M132.9 347.3h0M138.2 326.2h0M122.6 336.8h0M132.7 343.5h0M127.7 337.1h0M133.7 353.7h0M114.3 332.8h0M133.0 340.0h0M131.5 335.9h0M129.8 347.8h0M137.0 324.0h0M135.3 319.1h0M129.9 318.7h0M142.0 348.7h0M134.2 337.2h0M142.5 349.4h0M120.5 334.3h0M135.2 340.0h0M129.4 334.7h0M133.2 347.4h0M128.4 306.7h0M128.9 332.7h0M128.9 346.4h0M133.4 350.4h0M128.7 311.0h0M137.3 320.7h0M137.3 337.2h0M134.6 346.2h0M133.1 340.1h0M136.8 321.4h0M130.7 332.1h0M138.3 296.2h0M116.6 314.9h0M123.3 339.6h0M134.5 333.3h0M102.1 334.1h0M131.3 339.1h0M129.4 331.0h0M128.9 314.5h0M125.5 317.1h0M135.0 338.3h0M135.6 338.9h0M136.8 316.5h0M135.0 349.4h0M134.3 353.4h0M128.8 339.9h0M133.3 342.6h0M135.8 322.3h0M126.8 347.1h0M124.6 338.7h0M131.1 344.4h0M132.7 344.5h0M130.4 328.2h0M130.3 317.1h0M127.1 299.3h0M132.8 348.6h0M131.3 323.7h0M137.4 314.0h0M135.5 319.5h0M136.9 326.5h0M134.3 350.5h0M153.0 314.8h0M139.8 335.9h0M130.4 315.3h0M110.9 325.7h0M135.7 327.0h0M121.0 321.0h0M132.3 347.5h0M130.8 327.1h0M124.3 318.3h0M139.9 322.7h0M135.7 339.3h0M133.5 335.7h0M127.4 313.5h0M128.6 327.4h0M133.6 342.8h0M136.5 312.5h0M142.2 325.2h0M115.5 345.2h0M147.3 340.5h0M148.2 330.3h0M131.5 330.2h0M127.2 328.0h0M136.7 318.9h0M137.1 328.3h0M137.5 325.4h0M135.5 349.9h0M130.4 319.0h0M139.3 339.4h0M127.6 314.9h0M132.6 345.0h0M130.9 332.5h0M133.0 338.7h0M128.7 323.9h0M140.6 314.3h0M145.9 341.6h0M124.3 337.6h0M103.2 340.5h0M119.3 349.0h0M131.2 326.1h0M117.0 319.5h0M133.2 337.3h0M122.4 331.2h0M134.1 351.4h0M135.1 337.2h0M153.6 337.6h0M119.3 336.5h0M130.8 328.7h0M143.8 325.5h0M131.4 332.6h0M135.6 324.9h0M135.4 325.1h0M134.5 337.3h0M121.1 324.1h0M125.0 312.6h0M128.7 319.3h0M134.4 339.6h0M128.6 308.8h0M143.7 319.6h0M135.7 347.5h0M129.7 330.3h0M124.3 345.4h0M135.9 321.7h0M128.3 325.5h0M128.9 315.1h0M130.3 326.8h0M133.9 334.3h0M131.4 330.8h0M138.2 323.0h0M134.2 332.4h0M133.0 340.8h0M132.4 342.0h0M133.0 349.9h0M133.8 334.1h0M126.4 294.4h0M120.2 334.8h0M131.6 327.3h0M136.4 327.8h0M140.9 313.6h0M131.6 330.6h0M138.3 335.2h0M136.1 351.8h0M130.6 327.3h0M135.3 320.1h0M138.9 304.4h0M132.2 335.1h0M130.3 317.9h0M133.9 342.4h0M128.3 338.9h0M128.4 315.9h0M130.2 315.6h0M138.4 319.0h0M122.0 321.3h0M132.1 334.9h0M109.5 328.3h0M147.5 337.7h0M129.8 326.4h0M137.8 310.2h0M133.8 342.0h0M134.4 352.5h0M127.9 297.3h0M136.1 330.3h0M138.7 351.6h0M142.1 334.9h0M123.7 350.4h0M134.2 337.6h0M133.8 351.4h0M135.4 325.7h0M133.4 340.2h0M137.8 299.5h0M100.1 320.7h0M135.1 334.7h0M127.5 344.5h0M141.9 318.9h0M130.1 322.1h0M126.5 286.8h0M134.4 338.9h0M137.3 321.0h0M135.9 339.4h0M125.7 314.4h0M137.1 353.9h0M132.7 336.4h0M128.0 314.1h0M132.5 336.7h0M129.5 309.3h0M127.6 307.2h0M139.9 337.0h0M139.3 287.1h0M139.7 320.0h0M140.0 348.1h0M123.6 327.4h0M129.4 332.3h0M138.8 325.2h0M123.2 328.7h0M137.8 321.9h0M123.8 314.1h0M129.9 318.0h0M136.8 326.2h0M138.1 301.9h0M138.6 322.1h0M129.6 328.3h0M138.8 290.8h0M134.8 330.5h0M130.9 328.9h0M136.8 315.5h0M134.4 330.4h0M139.6 294.0h0M137.1 337.9h0M131.0 349.5h0M127.4 310.1h0M132.7 348.8h0M134.9 331.0h0M126.3 313.5h0M129.0 340.3h0M130.7 333.5h0M128.9 315.6h0M127.2 346.7h0M142.6 335.8h0M138.3 297.3h0M132.8 338.1h0M132.0 336.8h0M139.0 313.2h0M118.3 328.5h0M130.4 340.4h0M127.2 306.9h0M118.7 348.4h0M159.6 345.3h0M113.6 327.5h0M137.7 301.2h0M126.3 289.6h0M139.1 350.8h0M132.8 343.7h0M127.1 320.7h0M136.7 338.3h0M140.1 335.0h0M131.7 337.3h0M124.0 349.2h0M139.6 302.2h0M129.8 343.1h0M132.6 348.8h0M130.7 325.1h0M133.7 333.0h0M133.5 334.1h0M133.2 345.8h0M138.9 349.1h0M136.0 314.4h0M130.0 323.2h0M129.6 315.0h0M126.8 312.9h0M136.5 336.8h0M112.6 316.1h0M126.5 299.3h0M132.5 337.9h0M126.6 306.7h0M131.7 343.8h0M140.2 316.0h0M129.7 330.1h0M129.6 314.5h0M137.3 318.8h0M131.2 333.5h0M134.8 347.5h0M133.5 338.3h0M129.8 331.8h0M138.1 346.9h0M120.2 341.8h0M130.1 337.6h0M128.4 314.6h0M146.2 322.6h0M135.7 314.0h0M120.6 344.1h0M127.8 296.3h0M134.5 352.0h0M126.7 307.1h0M135.4 334.3h0M138.0 297.5h0M128.0 328.9h0M130.3 333.1h0M124.0 321.9h0M135.6 336.7h0M126.9 297.2h0M133.4 347.4h0M137.8 300.1h0M135.6 336.4h0M138.2 322.8h0M141.7 321.2h0M131.4 329.1h0M142.0 313.1h0M128.6 324.3h0M141.9 334.7h0M135.1 320.3h0M122.1 320.0h0M134.2 330.5h0M118.7 343.6h0M126.9 352.5h0M107.0 324.2h0M119.6 315.3h0M137.8 349.3h0M130.2 330.8h0M124.2 350.2h0M138.4 332.5h0M133.1 350.3h0M128.0 302.7h0M126.7 315.6h0M134.9 322.0h0M127.4 300.2h0M129.5 350.9h0M127.9 295.6h0M135.1 336.7h0M146.4 330.7h0M151.0 330.8h0M138.7 319.2h0M131.6 341.7h0M103.8 342.8h0M122.1 338.1h0M157.3 329.4h0M136.4 308.6h0M152.4 314.7h0M131.5 336.5h0M134.2 332.7h0M121.9 337.0h0M138.9 306.4h0M126.5 334.3h0M128.0 300.4h0M136.1 325.2h0M135.6 352.7h0M138.6 300.4h0M129.9 310.8h0M150.8 347.5h0M135.5 354.3h0M139.5 285.0h0M136.4 350.1h0M130.7 322.5h0M128.3 323.7h0M134.3 330.9h0M141.3 335.0h0M140.1 314.0h0M142.6 331.6h0M148.4 348.4h0M123.0 345.6h0M148.8 335.2h0M136.6 320.5h0M138.3 317.2h0M133.6 339.6h0M128.1 335.8h0M133.4 338.0h0M129.9 316.5h0M139.8 336.2h0M123.4 344.9h0M130.3 316.5h0M128.4 320.3h0M130.0 330.9h0M122.5 347.0h0M128.3 301.3h0M133.8 332.5h0M123.3 318.1h0M134.0 352.0h0M131.5 347.0h0M125.3 319.5h0M132.1 341.3h0M138.4 316.3h0M160.4 347.3h0M133.2 344.8h0M127.7 330.7h0M128.3 319.6h0M138.9 329.2h0M127.1 302.5h0M138.0 300.0h0M128.8 308.8h0M130.0 336.8h0M133.0 349.7h0M133.8 341.8h0M131.5 353.9h0M134.7 329.7h0M131.2 327.1h0M139.6 285.0h0M128.3 321.7h0M129.2 325.4h0M135.1 326.2h0M133.2 345.3h0M132.6 348.7h0M141.8 342.6h0M132.5 349.5h0M137.1 319.2h0M137.3 319.2h0M131.6 333.0h0M138.7 337.4h0M127.5 306.5h0M136.3 348.3h0M127.0 293.6h0M140.3 334.3h0M130.2 316.6h0M139.4 311.8h0M132.4 344.2h0M138.1 319.7h0M127.5 311.4h0M143.0 341.6h0M121.0 325.8h0M138.6 304.5h0M137.3 333.3h0M132.2 341.8h0M129.3 311.9h0M132.6 342.9h0M137.1 316.6h0M138.0 322.0h0M124.7 340.0h0M127.5 340.3h0M138.8 289.8h0M150.2 329.8h0M132.6 353.1h0M134.3 345.3h0M134.6 334.3h0M130.4 331.0h0M132.2 340.1h0M144.8 332.9h0M136.5 308.2h0M138.7 325.1h0M137.1 310.7h0M129.4 334.9h0M134.3 336.3h0M121.9 348.1h0M150.4 338.3h0M128.9 340.4h0M138.2 344.1h0M137.4 312.3h0M130.2 341.4h0M135.5 348.3h0M129.9 324.6h0M130.8 342.6h0M129.0 351.9h0M138.7 310.8h0M129.3 314.9h0M136.7 317.0h0M129.2 320.6h0M131.7 338.4h0M128.4 298.5h0M129.4 319.9h0M134.9 322.2h0M137.1 309.9h0M118.0 336.7h0M121.3 344.1h0M119.7 327.5h0M126.4 302.3h0M131.7 349.3h0M133.9 339.2h0M136.6 319.2h0M134.0 349.9h0M127.7 309.6h0M132.8 340.7h0M136.7 339.6h0M133.5 335.9h0M138.5 302.1h0M133.6 339.2h0M139.1 315.8h0M131.2 329.9h0M128.8 303.3h0M156.5 317.9h0M126.6 324.3h0M132.7 346.3h0M127.9 310.5h0M144.2 340.7h0M114.3 335.2h0M131.0 338.1h0M137.4 323.0h0M128.1 297.0h0M136.9 332.7h0M131.8 331.4h0M143.9 341.4h0M152.6 314.6h0M131.5 328.0h0M135.0 337.5h0M137.0 342.2h0M130.2 334.2h0M134.4 334.8h0M138.1 310.3h0M130.3 330.4h0M139.0 328.1h0M131.5 337.5h0M135.8 334.1h0M134.7 344.7h0M130.6 332.8h0M130.0 324.7h0M134.9 341.2h0M114.3 343.0h0M126.2 340.3h0M128.7 311.0h0M138.8 310.1h0M154.1 331.1h0M135.6 334.0h0M129.6 312.4h0M144.5 335.8h0M129.0 310.3h0M128.1 303.4h0M142.1 345.1h0M135.8 330.3h0M139.3 313.5h0M136.0 323.7h0M121.5 320.4h0M129.4 322.5h0M143.0 321.8h0M133.2 344.4h0M138.1 304.7h0M137.7 320.2h0M139.8 332.5h0M130.8 352.7h0M157.0 319.5h0M133.0 352.1h0M141.1 322.0h0M129.0 340.1h0M131.3 332.8h0M129.9 342.4h0M127.9 303.0h0M136.5 319.8h0M135.4 325.5h0M136.5 307.2h0M127.8 299.7h0M131.3 331.2h0M129.7 332.6h0M132.4 353.2h0M122.6 320.2h0M136.1 310.6h0M128.9 318.8h0M136.3 323.4h0M130.6 321.6h0M98.3 333.7h0M130.1 343.7h0M134.6 327.4h0M131.4 352.9h0M132.5 335.2h0M136.0 321.2h0M131.4 326.0h0M133.1 339.8h0M135.0 320.6h0M148.7 323.2h0M139.0 304.3h0M133.5 348.3h0M135.6 328.7h0M133.8 332.4h0M138.1 319.3h0M130.8 341.4h0M142.8 348.8h0M128.4 314.5h0M126.1 351.1h0M134.6 329.1h0M129.1 342.4h0M129.0 316.8h0M127.7 301.3h0M139.3 292.4h0M137.3 323.0h0M147.9 344.6h0M133.2 337.1h0M136.7 323.3h0M114.6 338.5h0M129.0 313.5h0M129.5 327.1h0M136.9 304.6h0M133.8 335.0h0M139.3 306.8h0M133.7 342.8h0M136.1 327.6h0M135.4 320.8h0M128.8 318.0h0M127.0 311.5h0M132.7 350.2h0M124.0 317.1h0M134.6 336.2h0M132.2 332.8h0M131.4 336.5h0M120.2 324.6h0M128.6 309.8h0M117.7 318.3h0M129.4 345.9h0M138.5 297.4h0M126.7 323.4h0M136.5 321.0h0M132.5 340.5h0M127.9 334.0h0M136.3 326.1h0M129.5 333.4h0M131.6 333.9h0M115.4 320.1h0M128.2 300.2h0M139.0 300.7h0M134.5 341.9h0M131.9 331.5h0M132.5 350.2h0M139.2 318.2h0M133.0 341.2h0M115.2 341.2h0M142.3 340.4h0M139.1 340.1h0M133.3 337.1h0M127.5 304.2h0M132.5 338.8h0M129.5 339.8h0M139.5 299.9h0M137.2 311.2h0M128.5 328.8h0M129.8 329.8h0M131.3 332.4h0M128.2 298.9h0M135.1 321.9h0M128.5 304.5h0M136.8 321.8h0M137.2 337.3h0M137.4 312.7h0M127.2 348.6h0M128.2 298.3h0M140.1 350.5h0M145.1 313.7h0M139.6 302.9h0M133.2 343.9h0M135.9 329.9h0M115.8 332.3h0M124.6 335.8h0M135.4 334.9h0M128.7 334.8h0M133.9 334.8h0M137.7 323.7h0M128.0 301.8h0M114.0 323.6h0M131.6 341.2h0M134.1 334.9h0M135.8 319.6h0M134.4 342.2h0M104.6 318.9h0M130.6 319.1h0M144.1 330.4h0M132.6 345.6h0M132.1 333.3h0M129.1 330.9h0M131.9 334.0h0M129.7 344.6h0M125.0 320.2h0M133.5 347.9h0M131.5 338.6h0M130.3 337.1h0M134.1 352.7h0M132.9 347.3h0M126.3 304.7h0M130.6 320.9h0M127.7 293.5h0M133.4 341.0h0M132.5 341.4h0M132.9 347.7h0M129.8 345.3h0M132.4 335.3h0M136.3 326.8h0M137.1 320.0h0M135.9 343.9h0M129.1 306.9h0M133.7 333.3h0M137.0 322.0h0M126.5 285.7h0M129.8 324.8h0M133.6 353.8h0M134.5 335.1h0M136.9 305.7h0M136.1 317.4h0M125.5 322.0h0M129.6 341.6h0M138.4 318.6h0M129.5 313.7h0M127.7 323.1h0M138.7 333.7h0M134.8 329.3h0M128.7 320.5h0M138.6 308.9h0M138.8 294.4h0M132.4 343.4h0M133.6 353.5h0M139.1 348.6h0M135.5 348.0h0M136.8 340.3h0M144.6 341.7h0M137.9 305.7h0M139.5 325.0h0M133.3 336.2h0M136.7 316.2h0M130.8 319.2h0M135.2 323.7h0M139.6 326.2h0M139.0 312.6h0M131.5 328.7h0M132.2 347.2h0M128.1 328.3h0M139.0 322.3h0M129.0 325.6h0M131.3 338.4h0M128.7 330.0h0M127.7 296.6h0M127.5 339.7h0M130.9 329.3h0M134.8 338.7h0M138.2 330.0h0M127.3 295.7h0M134.9 342.4h0M146.1 345.1h0M139.4 285.7h0M139.3 290.4h0M135.0 323.0h0M131.4 325.8h0M127.6 336.4h0M139.4 334.0h0M135.6 330.2h0M129.0 307.2h0M135.5 322.3h0M123.1 342.5h0M131.1 342.9h0M138.5 315.7h0M128.7 320.8h0M126.5 297.7h0M127.7 331.9h0M139.2 305.7h0M144.2 335.9h0M129.1 321.4h0M126.8 315.1h0M126.2 329.7h0M126.6 328.4h0M142.7 343.5h0M129.8 332.6h0M121.8 313.8h0M142.7 320.8h0M130.2 314.3h0M136.6 349.4h0M136.0 332.8h0M128.7 301.7h0M139.7 317.8h0M123.9 318.7h0M130.8 319.6h0M132.1 338.6h0M107.0 325.6h0M137.3 341.1h0M127.2 345.2h0M133.2 344.0h0M134.9 339.9h0M137.9 350.3h0M133.7 339.2h0M134.9 345.1h0M137.2 311.5h0M125.0 343.1h0M134.2 352.7h0M135.2 335.5h0M134.4 349.2h0M123.5 348.2h0M137.1 347.1h0M148.0 326.6h0M136.4 336.7h0M153.4 336.3h0M129.0 305.0h0M129.6 337.9h0M137.0 335.9h0M122.6 332.1h0M128.5 333.2h0M133.0 342.3h0M128.3 325.3h0M137.3 327.9h0M136.8 327.2h0M132.7 337.1h0M135.9 330.8h0M129.5 335.4h0M127.5 334.4h0M129.6 328.8h0M128.8 344.9h0M137.2 323.7h0M125.3 313.4h0M136.2 347.0h0M133.7 335.2h0M132.8 344.0h0M125.5 313.4h0M133.8 343.9h0M128.2 338.2h0M136.7 312.1h0M150.7 312.3h0M127.5 332.3h0M130.8 322.5h0M128.3 301.5h0M130.9 340.6h0M132.0 343.4h0M154.6 317.6h0M139.5 313.0h0M143.6 327.2h0M128.7 328.7h0M134.9 335.0h0M136.7 311.4h0M130.2 319.5h0M123.6 350.8h0M167.1 324.3h0M131.9 335.8h0M134.2 334.5h0M128.9 323.5h0M131.9 348.8h0M138.1 323.5h0M128.9 315.5h0M132.6 337.0h0M143.4 347.9h0M134.6 326.9h0M126.7 344.6h0M129.4 310.8h0M124.2 348.4h0M137.6 319.3h0M132.9 338.2h0M126.8 319.7h0M130.2 319.2h0M133.0 346.7h0M134.1 331.3h0M131.6 341.8h0M131.3 336.5h0M131.7 339.2h0M129.1 331.4h0M126.1 345.3h0M133.2 337.7h0M130.8 323.9h0M118.7 347.1h0M129.9 338.0h0M134.7 339.9h0M129.0 304.0h0M126.9 305.6h0M127.0 305.4h0M141.5 312.6h0M137.7 306.7h0M137.6 338.5h0M127.3 339.1h0M125.3 316.6h0M134.2 337.5h0M129.2 321.4h0M104.7 321.1h0M131.7 338.4h0M133.9 339.3h0M133.5 341.5h0M135.1 335.8h0M140.7 323.8h0M121.5 315.4h0M141.8 321.3h0M146.1 334.5h0M127.8 320.8h0M137.6 303.9h0M134.3 349.4h0M127.4 320.7h0M118.9 331.2h0M132.6 349.7h0M134.3 348.0h0M138.9 321.3h0M134.4 326.9h0M136.2 317.7h0M132.6 336.6h0M133.7 337.1h0M133.3 338.5h0M152.8 315.0h0M126.6 285.8h0M134.1 335.3h0M128.3 304.6h0M136.6 352.2h0M133.0 346.4h0M133.3 351.7h0M134.2 330.5h0M122.6 346.6h0M135.3 329.7h0M126.6 319.0h0M132.0 333.3h0M151.3 342.4h0M126.2 335.5h0M145.7 327.4h0M131.5 354.9h0M130.3 341.9h0M131.4 339.4h0M128.4 343.5h0M123.1 350.8h0M138.7 327.9h0M146.3 320.2h0M131.3 329.1h0M128.3 314.7h0M132.9 349.8h0M127.8 326.3h0M137.5 328.0h0M120.5 348.5h0M132.9 347.1h0M132.6 336.1h0M136.9 328.6h0M157.2 322.4h0M141.9 324.8h0M134.2 354.4h0M131.9 346.4h0M128.0 309.1h0M130.1 328.8h0M135.0 334.7h0M131.0 349.7h0M132.9 340.2h0M131.6 346.2h0M127.8 326.3h0M135.0 323.1h0M136.8 327.2h0M163.3 321.2h0M128.1 298.5h0M136.1 337.9h0M140.0 347.5h0M132.1 343.7h0M134.0 334.7h0M130.4 323.3h0M135.1 333.6h0M140.1 320.6h0M134.1 338.7h0M144.9 342.9h0M129.8 324.1h0M133.0 339.1h0M138.1 319.1h0M134.3 350.1h0M139.1 295.5h0M130.0 346.7h0M139.0 295.9h0M139.3 293.5h0M133.1 338.3h0M130.7 326.3h0M122.3 329.0h0M134.1 343.7h0M136.6 309.8h0M137.4 313.3h0M139.2 338.0h0M149.5 330.4h0M136.7 308.9h0M129.9 320.7h0M126.8 290.8h0M120.3 335.1h0M143.8 347.9h0M134.7 354.4h0M139.6 297.5h0M130.0 329.2h0M132.3 334.9h0M136.0 318.6h0M121.0 314.3h0M135.1 346.4h0M123.7 337.3h0M130.3 321.8h0M134.6 339.4h0M132.3 338.1h0M139.6 349.6h0M121.9 325.6h0M135.6 320.4h0M153.5 344.3h0M130.2 339.3h0M129.8 324.3h0M124.6 345.1h0M137.6 316.4h0M129.9 333.4h0M122.8 350.3h0M134.1 345.7h0M134.2 329.4h0M117.7 336.7h0M133.2 338.0h0M131.1 342.0h0M137.9 341.0h0M135.5 322.6h0M127.5 340.4h0M138.9 322.1h0M145.5 327.6h0M134.8 328.0h0M136.9 327.2h0M132.6 347.0h0M144.2 350.0h0M136.1 331.5h0M123.2 344.9h0M125.4 313.4h0M131.8 332.1h0M128.4 336.0h0M140.7 323.1h0M127.6 296.6h0M134.5 342.0h0M136.4 317.5h0M129.8 323.1h0M134.1 344.0h0M141.8 346.4h0M128.0 327.1h0M134.8 332.5h0M125.7 316.7h0M138.2 313.5h0M131.2 323.2h0M120.2 326.0h0M127.1 290.0h0M134.3 347.5h0M130.5 348.5h0M129.5 323.1h0M110.9 339.5h0M133.8 332.2h0M129.9 331.4h0M127.2 291.3h0M132.7 347.1h0M136.3 328.2h0M134.4 341.1h0M132.3 337.9h0M134.7 341.9h0M130.2 335.1h0M138.0 309.9h0M128.6 322.5h0M135.2 327.5h0M126.5 307.7h0M143.4 332.4h0M128.8 336.2h0M128.1 297.6h0M147.7 325.3h0M131.6 334.8h0M130.6 317.4h0M138.2 332.2h0M135.0 341.2h0M130.5 327.5h0M131.5 332.7h0M132.1 353.7h0M135.2 334.7h0M133.7 343.8h0M127.2 342.6h0M134.7 323.7h0M135.7 333.8h0M129.6 312.4h0M135.3 337.3h0M123.7 342.5h0M131.1 322.8h0M125.7 318.1h0M127.4 345.1h0M116.3 344.7h0M127.2 303.3h0M131.5 326.9h0M138.1 311.2h0M129.0 322.3h0M126.4 311.4h0M142.4 331.6h0M139.0 320.4h0M132.1 347.3h0M130.5 318.5h0M127.6 296.8h0M131.1 333.7h0M119.0 331.4h0M138.1 314.8h0M124.8 324.6h0M137.4 328.4h0M139.6 313.5h0M128.6 303.3h0M93.8 345.1h0M133.8 334.7h0M140.3 343.8h0M125.7 342.0h0M136.1 332.8h0M129.0 324.1h0M133.5 341.3h0M130.4 320.7h0M131.7 339.0h0M146.8 322.9h0M128.9 315.2h0M132.7 337.1h0M135.7 328.3h0M126.4 314.6h0M133.7 344.1h0M131.4 325.8h0M139.3 335.8h0M126.7 299.9h0M130.9 335.5h0M136.0 317.0h0M129.2 309.3h0M138.9 307.1h0M137.3 306.5h0M127.0 308.8h0M145.3 331.5h0M136.6 327.7h0M133.6 333.2h0M138.7 316.6h0M130.3 341.0h0M134.5 345.6h0M130.3 323.8h0M130.0 328.9h0M129.6 318.3h0M132.1 346.9h0M127.3 336.0h0M133.5 338.7h0M135.4 318.1h0M132.3 353.1h0M130.2 349.3h0M125.1 328.8h0M123.3 331.3h0M135.6 321.6h0M129.1 312.0h0M128.2 302.4h0M136.2 347.1h0M133.1 338.2h0M147.8 315.0h0M127.3 326.2h0M134.0 335.4h0M130.1 325.4h0M119.4 342.2h0M134.8 346.0h0M138.6 346.7h0M136.6 316.7h0M127.2 308.4h0M127.9 320.8h0M137.4 302.8h0M133.9 339.0h0M138.5 316.6h0M134.9 344.1h0M137.9 308.3h0M134.0 344.6h0M137.8 321.5h0M128.3 307.7h0M127.6 313.3h0M130.1 318.1h0M127.6 295.3h0M126.5 299.2h0M138.5 333.9h0M131.1 343.2h0M120.0 332.8h0M116.3 347.3h0M138.4 323.3h0M139.6 331.5h0M130.6 329.4h0M130.5 321.3h0M135.9 315.6h0M139.5 301.2h0M137.1 313.2h0M126.3 332.1h0M122.7 316.7h0M135.8 329.0h0M132.0 340.1h0M129.3 312.8h0M132.4 342.6h0M128.8 349.6h0M132.2 343.2h0M110.6 326.2h0M126.9 346.3h0M131.0 323.3h0M133.4 337.3h0M137.6 312.2h0M128.7 332.3h0M134.6 329.6h0M133.1 338.9h0M130.2 330.7h0M126.5 298.3h0M133.6 336.2h0M132.6 335.6h0M126.4 301.9h0M139.8 318.8h0M135.5 329.0h0M129.9 336.4h0M132.1 331.0h0M135.0 339.6h0M139.1 336.2h0M134.0 338.6h0M132.2 335.3h0M130.4 350.1h0M134.9 342.5h0M127.1 325.6h0M129.1 328.4h0M133.2 337.1h0M129.9 318.3h0M141.2 325.1h0M135.6 315.6h0M128.0 299.4h0M131.4 334.0h0M137.4 326.1h0M135.5 332.2h0M128.6 303.1h0M129.0 326.4h0M126.4 284.4h0M130.4 325.0h0M130.4 321.3h0M126.9 340.5h0M120.7 340.2h0M133.3 338.8h0M128.9 327.5h0M121.7 347.2h0M129.7 311.2h0M136.0 313.4h0M131.6 325.7h0M145.2 327.1h0M136.4 327.7h0M118.6 329.0h0M132.2 332.9h0M130.7 323.0h0M125.9 325.1h0M127.3 321.0h0M130.8 320.6h0M131.9 328.5h0M132.4 333.9h0M139.7 341.4h0M129.0 309.1h0M133.6 350.4h0M132.3 354.1h0M135.2 325.9h0M129.0 329.5h0M126.8 350.5h0M115.8 313.9h0M122.9 321.5h0M130.2 319.0h0M128.9 317.1h0M139.4 307.8h0M131.3 332.4h0M135.8 349.5h0M144.9 324.5h0M137.0 308.9h0M131.9 351.4h0M136.8 308.6h0M117.4 315.8h0M132.5 339.9h0M134.6 327.0h0M137.4 308.0h0M130.4 315.2h0M150.8 315.2h0M130.2 331.4h0M128.4 336.1h0M129.0 321.0h0M144.4 337.5h0M121.8 347.5h0M127.6 305.1h0M122.5 347.1h0M136.6 333.6h0M129.0 314.9h0M116.7 330.7h0M145.3 344.5h0M128.6 307.7h0M143.5 326.0h0M135.6 343.8h0M129.1 310.7h0M129.5 318.9h0M133.0 353.5h0M134.4 330.5h0M129.9 321.4h0M156.4 322.6h0M126.4 298.3h0M129.4 331.7h0M129.9 334.8h0M132.1 350.4h0M136.1 329.4h0M132.3 338.3h0M129.7 332.4h0M157.0 328.0h0M133.5 343.8h0M137.3 352.1h0M135.7 316.8h0M126.7 318.0h0M131.0 329.4h0M143.8 323.1h0M136.6 346.1h0M136.3 316.4h0M129.9 334.9h0M127.1 289.5h0M145.9 329.7h0M137.4 315.1h0M138.3 336.2h0M132.9 346.5h0M131.5 347.4h0M131.0 341.3h0M130.4 345.3h0M117.0 327.1h0M131.2 334.0h0M130.2 345.9h0M135.2 328.8h0M134.0 337.7h0M135.9 348.0h0M134.1 333.7h0M121.3 349.6h0M130.4 338.4h0M133.7 333.6h0M135.5 316.5h0M126.8 324.1h0M139.3 345.4h0M135.2 320.0h0M133.3 336.7h0M130.5 329.9h0M131.0 324.6h0M150.2 335.8h0M129.2 331.0h0M130.7 353.1h0M123.7 312.9h0M132.2 341.6h0M129.2 322.8h0M137.6 306.1h0M127.3 293.4h0M138.5 316.6h0M145.1 333.5h0M126.2 340.1h0M138.2 309.4h0M126.8 315.8h0M132.0 346.1h0M129.4 319.1h0M134.2 345.8h0M138.7 328.1h0M129.5 308.6h0M134.1 347.1h0M138.4 332.5h0M139.5 290.3h0M138.6 306.3h0M135.9 319.6h0M129.5 331.5h0M126.9 303.5h0M137.3 310.9h0M130.6 342.1h0M108.3 321.4h0M126.5 291.6h0M131.4 336.0h0M128.0 314.6h0M128.8 303.4h0M130.3 325.2h0M127.4 324.9h0M139.7 304.2h0M139.7 347.0h0M134.6 333.8h0M131.9 336.7h0M133.3 351.4h0M127.8 342.8h0M142.9 333.4h0M145.2 316.3h0M128.6 314.9h0M130.9 351.5h0M134.7 326.3h0M136.9 338.5h0M143.2 324.9h0M119.4 312.6h0M135.0 330.3h0M138.5 296.7h0M124.6 321.3h0M146.0 317.8h0M126.8 319.4h0M132.4 337.9h0M127.2 329.5h0M118.0 335.4h0M134.9 348.7h0M132.3 345.3h0M135.3 331.1h0M130.1 337.9h0M136.4 341.1h0M132.3 336.7h0M127.7 296.0h0M134.5 329.3h0M138.6 296.9h0M135.9 325.4h0M141.1 323.8h0M139.3 316.5h0M127.1 330.8h0M130.7 324.0h0M135.2 327.9h0M132.5 337.3h0M127.1 349.8h0M135.1 331.4h0M162.2 332.3h0M127.8 323.3h0M139.0 353.3h0M134.5 333.0h0M135.9 314.6h0M146.0 339.8h0M133.3 342.1h0M134.1 344.8h0M122.4 321.7h0M136.2 318.0h0M129.1 310.4h0M122.3 314.8h0M134.1 345.4h0M141.7 338.5h0M133.9 350.7h0M132.8 348.0h0M137.7 304.7h0M137.0 324.9h0M127.0 300.4h0M131.2 329.0h0M138.6 325.4h0M117.1 329.3h0M139.4 300.1h0M128.1 319.7h0M130.7 336.7h0M127.9 340.4h0M135.3 335.1h0M135.8 329.0h0M126.3 325.4h0M132.4 333.4h0M134.7 344.4h0M144.1 338.7h0M139.4 293.0h0M135.3 332.8h0M132.2 349.9h0M128.4 321.3h0M126.6 305.0h0M133.1 341.1h0M136.0 314.2h0M155.5 328.3h0M130.5 333.7h0M130.2 336.6h0M134.6 326.3h0M142.9 318.6h0M128.5 309.2h0M145.0 339.1h0M127.6 293.7h0M124.5 324.7h0M131.4 323.7h0M125.3 340.5h0M124.0 342.8h0M139.5 295.3h0M131.9 348.2h0M132.2 334.2h0M107.7 316.9h0M127.2 304.1h0M133.7 338.2h0M139.4 333.0h0M129.9 326.3h0M116.4 343.5h0M136.2 335.7h0M132.2 335.1h0M126.5 344.8h0M134.4 326.4h0M147.4 341.4h0M136.8 349.0h0M115.6 345.6h0M113.9 316.4h0M135.1 322.6h0M134.0 355.6h0M126.0 340.3h0M131.2 354.9h0M129.8 319.9h0M135.9 343.6h0M135.0 325.5h0M127.9 335.1h0M135.8 329.6h0M141.1 345.6h0M125.5 316.6h0M107.4 340.1h0M126.1 315.7h0M134.7 350.9h0M135.2 339.6h0M147.4 346.8h0M129.4 311.0h0M140.4 325.9h0M131.8 328.3h0M123.4 321.8h0M144.7 335.4h0M127.3 329.7h0M128.3 311.1h0M130.8 323.2h0M132.1 338.1h0M135.1 327.5h0M130.6 318.4h0M118.3 346.0h0M132.2 333.8h0M126.8 301.4h0M135.6 319.7h0M135.9 347.8h0M126.7 303.2h0M134.7 335.4h0M131.0 322.4h0M137.8 326.6h0M140.0 334.3h0M127.7 333.8h0M132.3 334.0h0M138.3 319.4h0M130.3 345.1h0M129.4 306.5h0M138.6 314.4h0M118.3 342.3h0M127.4 335.6h0M139.4 334.3h0M125.3 316.7h0M133.2 346.5h0M132.6 348.6h0M130.8 334.9h0M137.0 317.8h0M126.5 334.0h0M136.9 319.8h0M134.2 339.7h0M137.0 317.2h0M141.3 326.0h0M134.9 346.6h0M131.8 335.8h0M137.6 308.9h0M137.4 346.7h0M126.4 320.7h0M129.8 329.3h0M127.3 322.4h0M131.2 341.5h0M136.6 317.3h0M142.0 332.8h0M129.6 312.9h0M129.5 310.7h0M141.4 314.7h0M133.7 334.7h0M129.0 314.9h0M133.2 351.8h0M133.8 354.8h0M137.9 309.3h0M132.5 336.5h0M136.9 325.8h0M134.9 321.7h0M135.8 322.7h0M131.6 330.1h0M130.7 327.6h0M136.2 330.6h0M134.0 331.2h0M130.1 318.5h0M138.5 292.8h0M118.5 318.5h0M143.9 328.5h0M135.9 326.8h0M121.6 335.4h0M146.1 314.8h0M132.0 340.9h0M130.8 339.8h0M143.1 314.4h0M133.0 347.8h0M138.8 304.5h0M140.1 336.2h0M132.7 342.2h0M140.6 340.1h0M129.2 332.1h0M133.3 336.0h0M125.0 314.5h0M131.6 352.3h0M130.0 338.4h0M130.9 332.1h0M132.5 333.8h0M134.9 344.9h0M134.6 346.2h0M130.1 334.2h0M115.6 339.4h0M128.2 307.5h0M130.5 316.5h0M141.0 312.8h0M128.7 343.0h0M136.3 353.3h0M131.6 326.2h0M149.9 329.6h0M131.9 334.1h0M120.7 334.1h0M147.7 336.1h0M128.7 336.5h0M145.8 343.7h0M121.1 321.7h0M124.5 328.4h0M123.6 344.7h0M134.8 328.1h0M132.1 349.1h0M128.6 318.7h0M130.0 327.5h0M135.3 352.9h0M136.6 340.7h0M131.4 334.9h0M139.6 292.7h0M131.9 339.8h0M148.3 328.1h0M140.3 344.5h0M128.2 333.2h0M134.5 331.9h0M129.9 323.1h0M132.7 346.5h0M131.9 352.4h0M135.1 347.4h0M128.6 313.7h0M139.8 313.5h0M129.1 313.6h0M142.8 339.7h0M134.6 326.1h0M101.8 317.6h0M127.2 314.6h0M132.3 338.8h0M136.7 318.9h0M141.9 339.5h0M127.6 329.1h0M138.9 297.9h0M136.8 310.6h0M143.7 336.6h0M125.9 319.1h0M143.4 326.6h0M130.4 338.0h0M129.2 319.8h0M130.2 330.7h0M130.5 335.4h0M135.2 347.1h0M126.8 296.7h0M132.9 347.5h0M104.0 325.6h0M130.2 324.0h0M127.4 318.4h0M137.2 347.5h0M137.4 304.9h0M133.1 339.1h0M126.8 290.8h0M125.3 325.2h0M135.7 326.0h0M138.2 325.4h0M134.6 324.3h0M136.6 329.8h0M128.1 338.1h0M126.9 287.8h0M123.4 320.3h0M133.6 335.6h0M132.4 335.8h0M136.5 311.7h0M141.9 332.4h0M133.8 349.1h0M135.8 313.7h0M129.4 329.2h0M126.8 292.2h0M133.6 353.5h0M125.4 316.8h0M136.4 309.7h0M131.2 323.0h0M142.3 331.9h0M124.2 330.3h0M128.2 310.1h0M127.8 311.5h0M126.4 341.6h0M138.9 330.0h0M109.4 316.7h0M122.5 318.5h0M142.4 344.4h0M130.0 312.8h0M136.9 310.5h0M114.8 342.2h0M112.7 333.7h0M134.1 331.6h0M137.8 298.6h0M142.1 333.2h0M136.8 306.3h0M138.0 330.2h0M132.5 339.9h0M132.0 342.5h0M130.3 318.6h0M128.1 301.7h0M126.1 323.0h0M136.6 318.0h0M130.6 341.6h0M125.9 332.9h0M132.6 336.8h0M128.0 329.6h0M137.9 338.9h0M130.4 323.1h0M127.5 320.8h0M134.9 329.8h0M133.9 343.4h0M129.1 312.2h0M129.1 318.9h0M137.0 309.3h0M126.8 299.3h0M129.9 329.5h0M132.1 332.2h0M130.5 329.4h0M136.5 326.9h0M137.4 313.5h0M115.4 314.4h0M111.7 318.2h0M129.4 318.2h0M139.0 323.5h0M141.7 329.1h0M129.9 326.0h0M136.2 333.3h0M135.2 344.6h0M142.6 333.9h0M142.8 333.7h0M132.9 338.4h0M135.0 322.1h0M129.0 305.1h0M136.2 352.4h0M150.9 336.6h0M129.3 331.7h0M135.3 331.3h0M124.6 329.6h0M130.3 323.8h0M126.9 341.1h0M129.8 312.2h0M126.6 312.7h0M124.9 332.4h0M139.7 320.5h0M139.4 299.3h0M133.0 347.4h0M140.3 353.3h0M129.4 333.8h0M116.6 318.5h0M121.5 323.4h0M146.2 346.7h0M136.3 346.5h0M124.2 342.2h0M130.9 350.2h0M125.9 317.0h0M133.4 342.4h0M138.4 316.7h0M136.5 332.2h0M139.7 317.1h0M142.3 347.0h0M123.7 319.6h0M142.6 328.8h0M129.1 320.7h0M126.5 319.9h0M138.9 304.5h0M132.4 335.2h0M133.4 350.3h0M135.3 333.3h0M130.7 352.8h0M128.9 333.5h0M130.1 326.4h0M137.6 313.1h0M134.3 328.4h0M143.5 337.1h0M142.9 318.2h0M124.4 314.1h0M141.2 336.4h0M133.0 343.1h0M132.2 331.4h0M139.0 345.2h0M126.4 301.3h0M140.6 326.8h0M137.8 324.1h0M135.1 338.7h0M138.2 326.5h0M139.0 337.4h0M137.2 319.5h0M116.3 333.8h0M129.1 330.2h0M132.7 339.8h0M127.2 339.1h0M128.2 332.4h0M129.3 318.8h0M127.9 332.3h0M127.3 297.3h0M128.0 304.2h0M135.4 338.7h0M137.0 307.2h0M128.3 330.7h0M145.2 331.7h0M133.4 343.8h0M127.7 354.1h0M155.0 315.5h0M134.2 344.9h0M134.1 352.4h0M136.5 318.8h0M139.1 335.4h0M124.0 332.5h0M126.4 336.4h0M138.2 313.7h0M135.4 318.4h0M133.1 344.2h0M132.0 341.6h0M126.2 315.0h0M132.2 343.4h0M131.5 337.1h0M119.7 335.1h0M138.2 332.7h0M130.3 340.2h0M133.6 337.1h0M138.9 301.5h0M138.3 304.5h0M137.0 303.6h0M132.2 348.4h0M134.1 347.6h0M132.9 346.9h0M130.4 321.9h0M123.9 341.4h0M127.3 346.0h0M130.4 342.7h0M122.7 336.7h0M137.1 342.7h0M129.8 351.2h0M136.2 340.5h0M105.8 332.7h0M130.5 345.1h0M133.6 337.7h0M129.1 322.1h0M144.8 321.7h0M127.9 333.0h0M139.6 292.9h0M130.1 317.6h0M125.9 324.3h0M130.4 333.5h0M136.5 320.7h0M135.2 342.6h0M123.5 342.0h0M124.9 339.1h0M129.3 312.8h0M128.5 327.1h0M136.3 318.9h0M135.5 320.9h0M133.0 351.1h0M133.3 348.7h0M138.0 334.5h0M129.2 325.4h0M133.3 355.2h0M131.0 320.8h0M128.7 306.1h0M121.4 321.0h0M135.4 323.8h0M154.4 316.5h0M135.2 325.9h0M134.8 339.7h0M127.9 302.1h0M126.6 308.2h0M128.5 319.8h0M128.7 305.0h0M131.2 348.9h0M131.8 333.7h0M118.7 345.3h0M135.6 336.4h0M134.0 331.7h0M128.7 305.7h0M134.2 333.0h0M129.8 313.0h0M128.0 335.9h0M135.7 320.3h0M115.5 340.1h0M144.8 312.3h0M124.5 314.5h0M129.2 310.2h0M136.4 340.9h0M130.1 335.4h0M129.2 355.8h0M139.5 330.2h0M130.2 348.0h0M136.5 332.8h0M132.4 342.2h0M135.0 324.6h0M134.7 335.3h0M135.0 347.7h0M133.8 336.3h0M137.2 320.3h0M135.2 318.2h0M138.5 298.7h0M130.7 319.7h0M126.8 296.5h0M127.3 328.9h0M130.6 322.0h0M122.5 349.9h0M134.6 336.1h0M135.5 336.3h0M131.7 346.7h0M125.0 338.3h0M133.9 340.6h0M136.4 310.2h0M128.4 320.6h0M128.7 330.0h0M147.9 338.9h0M137.5 304.9h0M139.1 293.3h0M130.2 322.0h0M132.9 350.4h0M129.2 330.5h0M131.4 325.0h0M145.2 330.9h0M151.4 321.8h0M139.2 300.6h0M127.6 334.2h0M138.1 345.0h0M134.5 325.3h0M128.5 300.8h0M127.9 302.0h0M133.4 334.9h0M99.5 329.4h0M132.0 345.0h0M142.8 327.4h0M125.3 328.0h0M133.7 334.6h0M137.2 317.8h0M131.3 339.2h0M136.2 344.2h0M134.9 334.5h0M134.3 336.8h0M131.5 335.9h0M120.3 336.9h0M132.8 337.4h0M127.4 293.9h0M136.0 336.6h0M132.9 343.9h0M129.3 315.6h0M133.7 353.8h0M133.8 344.3h0M127.5 310.2h0M137.4 330.7h0M130.0 314.0h0M122.1 319.3h0M133.0 347.3h0M130.6 332.8h0M135.9 316.0h0M133.8 349.4h0M134.1 342.8h0M133.9 341.5h0M141.9 348.6h0M127.5 296.0h0M135.2 351.8h0M129.7 317.4h0M129.7 342.0h0M131.7 340.0h0M130.3 325.6h0M137.5 353.7h0M140.4 335.1h0M125.0 324.9h0M135.3 322.5h0M131.3 325.1h0M137.4 303.4h0M143.0 335.6h0M131.4 332.1h0M135.2 327.2h0M132.1 331.9h0M140.5 347.5h0M132.1 345.3h0M135.8 320.9h0M132.6 337.0h0M121.3 328.8h0M128.9 314.1h0M134.1 344.0h0M131.1 338.4h0M136.1 331.7h0M129.1 348.3h0M129.0 320.0h0M126.8 313.1h0M136.5 327.7h0M139.0 298.7h0M135.8 334.8h0M118.6 328.7h0M125.5 325.7h0M129.2 307.7h0M137.1 353.1h0M130.9 328.5h0M135.3 322.1h0M139.0 312.5h0M138.2 306.6h0M126.6 317.3h0M137.7 327.4h0M134.7 338.3h0M137.4 345.6h0M131.8 338.6h0M135.8 318.2h0M128.0 310.6h0M109.8 324.6h0M128.2 338.9h0M139.6 314.3h0M127.4 306.8h0M142.0 317.5h0M132.8 337.6h0M133.3 353.9h0M133.0 340.7h0M136.7 312.2h0M149.6 336.7h0M140.2 319.0h0M136.1 323.4h0M136.0 317.3h0M134.1 349.1h0M139.0 312.4h0M132.4 340.4h0M136.8 312.9h0M129.9 339.4h0M130.5 341.6h0M138.3 296.0h0M130.3 325.1h0M132.7 336.0h0M131.0 330.2h0M127.9 336.8h0M133.9 349.0h0M146.1 329.7h0M130.7 329.1h0M127.2 290.2h0M130.0 317.9h0M132.4 351.6h0M139.2 306.8h0M132.0 347.9h0M148.6 337.8h0M139.6 346.1h0M139.2 290.2h0M96.8 339.4h0M123.0 329.9h0M125.3 320.5h0M134.8 327.1h0M139.2 329.5h0M132.8 345.2h0M143.1 333.4h0M131.3 343.5h0M131.7 330.4h0M150.2 314.9h0M131.8 336.5h0M139.1 318.9h0M127.9 333.7h0M132.4 344.0h0M137.1 326.5h0M133.0 345.0h0M131.4 336.6h0M136.5 337.9h0M121.4 347.4h0M132.6 336.2h0M130.9 323.5h0M133.4 337.1h0M128.2 343.8h0M121.3 320.3h0M127.0 342.2h0M139.1 307.3h0M137.0 322.9h0M135.0 327.3h0M128.5 323.5h0M136.9 324.6h0M134.8 328.9h0M139.6 337.4h0M124.6 319.7h0M133.8 341.8h0M135.8 315.9h0M135.4 347.1h0M138.1 341.8h0M128.8 303.0h0M137.9 297.3h0M138.8 317.4h0M125.7 316.2h0M127.4 300.6h0M137.5 326.6h0M135.9 331.7h0M128.9 308.8h0M130.1 314.6h0M126.8 338.1h0M132.3 344.2h0M138.5 308.3h0M136.2 334.5h0M137.1 343.7h0M130.2 335.0h0M135.5 319.1h0M133.1 345.4h0M129.5 324.6h0M125.5 313.7h0M136.8 316.5h0M127.4 295.7h0M132.1 336.3h0M133.9 338.7h0M133.3 352.0h0M141.2 328.7h0M128.3 332.5h0M139.6 305.4h0M134.1 344.5h0M137.5 303.7h0M139.4 307.7h0M145.9 317.5h0M132.3 355.3h0M138.3 306.9h0M122.4 342.7h0M135.4 334.1h0M135.1 343.9h0M118.4 313.2h0M136.7 341.8h0M133.1 341.4h0M137.5 315.3h0M137.0 307.9h0M128.5 321.4h0M122.3 337.3h0M135.2 343.3h0M136.0 315.5h0M122.3 334.2h0M130.3 346.8h0M127.8 351.6h0M126.7 324.4h0M131.4 338.2h0M132.0 330.0h0M136.4 309.8h0M133.2 342.6h0M135.0 329.1h0M129.3 308.0h0M137.5 314.0h0M138.0 320.2h0M111.9 314.9h0M133.4 343.0h0M135.1 319.7h0M125.9 332.1h0M129.2 323.2h0M129.4 314.2h0M129.8 325.4h0M123.0 324.3h0M132.1 343.4h0M137.7 321.2h0M140.4 352.3h0M137.3 349.4h0M157.8 347.8h0M127.6 294.4h0M143.4 316.2h0M136.5 329.5h0M135.7 342.6h0M129.6 309.2h0M119.7 313.4h0M136.9 327.5h0M134.2 347.2h0M136.5 354.2h0M143.4 336.6h0M138.4 339.9h0M133.5 344.1h0M129.4 328.3h0M131.2 325.7h0M142.3 335.8h0M138.2 317.4h0M136.2 325.8h0M139.0 343.6h0M107.9 341.7h0M125.1 347.8h0M134.4 343.5h0M129.2 350.3h0M127.4 296.1h0M133.6 344.1h0M133.9 337.7h0M148.5 335.1h0M128.8 334.9h0M148.9 327.3h0M125.6 351.1h0M124.7 325.6h0M127.1 301.1h0M132.8 352.9h0M133.0 349.7h0M134.1 337.7h0M129.5 328.5h0M130.3 343.5h0M132.8 338.8h0M142.6 341.2h0M142.9 314.0h0M130.4 332.2h0M136.2 336.3h0M109.0 320.8h0M131.8 336.2h0M136.3 326.5h0M133.4 350.5h0M128.3 313.6h0M131.4 341.7h0M132.3 334.8h0M127.8 309.6h0M136.0 352.0h0M138.6 328.5h0M124.1 321.9h0M123.9 346.0h0M131.6 351.0h0M137.1 355.2h0M130.7 332.0h0M134.0 333.3h0M129.8 333.9h0M126.4 328.9h0M135.0 326.8h0M131.6 344.1h0M142.8 327.1h0M143.8 332.4h0M123.6 331.3h0M133.6 334.4h0M129.5 315.6h0M137.8 312.3h0M137.4 306.6h0M128.3 334.9h0M138.5 315.3h0M131.4 336.9h0M137.6 339.8h0M138.3 298.2h0M140.4 318.0h0M138.2 338.3h0M135.6 345.0h0M126.5 350.1h0M142.3 313.9h0M141.3 340.2h0M132.2 348.8h0M127.7 339.4h0M135.8 329.4h0M128.7 313.9h0M138.3 295.3h0M113.6 339.3h0M131.0 331.0h0M139.0 302.3h0M133.7 338.8h0M151.5 339.0h0M130.2 324.8h0M132.4 337.1h0M135.8 332.8h0M133.9 344.5h0M122.9 335.3h0M130.2 340.9h0M139.1 327.2h0M128.4 341.7h0M134.7 329.3h0M138.7 325.4h0M134.3 346.0h0M135.6 347.4h0M139.3 328.7h0M138.1 317.9h0M145.0 318.2h0M131.1 321.7h0M132.7 345.3h0M141.6 316.0h0M130.9 320.5h0M128.3 331.1h0M138.8 325.2h0M107.2 339.7h0M133.0 339.6h0M137.0 313.2h0M134.9 337.1h0M134.3 332.0h0M136.8 334.9h0M130.4 318.2h0M130.7 322.7h0M118.4 326.0h0M136.2 338.9h0M132.3 341.7h0M137.7 337.2h0M133.4 349.6h0M129.1 348.8h0M130.9 333.1h0M140.2 330.3h0M123.6 350.8h0M138.3 334.5h0M142.4 330.4h0M123.8 330.4h0M138.9 349.8h0M145.2 340.1h0M136.0 324.8h0M121.3 338.7h0M140.5 329.9h0M135.3 320.0h0M153.8 344.1h0M131.4 328.3h0M140.9 316.0h0M133.2 342.0h0M139.4 330.6h0M127.9 344.4h0M127.9 302.5h0M136.3 326.1h0M131.9 340.0h0M122.9 332.2h0M133.6 353.8h0M113.2 322.2h0M131.8 329.4h0M129.3 337.3h0M127.8 302.6h0M130.0 328.2h0M136.2 315.8h0M139.4 311.3h0M134.2 347.0h0M136.7 306.8h0M128.7 343.0h0M144.4 333.3h0M131.3 342.3h0M137.6 303.5h0M133.0 347.7h0M132.1 348.4h0M141.7 314.3h0M133.2 349.9h0M153.9 321.3h0M138.5 293.2h0M135.3 330.1h0M132.3 341.0h0M126.0 328.7h0M124.4 346.9h0M139.5 309.6h0M143.9 317.8h0M134.8 346.3h0M139.1 299.2h0M131.0 343.9h0M137.0 338.6h0M129.1 343.1h0M124.6 324.6h0M127.8 340.9h0M128.0 306.9h0M131.4 328.8h0M133.9 346.2h0M131.8 327.3h0M139.0 288.7h0M135.1 334.3h0M137.5 311.3h0M131.8 330.4h0M121.0 336.9h0M130.2 332.8h0M148.4 316.8h0M126.5 327.5h0M130.9 342.4h0M128.9 323.9h0M136.6 318.3h0M130.7 321.3h0M133.9 333.7h0M127.8 294.8h0M131.8 344.2h0M129.7 316.9h0M131.3 353.6h0M133.6 337.9h0M107.2 348.0h0M132.1 351.9h0M126.6 299.1h0M131.6 349.3h0M132.5 348.4h0M128.2 304.3h0M111.2 346.5h0M141.1 323.9h0M126.5 300.9h0M132.4 336.0h0M133.6 343.8h0M121.7 326.4h0M127.4 307.9h0M132.5 334.2h0M131.1 327.2h0M127.9 329.4h0M128.0 331.6h0M132.5 342.7h0M131.7 331.0h0M134.3 335.0h0M139.1 287.6h0M128.9 320.6h0M138.2 332.0h0M126.8 308.4h0M131.4 330.7h0M126.8 308.7h0M135.2 319.6h0M137.6 341.6h0M134.7 329.0h0M138.9 299.4h0M125.3 331.0h0M135.4 355.9h0M130.4 319.4h0M134.5 342.1h0M137.0 326.5h0M134.2 335.8h0M128.0 344.9h0M130.1 326.4h0M138.7 345.6h0M138.4 316.8h0M102.7 321.5h0M132.1 336.1h0M132.1 331.3h0M138.3 314.1h0M138.6 308.9h0M133.4 339.0h0M139.0 296.8h0M130.8 331.3h0M134.7 326.4h0M138.9 317.6h0M127.7 302.0h0M137.4 300.7h0M142.9 336.8h0M135.2 338.0h0M143.6 317.1h0M131.6 335.0h0M136.8 336.4h0M132.1 341.5h0M134.1 329.5h0M129.3 309.3h0M130.3 341.1h0M116.1 346.0h0M141.8 332.1h0M120.5 333.9h0M135.1 320.0h0M141.1 339.1h0M126.4 323.3h0M135.3 327.4h0M131.8 339.3h0M137.5 344.9h0M134.3 337.8h0M128.6 302.8h0M126.9 310.5h0M127.7 324.3h0M129.8 321.6h0M129.9 334.0h0M111.3 347.9h0M138.1 330.1h0M139.4 286.3h0M136.6 337.6h0M130.8 327.0h0M128.8 329.8h0M131.8 331.8h0M132.8 355.6h0M139.6 289.9h0M116.3 325.6h0M128.0 335.8h0M128.4 325.1h0M136.5 322.6h0M138.2 326.2h0M141.7 324.6h0M134.3 335.8h0M132.3 336.8h0M130.2 324.3h0M128.3 303.0h0M138.6 327.7h0M123.2 312.4h0M134.2 341.5h0M141.5 336.2h0M129.5 315.6h0M137.5 314.0h0M139.3 302.3h0M148.6 314.7h0M132.6 347.3h0M117.3 327.6h0M142.0 350.3h0M133.1 344.8h0M140.5 339.8h0M144.9 341.1h0M127.3 306.5h0M144.2 334.3h0M136.0 350.8h0M134.3 328.5h0M127.9 351.1h0M133.5 336.5h0M129.6 351.1h0M130.8 351.4h0M136.2 332.3h0M130.7 322.5h0M131.1 333.8h0M144.9 327.8h0M137.8 306.3h0M129.2 324.3h0M126.2 313.5h0M154.0 320.2h0M136.2 354.6h0M141.9 318.5h0M138.5 323.9h0M139.5 288.2h0M133.0 347.0h0M137.2 314.6h0M144.0 342.9h0M130.2 314.8h0M133.7 348.7h0M138.2 306.8h0M125.8 317.3h0M132.5 351.3h0M123.8 337.3h0M131.9 331.8h0M133.0 340.8h0M127.4 294.8h0M132.7 346.6h0M127.4 294.4h0M134.9 338.0h0M127.2 321.4h0M134.6 343.2h0M133.6 349.6h0M139.3 298.9h0M132.4 339.0h0M131.1 341.1h0M144.6 336.9h0M132.1 334.4h0M131.5 350.5h0M134.5 340.9h0M138.3 305.3h0M132.7 336.8h0M124.6 312.4h0M137.6 328.9h0M120.5 326.2h0M129.5 327.3h0M139.3 312.8h0M137.8 313.1h0M134.9 338.4h0M139.2 327.8h0M121.2 339.9h0M130.9 326.8h0M131.6 341.0h0M64.7 323.2h0M69.3 324.3h0M76.0 322.1h0M74.0 348.7h0M189.9 322.1h0M196.7 323.2h0M185.3 343.2h0M176.6 338.7h0" stroke="#8c8c8c" stroke-width="1.85" stroke-linecap="round" fill="none"/>
<path d="M118.0 293.5h0M107.4 253.8h0M107.1 264.3h0M116.3 238.4h0M121.0 283.6h0M116.5 249.9h0M123.8 280.4h0M123.9 296.6h0M114.2 258.3h0M113.8 299.9h0M97.0 230.9h0M125.3 280.9h0M125.4 288.0h0M123.6 273.2h0M116.7 298.6h0M114.8 249.4h0M125.9 309.2h0M125.4 280.2h0M120.7 281.6h0M125.6 310.0h0M120.5 302.4h0M111.8 257.1h0M121.8 302.7h0M116.6 294.2h0M126.3 309.7h0M103.3 220.2h0M96.5 264.0h0M118.6 294.3h0M122.4 269.9h0M121.6 278.8h0M123.5 268.1h0M111.7 241.8h0M116.4 304.3h0M122.2 274.7h0M97.3 216.4h0M124.7 311.2h0M122.9 308.7h0M122.2 306.7h0M84.5 277.0h0M122.6 260.4h0M122.1 274.2h0M124.8 282.6h0M100.5 252.8h0M120.6 311.7h0M120.6 254.9h0M97.5 218.9h0M123.6 303.9h0M95.6 265.1h0M96.5 302.1h0M125.0 307.3h0M126.2 289.9h0M113.4 295.3h0M124.6 280.2h0M116.1 306.9h0M113.9 300.8h0M125.8 291.4h0M112.7 253.2h0M125.1 287.8h0M118.8 272.6h0M124.7 288.9h0M118.7 263.3h0M116.3 254.3h0M118.5 290.1h0M125.3 293.3h0M120.6 254.7h0M104.8 274.6h0M125.5 284.2h0M124.8 280.8h0M125.7 289.2h0M121.1 254.3h0M125.2 307.9h0M99.6 307.5h0M125.8 296.5h0M126.3 292.8h0M119.9 264.3h0M111.4 237.4h0M123.5 275.0h0M125.3 308.7h0M125.6 296.1h0M119.0 269.2h0M94.3 251.0h0M125.4 298.9h0M125.6 291.4h0M120.8 263.5h0M119.1 309.2h0M111.2 284.2h0M120.4 265.2h0M125.8 310.9h0M121.9 293.3h0M123.8 277.7h0M120.0 256.6h0M98.4 252.0h0M125.7 284.7h0M113.4 248.9h0M122.2 272.4h0M121.9 292.8h0M122.2 276.3h0M120.6 299.5h0M123.5 298.8h0M122.2 278.7h0M108.3 231.2h0M120.4 256.0h0M94.5 268.5h0M121.7 298.0h0M125.9 281.7h0M124.7 295.4h0M118.4 283.7h0M122.1 296.6h0M123.8 302.7h0M126.3 285.1h0M117.2 259.5h0M103.8 264.6h0M115.8 243.8h0M122.5 282.4h0M118.6 266.9h0M124.3 281.7h0M119.4 268.1h0M108.4 296.7h0M108.9 227.6h0M122.6 282.5h0M125.6 305.3h0M121.6 295.0h0M118.8 308.1h0M122.4 261.9h0M123.7 297.8h0M124.3 279.0h0M126.2 306.3h0M124.9 304.4h0M119.2 260.8h0M109.3 263.1h0M105.1 240.2h0M124.9 298.7h0M100.6 279.5h0M124.4 279.1h0M120.5 277.0h0M112.0 279.0h0M122.9 298.0h0M122.5 290.2h0M124.3 293.5h0M126.1 308.9h0M124.8 283.6h0M124.7 287.2h0M90.0 207.4h0M100.7 258.9h0M124.1 303.7h0M111.0 309.0h0M125.1 286.9h0M124.6 284.6h0M126.3 293.3h0M122.1 302.2h0M117.8 279.5h0M126.1 301.6h0M124.2 293.5h0M114.6 232.2h0M125.1 284.5h0M116.7 276.4h0M116.5 243.5h0M111.9 279.4h0M120.2 287.8h0M108.8 295.6h0M117.9 308.8h0M115.2 278.8h0M117.1 271.3h0M104.2 305.8h0M102.9 232.7h0M126.0 300.6h0M121.9 302.4h0M123.2 278.0h0M112.7 279.2h0M122.8 274.9h0M120.0 257.7h0M118.0 276.3h0M123.5 310.0h0M126.1 305.0h0M125.5 290.3h0M124.8 294.6h0M114.6 297.3h0M122.2 258.7h0M126.1 284.7h0M109.5 278.3h0M118.0 300.6h0M120.3 290.0h0M118.0 302.5h0M124.6 285.5h0M116.6 294.4h0M107.9 292.3h0M121.1 264.7h0M117.5 245.8h0M108.1 272.9h0M123.3 288.3h0M123.1 284.4h0M111.8 237.2h0M112.8 248.2h0M115.2 240.6h0M125.0 276.1h0M114.8 273.2h0M118.1 250.0h0M120.3 279.3h0M124.0 274.7h0M123.4 293.4h0M123.1 308.5h0M114.9 253.4h0M126.1 297.4h0M115.3 291.8h0M115.4 261.9h0M123.5 274.4h0M125.1 308.9h0M125.6 285.4h0M122.0 293.0h0M124.0 272.2h0M121.4 311.6h0M125.3 284.5h0M102.1 311.7h0M99.0 252.0h0M102.9 288.7h0M116.6 296.8h0M104.7 285.6h0M108.0 267.7h0M116.0 238.1h0M116.2 269.0h0M116.5 295.0h0M115.5 310.7h0M106.4 308.6h0M108.0 295.7h0M125.5 303.7h0M125.0 275.7h0M96.6 255.8h0M126.2 300.9h0M121.5 288.2h0M124.2 272.6h0M101.7 242.3h0M117.6 255.1h0M125.8 300.9h0M84.8 248.9h0M125.4 306.2h0M123.8 269.7h0M125.3 278.4h0M124.5 279.7h0M123.1 301.0h0M121.9 284.9h0M124.7 289.9h0M118.4 308.0h0M120.0 256.8h0M125.6 306.3h0M117.5 302.6h0M118.2 291.2h0M124.9 310.7h0M126.2 288.7h0M95.5 293.3h0M111.5 252.2h0M112.2 234.3h0M125.1 306.8h0M125.7 306.6h0M121.9 283.4h0M125.8 282.8h0M112.9 285.2h0M124.2 303.5h0M115.5 242.6h0M122.7 311.7h0M112.1 304.3h0M123.8 276.1h0M122.2 278.4h0M118.2 247.2h0M123.9 308.2h0M125.3 282.2h0M102.1 274.8h0M124.5 288.5h0M103.3 256.2h0M80.7 239.2h0M125.4 279.2h0M118.1 284.7h0M103.5 249.9h0M117.2 241.3h0M122.3 264.7h0M112.5 265.8h0M126.1 311.2h0M124.0 278.3h0M117.3 248.4h0M123.1 295.6h0M116.1 286.0h0M118.3 303.5h0M88.2 268.3h0M121.9 297.4h0M108.9 237.8h0M96.3 310.6h0M124.4 282.1h0M119.2 281.8h0M105.6 285.3h0M112.7 275.3h0M121.5 266.8h0M117.9 247.3h0M96.8 287.6h0M122.3 274.2h0M122.6 263.2h0M107.7 249.9h0M106.9 268.4h0M99.8 259.6h0M115.4 264.9h0M122.1 294.4h0M103.4 265.3h0M124.9 305.8h0M122.4 289.8h0M119.8 292.6h0M117.6 266.5h0M123.2 282.8h0M117.9 267.6h0M121.5 275.4h0M120.1 307.9h0M114.0 269.7h0M123.1 291.5h0M126.1 310.4h0M114.3 244.7h0M119.7 249.7h0M116.9 286.1h0M118.8 257.3h0M86.7 220.8h0M86.4 295.0h0M124.5 289.4h0M110.4 235.7h0M124.9 296.2h0M108.9 269.5h0M125.8 294.7h0M122.8 262.3h0M112.5 251.4h0M112.0 226.9h0M100.4 298.3h0M123.0 305.1h0M119.9 268.4h0M125.0 292.3h0M121.8 277.9h0M123.1 282.2h0M118.3 277.1h0M123.7 309.8h0M122.5 278.1h0M124.8 276.0h0M126.3 291.8h0M118.3 305.3h0M122.9 278.6h0M124.6 297.8h0M124.6 300.0h0M110.6 309.5h0M106.9 243.5h0M122.3 306.3h0M119.5 304.6h0M119.1 256.4h0M116.2 298.8h0M117.2 254.3h0M114.5 253.7h0M94.8 308.6h0M124.5 297.7h0M122.1 271.3h0M125.1 278.3h0M105.0 307.0h0M112.3 301.8h0M114.8 229.8h0M118.4 310.6h0M124.1 303.6h0M120.0 290.3h0M125.6 282.8h0M120.6 282.2h0M126.1 303.6h0M121.1 270.2h0M124.6 310.5h0M125.9 287.7h0M123.2 290.5h0M103.0 202.6h0M82.7 258.8h0M117.3 267.3h0M122.2 311.2h0M122.6 302.3h0M125.2 292.9h0M111.5 268.2h0M119.7 258.5h0M125.8 309.6h0M125.1 275.4h0M102.5 257.0h0M125.6 285.2h0M117.4 273.9h0M116.2 297.8h0M120.1 298.4h0M124.0 309.3h0M126.1 307.6h0M113.3 283.4h0M121.2 274.5h0M120.6 281.4h0M120.5 310.9h0M97.9 239.3h0M112.8 260.5h0M121.7 260.2h0M106.7 264.1h0M120.7 252.6h0M124.6 310.1h0M126.1 303.4h0M117.6 269.2h0M121.9 309.6h0M111.9 284.6h0M111.1 279.8h0M112.4 235.9h0M121.8 299.3h0M118.3 264.7h0M105.0 271.4h0M126.3 308.7h0M117.1 281.1h0M122.3 301.2h0M111.5 309.9h0M125.2 305.3h0M113.2 265.5h0M97.9 217.0h0M100.4 270.2h0M118.8 293.2h0M115.7 253.5h0M114.5 304.3h0M114.3 285.0h0M121.3 301.2h0M108.3 273.6h0M126.0 310.2h0M115.0 256.9h0M102.0 229.8h0M123.9 300.9h0M118.9 253.6h0M123.1 273.1h0M115.8 304.0h0M123.7 306.7h0M125.1 304.0h0M115.9 308.0h0M110.5 284.4h0M123.0 285.9h0M125.3 292.1h0M104.9 280.3h0M106.1 275.9h0M124.4 285.6h0M110.2 253.1h0M120.3 291.5h0M109.0 310.1h0M108.6 223.8h0M111.8 234.7h0M124.5 279.8h0M122.8 276.3h0M120.3 296.7h0M111.1 250.6h0M125.3 281.1h0M117.1 249.3h0M117.5 254.9h0M121.8 296.1h0M120.1 304.9h0M119.6 290.2h0M122.3 279.2h0M125.6 294.5h0M106.3 248.6h0M124.4 290.1h0M107.8 304.5h0M118.8 245.2h0M124.2 283.1h0M122.8 262.9h0M114.9 269.2h0M125.7 293.4h0M121.3 263.0h0M118.9 300.4h0M117.8 261.0h0M121.4 285.8h0M122.4 270.1h0M111.5 309.1h0M120.2 282.2h0M113.8 310.5h0M99.9 218.7h0M118.0 311.5h0M116.2 293.5h0M117.5 312.0h0M125.6 302.6h0M116.7 235.2h0M110.8 274.9h0M121.7 280.7h0M125.5 293.0h0M123.2 306.2h0M126.1 298.6h0M125.5 308.8h0M112.4 288.9h0M123.9 268.7h0M125.7 297.0h0M123.3 310.8h0M107.6 286.9h0M122.7 266.5h0M124.8 282.7h0M109.9 288.4h0M118.7 254.0h0M123.9 309.2h0M124.8 275.5h0M116.9 267.8h0M123.1 265.7h0M121.1 296.5h0M114.0 267.8h0M117.0 297.6h0M126.0 308.2h0M125.3 297.5h0M119.6 301.1h0M118.9 305.1h0M122.6 289.0h0M116.4 254.8h0M119.5 302.3h0M121.2 302.9h0M120.6 260.3h0M103.4 243.9h0M125.4 279.8h0M123.8 303.0h0M126.2 303.6h0M123.1 297.4h0M124.8 308.4h0M90.2 287.0h0M118.4 300.9h0M124.0 307.6h0M119.8 247.5h0M121.4 255.5h0M125.2 295.1h0M114.4 243.5h0M118.5 252.8h0M107.8 245.6h0M125.6 309.9h0M114.5 234.9h0M115.6 298.1h0M124.0 283.1h0M106.2 237.9h0M124.8 285.3h0M118.4 284.8h0M123.5 300.5h0M125.4 289.4h0M105.4 263.8h0M103.1 284.6h0M121.5 262.1h0M112.2 261.4h0M115.8 302.0h0M118.4 308.1h0M125.2 295.7h0M108.0 236.1h0M113.7 300.2h0M110.4 252.7h0M117.3 300.0h0M121.3 280.5h0M119.8 283.7h0M105.6 235.0h0M121.4 308.9h0M124.2 275.0h0M111.3 281.9h0M77.3 236.3h0M122.4 292.4h0M108.0 287.2h0M124.5 290.7h0M118.9 288.2h0M123.4 301.5h0M113.8 265.0h0M115.4 238.9h0M120.6 298.0h0M124.0 309.9h0M116.0 288.5h0M125.9 306.2h0M115.6 304.8h0M124.7 297.6h0M125.4 309.9h0M109.1 306.3h0M118.5 296.7h0M120.4 297.3h0M102.8 252.4h0M121.9 288.9h0M124.5 295.2h0M119.5 301.2h0M123.7 292.7h0M124.8 275.5h0M121.5 309.7h0M124.0 306.9h0M119.7 284.8h0M125.3 299.1h0M114.3 273.8h0M91.5 238.0h0M112.3 238.5h0M118.8 289.4h0M125.1 277.5h0M125.2 286.9h0M92.9 203.8h0M121.9 257.1h0M126.0 288.6h0M123.6 293.2h0M125.0 285.9h0M122.1 261.6h0M125.4 281.8h0M118.1 259.4h0M125.4 293.3h0M105.0 275.9h0M96.6 304.4h0M125.6 298.7h0M125.7 280.0h0M114.4 263.0h0M98.4 311.6h0M120.5 272.1h0M95.6 285.2h0M108.3 246.7h0M125.0 276.8h0M105.3 243.6h0M114.3 241.0h0M115.8 281.9h0M121.9 262.6h0M122.0 301.6h0M123.8 292.0h0M124.3 285.3h0M112.6 242.9h0M109.0 238.5h0M119.4 293.8h0M105.7 288.5h0M108.8 274.4h0M122.3 277.8h0M112.2 285.8h0M80.8 292.9h0M103.1 290.3h0M108.6 226.0h0M124.1 311.5h0M96.1 208.0h0M119.9 304.1h0M119.7 274.1h0M124.1 295.3h0M120.7 275.8h0M118.3 245.5h0M125.4 305.7h0M125.2 280.6h0M88.6 212.3h0M118.9 268.5h0M117.8 258.8h0M124.2 280.4h0M120.0 261.0h0M124.1 295.0h0M106.3 228.6h0M112.1 246.9h0M123.3 308.1h0M120.8 295.4h0M123.2 310.2h0M123.7 294.0h0M110.3 274.2h0M121.7 263.0h0M123.5 301.9h0M118.7 304.0h0M124.2 298.3h0M124.5 274.6h0M114.3 269.1h0M106.9 272.0h0M116.3 278.3h0M122.0 301.0h0M123.5 297.4h0M124.0 292.9h0M121.9 292.7h0M110.7 273.7h0M108.7 244.2h0M125.1 310.0h0M124.4 298.5h0M98.9 230.5h0M121.5 295.8h0M126.3 286.4h0M107.3 235.9h0M111.9 275.3h0M116.9 303.6h0M106.3 237.5h0M122.4 260.6h0M124.5 274.7h0M125.1 290.4h0M122.4 274.2h0M124.5 278.2h0M125.5 291.7h0M94.9 215.7h0M126.1 296.4h0M116.4 271.5h0M114.3 230.9h0M111.2 289.5h0M125.2 311.5h0M124.9 289.0h0M115.4 246.3h0M120.6 303.4h0M125.7 312.0h0M121.7 270.0h0M119.7 259.2h0M125.7 296.6h0M122.8 289.5h0M124.5 271.5h0M120.3 284.1h0M97.9 277.9h0M88.3 253.5h0M111.3 307.2h0M111.1 259.7h0M120.8 268.7h0M107.2 298.9h0M125.5 281.2h0M106.5 236.5h0M126.0 300.0h0M124.2 280.4h0M122.4 306.8h0M122.0 258.7h0M114.6 231.5h0M124.8 303.9h0M112.1 248.6h0M123.5 267.2h0M118.4 304.7h0M121.1 278.9h0M122.1 259.7h0M125.5 286.2h0M122.3 279.3h0M116.1 240.7h0M123.9 305.9h0M113.7 294.6h0M102.6 268.1h0M96.9 263.9h0M116.1 257.2h0M124.5 295.2h0M115.3 269.4h0M110.2 304.9h0M125.2 311.5h0M124.2 307.0h0M119.6 267.4h0M81.8 193.0h0M114.5 256.4h0M126.0 294.9h0M103.0 271.3h0M115.7 281.6h0M124.4 296.0h0M96.3 225.2h0M124.2 291.9h0M123.0 263.8h0M126.0 294.4h0M122.2 298.7h0M126.0 291.1h0M117.1 302.9h0M118.0 253.1h0M122.5 286.9h0M125.0 297.4h0M104.2 219.6h0M101.1 217.6h0M85.6 268.2h0M118.0 274.0h0M124.8 300.9h0M123.1 264.4h0M119.7 275.1h0M121.4 303.8h0M116.1 270.8h0M110.4 244.4h0M120.6 293.8h0M114.0 237.6h0M124.9 296.0h0M124.4 295.6h0M102.9 307.6h0M123.9 304.4h0M106.6 225.7h0M117.4 298.0h0M111.4 263.2h0M115.5 290.1h0M115.7 241.0h0M120.5 257.3h0M122.2 258.7h0M121.0 254.6h0M95.6 272.3h0M125.3 277.5h0M115.1 285.4h0M124.4 275.1h0M117.7 264.4h0M121.8 302.2h0M116.2 279.4h0M117.0 276.1h0M124.0 310.2h0M121.7 279.6h0M126.2 304.8h0M111.9 241.7h0M124.8 281.6h0M124.4 298.9h0M123.6 311.5h0M120.4 281.6h0M123.3 294.2h0M122.9 273.0h0M101.7 242.5h0M122.6 271.2h0M125.1 308.6h0M126.2 291.3h0M115.1 279.5h0M124.4 311.7h0M121.4 291.4h0M124.6 290.3h0M104.3 246.1h0M119.4 295.8h0M125.9 304.9h0M120.4 302.8h0M124.7 294.9h0M120.1 290.6h0M124.6 298.3h0M105.0 218.5h0M113.6 258.2h0M111.9 303.9h0M85.4 213.0h0M124.9 306.1h0M111.2 273.8h0M119.1 285.7h0M125.5 293.0h0M110.9 281.4h0M96.7 243.2h0M115.3 249.7h0M111.1 234.8h0M110.2 249.1h0M110.3 309.6h0M124.7 295.4h0M97.5 274.9h0M120.5 302.8h0M126.1 288.9h0M111.3 235.7h0M112.6 293.3h0M124.2 298.1h0M100.1 242.7h0M124.2 274.9h0M119.8 274.7h0M122.7 302.7h0M120.2 280.4h0M126.2 302.0h0M125.6 289.0h0M121.2 267.8h0M122.8 270.0h0M125.9 301.6h0M122.9 273.7h0M116.3 240.4h0M110.0 303.9h0M115.3 298.4h0M120.9 274.8h0M124.3 270.6h0M123.0 293.6h0M124.6 296.8h0M118.7 242.1h0M113.9 299.0h0M120.6 282.6h0M124.6 289.0h0M116.0 233.9h0M124.7 309.0h0M124.3 279.9h0M104.7 263.0h0M121.8 256.1h0M95.0 211.1h0M93.7 255.1h0M125.0 277.5h0M118.7 258.0h0M126.3 294.0h0M124.3 274.5h0M124.9 309.9h0M119.2 291.1h0M122.3 308.6h0M124.9 302.1h0M125.2 310.7h0M124.5 307.2h0M86.1 263.1h0M120.2 311.3h0M120.8 308.5h0M124.5 310.9h0M105.4 270.0h0M113.0 263.6h0M112.8 303.5h0M81.0 199.9h0M123.9 268.9h0M125.1 296.9h0M124.8 297.6h0M119.2 295.3h0M119.1 303.2h0M121.2 253.3h0M115.8 287.9h0M126.1 283.6h0M117.5 293.4h0M113.5 238.8h0M124.3 294.8h0M108.5 238.9h0M108.7 246.3h0M119.1 252.9h0M125.2 282.2h0M111.7 267.5h0M124.6 275.7h0M100.6 272.8h0M118.4 297.6h0M125.2 310.2h0M102.5 286.3h0M123.6 276.5h0M118.3 246.9h0M123.5 275.3h0M124.4 273.0h0M120.2 303.3h0M124.6 283.2h0M126.0 302.4h0M115.9 305.0h0M99.2 198.8h0M125.4 283.2h0M102.4 235.8h0M109.5 300.9h0M125.8 287.9h0M110.7 228.9h0M124.6 277.8h0M113.4 263.0h0M123.5 305.1h0M114.7 277.0h0M124.0 283.6h0M124.3 307.4h0M125.5 298.9h0M125.7 281.2h0M104.7 236.8h0M122.2 274.9h0M114.4 296.1h0M119.5 246.5h0M110.4 257.3h0M118.1 266.6h0M108.9 246.2h0M125.2 290.4h0M121.2 309.3h0M123.9 292.8h0M123.7 304.4h0M108.6 289.0h0M117.8 307.7h0M123.7 302.9h0M124.2 278.5h0M109.4 232.5h0M109.7 289.4h0M119.4 277.0h0M117.7 305.0h0M120.6 289.5h0M121.7 261.8h0M106.7 238.2h0M118.2 252.8h0M124.9 283.1h0M124.8 280.1h0M122.9 266.8h0M110.6 234.6h0M98.2 298.3h0M114.2 302.4h0M124.7 285.7h0M122.5 306.4h0M122.4 263.0h0M124.1 277.6h0M102.6 241.9h0M115.5 297.6h0M110.5 268.6h0M124.8 294.0h0M123.8 311.4h0M116.6 302.5h0M125.2 306.4h0M119.9 276.2h0M126.2 301.2h0M101.3 234.0h0M115.0 300.2h0M122.2 263.7h0M88.4 236.7h0M118.1 294.0h0M113.3 256.3h0M112.3 234.9h0M116.9 297.7h0M124.7 282.5h0M115.5 248.7h0M103.4 274.9h0M121.7 296.9h0M125.8 310.3h0M113.5 282.7h0M114.9 291.0h0M119.2 280.0h0M120.4 292.5h0M119.3 294.9h0M123.3 307.3h0M93.8 198.7h0M102.8 235.7h0M111.6 282.5h0M125.2 278.7h0M116.8 269.3h0M98.2 256.8h0M122.4 294.7h0M116.8 297.7h0M118.8 260.7h0M125.7 312.0h0M123.0 306.4h0M107.2 241.6h0M119.1 301.5h0M98.7 293.1h0M115.0 268.6h0M117.1 245.4h0M120.9 281.1h0M116.8 298.7h0M112.7 288.7h0M114.3 294.0h0M109.3 255.9h0M119.5 266.7h0M114.5 230.2h0M123.8 284.2h0M110.6 299.7h0M113.1 290.6h0M120.2 252.0h0M113.0 290.7h0M116.3 257.9h0M122.5 272.1h0M107.2 286.9h0M113.9 278.2h0M124.3 300.2h0M120.6 289.3h0M115.3 232.4h0M125.2 295.2h0M124.8 298.9h0M126.1 290.3h0M124.4 306.8h0M110.7 230.2h0M123.0 271.3h0M120.6 279.3h0M120.0 283.3h0M125.9 302.1h0M95.4 208.3h0M120.4 277.0h0M116.8 244.6h0M122.1 261.9h0M109.4 311.7h0M120.1 278.2h0M115.1 248.6h0M114.5 292.8h0M124.1 295.0h0M106.0 282.4h0M118.6 250.0h0M124.7 295.1h0M125.2 279.9h0M114.2 247.0h0M122.0 282.7h0M124.2 290.7h0M118.7 258.5h0M120.9 298.8h0M116.8 246.5h0M122.9 311.9h0M126.0 299.5h0M113.2 229.3h0M118.6 247.0h0M121.2 275.1h0M119.8 302.2h0M125.7 294.7h0M109.9 292.3h0M117.7 300.1h0M125.7 284.6h0M105.4 245.7h0M119.2 311.5h0M125.7 298.9h0M119.0 285.9h0M125.5 279.1h0M122.4 268.0h0M125.2 292.4h0M119.3 297.1h0M123.1 284.1h0M114.9 295.0h0M103.2 236.8h0M103.0 234.3h0M123.5 307.1h0M114.6 250.3h0M116.9 260.1h0M114.3 246.2h0M122.6 273.8h0M122.2 284.6h0M117.4 280.0h0M123.0 292.4h0M124.9 301.1h0M123.6 288.9h0M124.3 289.8h0M125.2 296.3h0M124.4 287.2h0M122.4 275.9h0M124.3 288.4h0M117.0 267.6h0M123.1 265.5h0M116.6 237.3h0M114.4 301.7h0M125.2 309.0h0M121.2 271.4h0M121.7 302.1h0M92.1 243.7h0M122.0 260.8h0M106.4 308.2h0M124.9 278.2h0M118.9 275.4h0M125.8 294.0h0M106.6 255.4h0M124.5 295.6h0M111.0 257.6h0M104.9 280.6h0M123.6 281.9h0M126.3 291.4h0M126.0 301.3h0M125.8 292.5h0M118.7 243.2h0M125.8 306.2h0M119.3 311.6h0M124.5 279.2h0M112.3 261.8h0M105.4 284.9h0M100.2 268.5h0M106.9 269.8h0M113.0 241.0h0M126.2 285.1h0M115.8 269.3h0M125.6 298.7h0M118.3 300.5h0M118.5 308.6h0M124.8 277.8h0M125.7 285.1h0M114.0 234.0h0M125.7 295.6h0M118.3 275.1h0M116.5 304.0h0M113.8 255.2h0M125.0 310.6h0M123.1 281.6h0M116.0 299.5h0M90.5 199.8h0M114.7 250.9h0M121.3 258.0h0M108.4 290.3h0M125.7 284.4h0M122.7 267.6h0M119.1 257.8h0M123.4 288.7h0M121.6 292.3h0M114.8 308.7h0M116.0 259.2h0M121.4 288.5h0M102.5 269.7h0M109.3 302.6h0M120.1 278.6h0M115.1 245.0h0M126.0 309.9h0M120.9 309.6h0M116.3 289.3h0M123.6 291.8h0M122.0 307.2h0M123.0 295.3h0M106.8 304.3h0M111.7 224.5h0M124.3 287.8h0M125.4 289.5h0M107.5 251.8h0M125.8 291.4h0M125.3 285.8h0M124.6 283.8h0M123.3 288.2h0M125.2 283.5h0M124.4 280.2h0M119.3 276.7h0M125.1 277.6h0M123.9 311.0h0M121.3 311.3h0M122.0 272.7h0M121.2 285.5h0M121.6 258.0h0M101.9 231.5h0M120.7 283.0h0M120.6 290.4h0M125.3 288.1h0M110.3 226.3h0M109.1 282.2h0M126.2 299.1h0M119.9 276.5h0M105.2 250.4h0M120.7 301.0h0M119.3 253.6h0M120.3 263.2h0M123.3 279.9h0M117.6 243.5h0M125.7 295.2h0M108.7 247.3h0M118.4 297.3h0M116.9 262.3h0M119.7 247.4h0M121.9 259.4h0M112.6 294.1h0M113.7 281.0h0M125.1 295.2h0M123.4 303.1h0M123.6 268.3h0M119.0 270.7h0M119.5 297.8h0M116.0 308.4h0M122.0 265.4h0M110.0 283.1h0M115.8 256.9h0M106.1 246.8h0M88.2 275.9h0M124.0 282.4h0M120.2 249.8h0M125.6 292.0h0M75.0 205.9h0M124.3 289.9h0M121.1 269.4h0M117.8 247.2h0M123.5 289.7h0M121.2 298.5h0M121.5 279.9h0M114.4 300.7h0M124.4 294.4h0M123.4 272.7h0M123.1 292.3h0M116.2 235.3h0M98.2 214.7h0M122.1 271.3h0M120.8 255.7h0M120.6 300.6h0M116.9 244.7h0M119.9 284.7h0M106.6 305.2h0M122.9 289.5h0M111.0 244.3h0M119.6 297.4h0M120.3 261.6h0M81.5 258.8h0M122.8 292.1h0M124.7 281.3h0M121.8 257.7h0M115.0 274.0h0M112.0 283.3h0M112.8 235.6h0M123.0 276.7h0M121.9 274.7h0M119.5 305.5h0M125.2 295.8h0M114.8 310.2h0M120.9 275.8h0M124.0 310.3h0M123.7 288.0h0M125.2 277.6h0M121.0 280.6h0M119.1 296.2h0M125.9 285.8h0M125.1 279.8h0M120.3 257.5h0M121.3 305.2h0M108.5 245.4h0M123.4 275.0h0M121.9 263.1h0M124.7 304.8h0M125.8 290.6h0M119.9 310.5h0M102.8 256.3h0M123.5 282.2h0M120.2 271.8h0M122.5 286.9h0M123.9 311.9h0M121.3 265.1h0M121.3 269.3h0M118.9 286.2h0M116.3 271.1h0M125.9 287.6h0M120.6 255.4h0M123.1 288.3h0M113.7 283.4h0M111.8 241.4h0M117.8 248.9h0M123.6 290.5h0M114.6 263.3h0M75.5 206.8h0M115.4 275.9h0M87.4 277.8h0M115.7 267.2h0M125.5 281.7h0M125.4 301.8h0M125.9 288.0h0M122.6 301.6h0M123.9 297.1h0M121.1 292.4h0M125.6 305.4h0M89.7 245.3h0M121.9 278.4h0M109.1 279.3h0M123.6 311.8h0M123.5 291.4h0M106.0 245.2h0M110.3 234.2h0M122.5 278.7h0M102.5 307.9h0M116.4 308.9h0M108.8 221.8h0M124.6 278.8h0M126.1 292.9h0M125.8 304.9h0M115.9 305.4h0M125.6 298.1h0M113.4 246.1h0M100.2 303.0h0M103.3 295.7h0M110.6 285.3h0M114.7 272.0h0M114.6 260.0h0M124.2 281.0h0M122.9 305.6h0M119.7 258.4h0M116.7 282.3h0M122.8 266.8h0M120.9 256.5h0M124.5 297.1h0M112.3 253.2h0M115.3 272.8h0M120.3 253.1h0M126.0 299.8h0M112.3 276.8h0M117.7 311.6h0M122.0 260.6h0M93.9 284.6h0M122.8 290.0h0M122.8 284.1h0M122.8 293.7h0M124.2 310.6h0M125.2 297.7h0M125.0 294.6h0M101.5 282.1h0M121.9 308.2h0M113.6 298.5h0M124.1 307.6h0M124.8 280.5h0M122.4 265.9h0M125.8 294.5h0M126.3 301.1h0M124.6 277.2h0M122.4 309.6h0M126.2 301.1h0M109.4 254.1h0M102.5 269.2h0M113.0 300.1h0M125.8 302.0h0M119.9 256.6h0M121.9 287.0h0M125.3 282.5h0M124.9 293.3h0M118.9 271.7h0M124.0 285.2h0M123.0 295.4h0M122.8 276.9h0M120.4 304.0h0M126.1 293.8h0M114.8 288.1h0M115.9 292.3h0M113.6 298.2h0M123.2 276.7h0M126.1 288.7h0M113.5 270.8h0M120.2 303.7h0M124.7 309.5h0M105.1 267.2h0M122.7 288.5h0M122.9 304.2h0M116.2 272.8h0M105.8 254.5h0M115.7 281.4h0M125.4 299.8h0M126.0 302.2h0M126.2 298.9h0M91.0 246.0h0M112.2 280.3h0M115.8 270.7h0M123.6 292.2h0M115.2 306.4h0M125.6 284.1h0M123.3 265.5h0M126.0 296.1h0M116.6 263.7h0M124.8 291.0h0M121.5 262.5h0M104.0 257.4h0M124.8 298.9h0M113.4 236.3h0M116.8 303.3h0M115.3 247.8h0M119.5 292.7h0M111.9 256.7h0M119.3 286.6h0M101.4 251.5h0M114.2 302.6h0M105.7 250.7h0M125.5 304.5h0M115.8 237.3h0M107.3 238.4h0M122.3 273.4h0M123.1 296.7h0M114.8 268.0h0M121.3 256.6h0M122.9 277.3h0M93.7 265.8h0M119.5 246.6h0M123.1 307.9h0M101.9 264.2h0M120.5 289.0h0M122.0 257.0h0M125.2 299.2h0M116.9 282.7h0M122.9 271.2h0M118.0 292.5h0M123.5 311.5h0M125.9 301.0h0M110.5 257.2h0M99.1 288.4h0M99.6 269.8h0M124.8 274.2h0M115.6 280.0h0M112.0 257.4h0M115.3 249.5h0M118.5 295.4h0M120.6 264.1h0M120.2 273.2h0M119.5 260.1h0M124.1 272.7h0M122.7 265.7h0M121.1 284.0h0M125.4 310.2h0M123.5 295.9h0M114.6 306.8h0M115.7 250.2h0M117.1 308.5h0M114.0 310.3h0M110.1 291.7h0M124.6 295.8h0M107.6 275.9h0M110.5 296.9h0M125.6 284.2h0M121.7 281.6h0M125.6 290.1h0M124.1 308.7h0M124.6 274.4h0M105.0 280.9h0M124.4 272.6h0M123.1 272.2h0M122.4 288.4h0M116.2 277.9h0M124.4 270.9h0M114.5 264.3h0M111.0 301.4h0M121.9 289.1h0M109.4 293.5h0M124.4 307.9h0M107.3 307.8h0M117.1 261.6h0M125.2 296.5h0M122.6 266.1h0M117.4 285.4h0M119.0 251.9h0M123.2 272.4h0M126.3 302.9h0M120.6 284.6h0M124.9 306.8h0M122.1 262.7h0M119.1 268.6h0M123.0 265.8h0M117.8 261.6h0M108.2 278.0h0M126.1 298.3h0M119.7 261.5h0M120.9 257.4h0M121.7 292.2h0M100.1 237.2h0M122.5 288.0h0M121.4 303.6h0M122.0 263.3h0M109.0 271.1h0M105.1 296.8h0M118.3 264.5h0M125.5 291.3h0M125.1 289.1h0M126.1 282.7h0M124.4 286.8h0M111.5 231.8h0M121.3 283.5h0M125.7 302.9h0M125.8 293.8h0M123.4 301.1h0M124.6 308.9h0M124.7 296.2h0M123.9 311.2h0M121.7 271.2h0M118.8 311.0h0M124.9 305.6h0M115.0 303.1h0M109.2 262.8h0M121.6 256.3h0M109.8 253.2h0M123.0 296.7h0M116.2 234.7h0M125.6 296.0h0M124.7 280.9h0M125.5 308.0h0M120.2 283.9h0M122.9 291.3h0M122.6 267.4h0M122.3 285.1h0M123.2 310.9h0M116.2 308.8h0M88.9 209.0h0M120.3 257.0h0M122.8 311.1h0M124.5 290.4h0M119.1 277.6h0M125.7 304.9h0M126.0 283.5h0M100.6 305.5h0M111.6 224.6h0M105.4 285.3h0M114.3 302.8h0M120.0 268.7h0M124.2 305.3h0M120.6 301.3h0M105.8 259.5h0M111.9 269.3h0M125.5 309.4h0M116.1 311.4h0M123.1 292.7h0M122.6 287.7h0M118.1 260.4h0M113.8 290.5h0M119.5 256.7h0M125.0 280.2h0M122.8 297.8h0M125.7 295.2h0M122.5 285.4h0M85.7 234.0h0M124.0 297.2h0M119.1 311.5h0M84.1 195.0h0M117.0 281.4h0M102.2 244.2h0M123.4 272.4h0M122.2 267.7h0M118.0 265.3h0M118.5 262.9h0M119.2 243.8h0M123.0 265.0h0M124.8 279.8h0M69.8 202.0h0M125.8 290.4h0M94.1 280.3h0M119.6 250.5h0M122.2 284.2h0M117.8 310.2h0M121.2 282.3h0M102.8 297.4h0M125.2 287.7h0M115.7 237.7h0M122.2 278.1h0M113.8 280.5h0M123.2 280.7h0M125.8 294.9h0M126.2 290.9h0M111.5 297.0h0M118.9 248.8h0M118.4 256.9h0M120.8 274.2h0M115.5 288.5h0M122.0 272.4h0M111.3 281.7h0M120.5 306.6h0M115.0 252.7h0M124.8 282.5h0M115.4 276.2h0M122.5 265.2h0M117.8 298.1h0M124.9 310.5h0M123.3 299.7h0M114.8 304.2h0M122.1 305.6h0M125.4 278.4h0M120.0 285.9h0M123.9 277.1h0M125.8 293.6h0M114.4 295.1h0M105.6 289.7h0M124.0 289.7h0M114.1 260.3h0M122.8 306.5h0M124.7 291.4h0M103.2 242.2h0M124.2 270.1h0M106.0 218.4h0M124.6 291.4h0M117.5 283.8h0M125.1 276.0h0M87.7 235.6h0M125.8 285.9h0M125.6 299.7h0M126.1 300.5h0M123.1 307.6h0M121.9 302.3h0M109.2 291.8h0M125.7 306.4h0M124.0 302.9h0M103.4 250.0h0M122.5 284.0h0M118.9 255.4h0M124.5 278.9h0M124.3 305.3h0M116.3 304.8h0M119.7 292.3h0M122.9 265.1h0M122.1 304.4h0M124.9 304.2h0M118.0 249.1h0M113.0 230.4h0M125.4 288.1h0M104.2 289.2h0M124.5 299.3h0M125.6 302.1h0M98.5 232.4h0M123.0 268.7h0M99.9 268.2h0M118.2 304.2h0M123.5 298.7h0M122.1 281.9h0M119.8 284.7h0M123.5 285.0h0M121.0 307.8h0M125.8 304.2h0M124.4 297.5h0M124.4 276.0h0M103.0 288.3h0M115.1 246.1h0M125.2 282.2h0M103.9 224.6h0M116.7 270.6h0M125.3 280.3h0M109.6 307.9h0M121.4 279.9h0M115.2 259.7h0M117.9 293.1h0M118.5 251.0h0M116.8 238.8h0M107.6 268.2h0M123.9 299.2h0M126.1 286.4h0M113.2 286.9h0M123.7 273.8h0M125.0 306.4h0M115.7 263.8h0M123.0 288.9h0M117.7 284.6h0M121.9 274.8h0M113.7 295.4h0M123.7 307.5h0M93.3 234.2h0M97.7 226.6h0M121.6 291.7h0M116.7 254.3h0M121.4 295.1h0M107.7 241.1h0M110.8 251.0h0M124.6 291.0h0M122.5 302.4h0M97.3 285.0h0M119.9 268.4h0M125.9 285.6h0M119.8 285.7h0M126.2 302.3h0M120.3 283.6h0M112.6 260.4h0M125.9 280.9h0M121.3 275.1h0M121.4 266.1h0M116.2 239.5h0M117.9 290.4h0M117.7 251.5h0M124.3 304.7h0M107.2 269.2h0M116.4 267.8h0M123.1 276.9h0M124.2 281.7h0M121.5 297.3h0M114.5 239.9h0M121.9 287.5h0M125.7 306.5h0M114.9 242.9h0M125.3 281.5h0M125.4 281.9h0M107.6 235.1h0M124.6 296.0h0M112.9 255.5h0M118.5 301.6h0M126.1 310.7h0M104.7 216.9h0M108.3 224.4h0M123.4 304.4h0M122.7 292.5h0M110.0 264.6h0M122.7 265.9h0M114.8 275.5h0M124.3 311.1h0M121.2 274.1h0M124.8 276.3h0M125.9 298.3h0M115.2 296.5h0M101.4 231.8h0M124.4 285.2h0M123.1 287.4h0M126.2 289.4h0M123.5 277.4h0M93.7 215.4h0M123.2 268.1h0M123.8 304.0h0M120.5 252.5h0M84.8 306.2h0M125.9 295.3h0M119.5 260.4h0M115.0 266.1h0M107.8 251.1h0M103.5 248.7h0M124.0 279.7h0M119.4 277.6h0M116.1 283.6h0M118.9 275.3h0M113.3 253.2h0M115.0 308.9h0M124.9 291.4h0M124.0 289.3h0M121.0 272.2h0M123.9 302.0h0M118.3 299.9h0M123.5 298.7h0M120.8 281.6h0M112.3 297.0h0M117.5 284.4h0M94.1 211.3h0M106.5 229.7h0M114.7 232.6h0M121.1 278.7h0M111.8 260.4h0M118.8 257.2h0M122.6 309.6h0M123.5 302.0h0M122.3 293.1h0M124.5 294.4h0M124.5 278.3h0M119.1 290.0h0M123.3 286.0h0M118.7 282.9h0M124.8 284.0h0M125.5 307.7h0M125.1 303.7h0M125.4 277.7h0M123.5 267.0h0M121.2 302.5h0M116.6 257.8h0M126.0 300.2h0M86.9 236.0h0M104.9 264.7h0M120.7 289.0h0M120.2 280.8h0M119.3 259.3h0M120.0 308.6h0M123.6 286.1h0M124.4 290.3h0M120.9 255.6h0M124.8 308.2h0M109.0 222.6h0M125.7 293.9h0M120.8 294.6h0M107.0 293.5h0M123.3 309.4h0M122.2 289.1h0M111.4 310.1h0M108.1 304.3h0M122.3 300.5h0M122.0 260.7h0M115.4 296.2h0M124.8 302.0h0M122.5 284.8h0M125.9 308.7h0M122.0 284.9h0M124.9 301.2h0M108.1 296.1h0M102.1 231.8h0M124.7 302.8h0M126.2 300.5h0M125.2 304.6h0M123.9 281.8h0M124.5 287.1h0M125.5 290.1h0M115.4 289.0h0M124.7 278.7h0M95.7 293.3h0M123.7 269.3h0M124.7 306.1h0M113.2 242.7h0M123.8 289.7h0M110.6 264.9h0M109.4 277.4h0M106.8 263.0h0M123.5 277.9h0M114.9 247.1h0M125.6 291.7h0M117.4 263.6h0M119.2 250.7h0M123.0 271.2h0M120.1 258.2h0M123.2 296.6h0M120.1 292.0h0M123.6 302.3h0M125.6 298.4h0M114.3 280.1h0M68.7 164.5h0M70.0 173.3h0M68.0 190.0h0M92.8 191.1h0M98.2 198.9h0M66.0 284.4h0M72.7 287.7h0M77.4 278.8h0" stroke="#111" stroke-width="1.85" stroke-linecap="round" fill="none"/>
<path d="M140.4 288.4h0M156.3 308.6h0M144.5 294.7h0M140.8 303.9h0M143.3 290.6h0M141.5 277.7h0M142.9 309.9h0M147.7 291.9h0M151.0 253.0h0M142.2 272.1h0M140.6 286.3h0M143.6 274.8h0M149.4 238.0h0M142.8 267.9h0M140.4 279.5h0M145.4 269.9h0M141.7 297.8h0M141.7 270.9h0M140.8 281.0h0M141.9 299.4h0M155.7 233.2h0M141.3 302.7h0M152.0 270.3h0M146.4 300.2h0M143.0 285.9h0M140.3 308.8h0M152.7 308.5h0M141.0 286.6h0M146.2 262.4h0M146.5 284.9h0M141.9 281.3h0M148.8 263.6h0M143.8 280.4h0M164.7 262.0h0M141.1 277.0h0M141.7 294.0h0M141.1 288.2h0M151.9 279.8h0M142.8 308.2h0M140.7 294.5h0M153.2 243.6h0M143.6 293.2h0M159.2 297.6h0M146.2 286.8h0M156.3 235.0h0M141.7 280.8h0M139.8 301.2h0M160.1 256.8h0M139.8 290.4h0M142.9 288.2h0M142.2 279.8h0M153.5 239.1h0M145.1 302.2h0M143.7 292.9h0M139.9 290.0h0M141.1 296.0h0M153.0 244.5h0M148.5 250.2h0M146.9 294.7h0M152.1 256.5h0M149.8 300.6h0M142.7 311.7h0M140.4 304.1h0M141.6 296.7h0M157.5 266.7h0M148.3 303.6h0M141.1 308.1h0M140.8 283.6h0M147.3 300.8h0M141.9 296.4h0M141.2 282.1h0M147.0 296.4h0M152.0 253.4h0M141.7 309.0h0M146.0 261.2h0M140.8 300.3h0M144.4 267.1h0M140.6 300.9h0M153.5 231.3h0M140.1 305.5h0M148.3 278.9h0M146.7 304.6h0M140.0 298.4h0M143.5 260.2h0M141.0 278.6h0M151.6 230.6h0M140.9 307.5h0M145.0 268.4h0M146.7 310.4h0M141.6 294.3h0M140.3 286.0h0M150.1 272.4h0M159.6 285.5h0M139.9 304.7h0M150.1 268.3h0M141.5 282.4h0M147.1 281.6h0M141.2 289.9h0M149.1 250.0h0M140.2 282.2h0M145.3 256.2h0M152.8 251.4h0M148.0 251.2h0M144.8 257.2h0M144.9 300.1h0M144.5 286.4h0M143.4 298.4h0M142.5 293.1h0M156.8 253.8h0M160.2 230.2h0M140.8 289.2h0M146.4 265.9h0M140.3 282.7h0M174.1 230.5h0M166.6 287.2h0M140.8 284.0h0M141.3 293.6h0M141.3 277.7h0M140.0 300.7h0M145.5 272.7h0M141.3 290.7h0M146.3 307.5h0M158.7 262.6h0M139.7 295.0h0M148.2 311.3h0M143.5 303.1h0M142.7 269.1h0M141.3 285.9h0M143.6 286.3h0M144.3 283.3h0M147.1 245.9h0M143.7 296.7h0M140.6 278.9h0M141.1 279.7h0M142.6 271.0h0M140.3 308.3h0M164.4 265.7h0M158.3 306.0h0M146.9 244.4h0M152.3 258.1h0M144.1 276.7h0M162.9 284.8h0M159.1 275.2h0M143.5 305.1h0M147.6 247.9h0M142.8 291.9h0M144.0 264.7h0M139.7 311.6h0M144.1 305.4h0M159.1 276.6h0M143.9 298.3h0M145.6 308.8h0M141.5 271.6h0M142.2 273.3h0M144.7 254.2h0M140.1 280.5h0M144.6 303.3h0M140.1 284.8h0M161.6 262.5h0M145.2 261.9h0M143.5 277.1h0M145.0 271.5h0M141.9 295.8h0M140.7 294.4h0M142.1 270.1h0M144.5 267.0h0M142.8 286.8h0M147.7 294.8h0M141.8 299.3h0M139.9 297.1h0M140.2 302.9h0M146.2 297.0h0M140.9 307.7h0M166.2 293.5h0M140.3 309.8h0M151.6 276.6h0M143.3 267.1h0M161.4 245.0h0M146.0 258.0h0M158.7 274.9h0M144.1 267.9h0M143.0 307.1h0M149.5 290.7h0M140.5 286.2h0M149.1 237.2h0M142.1 268.1h0M141.8 304.0h0M141.6 310.9h0M153.9 246.7h0M140.2 301.6h0M151.8 260.7h0M145.4 275.0h0M148.8 259.9h0M156.6 235.6h0M141.0 289.6h0M151.3 256.1h0M141.7 303.9h0M189.6 204.3h0M142.1 310.1h0M140.0 292.5h0M145.6 273.6h0M140.3 294.6h0M151.5 270.2h0M148.1 261.7h0M141.7 280.6h0M139.9 307.5h0M143.8 308.1h0M141.2 311.5h0M148.2 305.9h0M146.5 253.7h0M142.9 279.1h0M154.9 232.3h0M141.3 279.9h0M140.1 311.3h0M141.7 298.1h0M157.7 251.7h0M141.0 276.9h0M149.7 286.9h0M165.7 243.3h0M147.3 242.9h0M140.0 306.7h0M140.2 300.5h0M152.8 304.9h0M142.9 306.3h0M153.4 276.8h0M145.2 294.2h0M159.8 286.8h0M143.2 268.0h0M150.1 254.7h0M140.5 303.9h0M148.9 249.4h0M153.7 300.3h0M140.8 289.9h0M162.9 239.7h0M143.6 259.6h0M146.1 251.1h0M145.5 294.5h0M139.7 298.1h0M140.5 297.9h0M148.8 297.0h0M141.6 280.4h0M142.2 279.2h0M139.8 298.3h0M143.8 266.9h0M149.1 265.6h0M157.5 282.9h0M146.8 247.1h0M156.7 237.9h0M141.2 297.8h0M149.5 289.8h0M141.6 300.9h0M141.6 300.5h0M142.2 280.8h0M145.0 254.6h0M144.4 281.0h0M148.1 309.4h0M140.4 309.3h0M142.3 279.8h0M143.3 296.5h0M147.0 284.1h0M140.1 281.9h0M140.0 289.1h0M145.3 303.5h0M157.2 233.5h0M142.0 304.3h0M141.8 270.2h0M147.5 292.4h0M147.0 291.1h0M148.3 300.9h0M146.4 307.5h0M165.0 214.2h0M154.8 282.2h0M149.2 239.6h0M155.7 305.8h0M145.4 283.8h0M146.7 271.0h0M142.1 294.1h0M159.0 297.5h0M147.8 287.2h0M146.2 283.4h0M143.8 293.2h0M165.0 222.2h0M149.2 257.4h0M141.2 273.2h0M146.3 274.9h0M145.8 296.5h0M162.4 273.2h0M146.5 255.0h0M141.2 306.2h0M153.9 276.0h0M152.8 295.2h0M140.1 297.6h0M152.4 268.6h0M156.4 229.3h0M152.3 292.6h0M145.9 292.4h0M142.2 275.1h0M140.7 278.0h0M155.8 298.1h0M148.0 251.8h0M141.2 273.0h0M140.2 297.1h0M156.8 233.0h0M144.8 272.0h0M149.7 250.6h0M146.4 296.9h0M143.3 309.9h0M140.9 282.6h0M147.1 268.2h0M150.1 308.8h0M161.4 254.9h0M158.7 229.0h0M146.1 270.4h0M140.5 307.5h0M145.1 256.9h0M160.7 311.9h0M158.6 274.4h0M143.0 290.6h0M147.7 276.9h0M143.9 298.9h0M142.3 275.9h0M146.4 294.3h0M143.7 267.2h0M154.0 225.9h0M140.9 291.3h0M155.4 233.4h0M145.6 295.6h0M143.3 304.2h0M157.0 261.8h0M146.4 262.4h0M148.1 240.9h0M140.7 286.6h0M146.6 302.5h0M148.7 308.0h0M142.6 309.0h0M148.6 247.7h0M140.3 287.9h0M140.5 287.4h0M141.7 272.8h0M150.8 245.3h0M149.3 237.8h0M141.1 304.1h0M156.9 235.6h0M146.6 293.9h0M143.7 280.2h0M143.8 270.5h0M148.4 238.1h0M141.5 281.4h0M147.6 303.4h0M140.7 303.4h0M145.1 256.7h0M142.1 311.6h0M142.2 292.9h0M142.0 270.5h0M147.3 311.6h0M140.0 286.7h0M147.3 262.2h0M148.5 296.8h0M156.8 226.5h0M141.3 304.1h0M149.0 294.0h0M147.1 288.4h0M151.5 233.3h0M140.4 290.6h0M148.7 246.4h0M155.9 289.4h0M140.7 293.8h0M151.7 265.7h0M162.6 283.9h0M148.3 291.4h0M150.3 302.0h0M144.7 287.0h0M140.7 298.2h0M147.7 267.1h0M149.2 296.5h0M143.7 282.9h0M141.1 291.6h0M144.1 282.3h0M142.0 306.7h0M153.2 284.6h0M143.3 299.3h0M147.3 295.9h0M145.4 298.6h0M141.1 273.9h0M147.1 243.6h0M146.6 271.6h0M153.9 277.9h0M148.1 280.8h0M144.1 304.6h0M147.1 311.4h0M150.5 279.4h0M144.5 297.7h0M148.6 246.2h0M141.8 296.4h0M141.4 285.8h0M148.6 301.3h0M143.6 293.1h0M140.2 295.2h0M155.4 241.5h0M140.6 309.5h0M145.9 275.2h0M152.8 270.6h0M141.0 290.1h0M148.7 237.6h0M154.0 269.2h0M154.4 243.0h0M143.1 288.8h0M146.9 280.7h0M144.6 297.6h0M160.0 251.8h0M139.9 287.8h0M146.1 279.2h0M145.2 268.8h0M163.3 299.9h0M145.9 248.4h0M140.2 302.2h0M142.6 287.9h0M150.1 293.0h0M154.8 280.0h0M143.8 258.5h0M142.2 291.7h0M145.4 292.6h0M141.2 292.9h0M144.9 255.0h0M158.1 246.0h0M164.3 271.3h0M139.8 292.3h0M144.5 283.9h0M144.0 311.3h0M156.1 248.1h0M140.1 310.7h0M146.9 307.1h0M140.2 280.6h0M150.6 271.6h0M143.6 296.8h0M140.2 306.6h0M142.9 270.1h0M145.1 288.7h0M146.2 258.8h0M143.7 263.8h0M140.5 306.5h0M140.5 291.9h0M144.4 291.0h0M151.8 241.8h0M140.1 285.3h0M156.8 283.7h0M141.4 288.4h0M140.4 309.3h0M155.1 255.7h0M154.9 253.4h0M146.1 294.9h0M145.7 274.4h0M141.8 274.7h0M140.9 287.1h0M140.4 305.3h0M148.5 267.4h0M144.1 302.3h0M156.7 236.6h0M147.0 296.2h0M144.6 264.0h0M144.7 291.4h0M142.0 269.2h0M143.3 279.9h0M153.4 239.9h0M140.9 288.7h0M143.6 283.0h0M150.3 286.9h0M146.2 247.7h0M140.1 301.1h0M140.5 305.9h0M142.6 268.6h0M143.2 294.0h0M139.9 283.1h0M141.3 288.2h0M142.4 283.7h0M141.4 306.7h0M140.2 296.7h0M140.2 294.8h0M146.3 302.0h0M140.4 295.6h0M140.5 291.2h0M143.6 311.3h0M140.4 307.0h0M155.6 300.3h0M140.4 311.9h0M157.6 259.0h0M151.3 240.5h0M139.8 302.1h0M142.4 296.2h0M140.1 301.7h0M140.6 277.5h0M155.2 231.8h0M165.9 223.8h0M146.0 249.6h0M141.7 270.2h0M142.2 289.7h0M149.1 296.4h0M141.4 306.6h0M144.3 280.8h0M152.0 304.9h0M140.6 280.7h0M143.7 269.1h0M147.6 255.7h0M157.6 236.8h0M141.6 275.7h0M142.3 282.3h0M142.4 290.7h0M140.9 292.8h0M146.7 247.9h0M145.4 294.9h0M144.1 259.6h0M144.6 297.1h0M144.0 261.8h0M145.0 296.6h0M140.7 300.6h0M141.1 311.3h0M143.7 311.7h0M145.2 302.5h0M142.0 290.9h0M141.3 275.4h0M143.1 267.5h0M145.1 287.4h0M152.4 293.2h0M145.1 292.8h0M149.9 253.1h0M153.5 298.1h0M144.6 270.7h0M142.9 271.0h0M140.0 308.7h0M141.3 291.5h0M145.1 294.1h0M143.4 309.9h0M149.0 277.5h0M140.6 283.0h0M142.0 271.8h0M143.9 297.0h0M146.7 262.9h0M144.8 256.5h0M141.7 293.5h0M148.8 272.5h0M142.0 301.9h0M157.1 305.6h0M145.6 278.5h0M140.5 310.9h0M146.6 265.0h0M144.5 281.4h0M150.1 263.7h0M145.5 285.6h0M140.2 299.0h0M158.8 297.8h0M140.3 288.5h0M141.8 307.9h0M152.7 235.5h0M165.7 294.1h0M140.6 307.3h0M157.6 269.6h0M140.7 298.0h0M148.2 267.9h0M163.0 217.5h0M144.5 298.4h0M147.6 263.7h0M140.2 295.6h0M142.4 291.5h0M139.8 304.6h0M143.1 274.9h0M142.8 277.9h0M145.7 296.6h0M150.0 310.1h0M141.9 285.7h0M139.7 294.8h0M140.9 278.5h0M140.4 302.7h0M147.1 249.4h0M140.5 298.9h0M145.4 253.1h0M146.7 279.0h0M144.9 275.6h0M143.0 273.9h0M149.8 269.7h0M160.4 238.8h0M156.9 225.0h0M141.3 273.3h0M143.0 271.2h0M140.3 297.4h0M152.4 295.0h0M143.0 299.7h0M142.1 282.2h0M146.9 280.4h0M159.5 284.6h0M145.0 257.2h0M141.9 287.6h0M146.8 258.6h0M145.6 307.7h0M157.4 304.8h0M143.4 308.0h0M149.3 238.9h0M155.1 307.5h0M140.9 303.6h0M147.2 301.7h0M145.1 299.6h0M154.1 276.2h0M155.3 233.6h0M143.4 273.0h0M141.5 301.5h0M142.3 286.7h0M140.4 279.6h0M140.8 277.1h0M152.8 288.6h0M142.8 269.5h0M140.9 299.1h0M141.5 309.0h0M142.9 263.9h0M150.4 244.5h0M146.9 266.5h0M149.8 247.8h0M141.6 308.7h0M144.4 267.7h0M153.5 298.2h0M143.4 265.6h0M140.4 287.4h0M158.7 264.0h0M153.6 260.5h0M140.6 290.3h0M151.2 234.1h0M145.4 293.8h0M151.1 272.9h0M149.0 280.5h0M141.3 300.2h0M139.8 295.3h0M143.7 273.2h0M141.6 303.8h0M141.5 289.5h0M140.0 297.2h0M143.6 263.7h0M143.9 267.7h0M141.9 299.3h0M147.5 267.7h0M140.3 294.4h0M176.9 229.3h0M141.3 289.1h0M144.6 293.0h0M149.7 238.4h0M140.7 282.0h0M151.1 290.5h0M147.7 282.6h0M141.4 292.4h0M153.5 284.5h0M140.6 307.5h0M148.1 265.4h0M146.9 247.7h0M143.0 308.7h0M160.7 278.1h0M150.4 293.0h0M150.4 263.7h0M143.0 286.7h0M160.4 253.4h0M140.2 291.5h0M146.4 255.7h0M140.2 304.6h0M142.1 303.8h0M140.2 292.5h0M141.4 293.9h0M150.3 291.0h0M152.8 234.1h0M157.1 272.5h0M147.1 287.8h0M144.3 309.1h0M158.8 301.2h0M144.9 256.5h0M151.9 306.5h0M141.6 291.5h0M151.7 238.4h0M144.1 277.9h0M146.4 303.1h0M140.1 282.5h0M150.3 274.9h0M143.4 269.9h0M144.3 307.8h0M151.6 241.3h0M141.3 275.7h0M140.5 297.3h0M148.6 307.9h0M142.9 279.6h0M143.0 264.8h0M140.2 290.5h0M141.8 310.5h0M143.6 274.8h0M142.3 269.0h0M157.2 272.3h0M150.3 311.7h0M140.7 292.9h0M140.8 301.2h0M149.6 306.1h0M163.0 287.5h0M142.9 292.0h0M149.3 271.9h0M144.1 312.0h0M143.0 302.9h0M142.1 295.0h0M140.7 292.9h0M143.5 272.1h0M139.8 298.7h0M148.5 260.4h0M143.2 286.4h0M141.4 310.3h0M143.1 265.0h0M140.3 292.5h0M163.5 304.9h0M146.8 310.1h0M153.4 256.3h0M161.2 242.0h0M148.6 281.3h0M166.5 256.9h0M156.4 237.7h0M140.1 294.8h0M140.6 284.1h0M139.9 302.8h0M143.2 292.2h0M155.1 271.4h0M142.1 271.9h0M143.9 283.8h0M141.4 286.8h0M147.5 276.4h0M141.3 288.0h0M155.7 238.0h0M141.8 290.2h0M141.6 286.5h0M144.7 279.0h0M161.9 311.6h0M141.3 295.6h0M140.5 281.2h0M160.5 305.8h0M151.1 258.6h0M140.2 312.1h0M157.6 227.3h0M142.5 299.6h0M150.0 235.3h0M146.4 284.5h0M141.1 310.5h0M144.8 296.2h0M140.1 293.6h0M142.0 292.4h0M146.5 248.5h0M146.8 286.6h0M140.3 300.0h0M143.0 291.5h0M150.9 271.6h0M139.8 302.6h0M143.1 263.4h0M152.2 263.9h0M150.5 239.9h0M153.4 246.8h0M144.7 267.0h0M142.9 275.1h0M157.5 308.2h0M159.3 310.4h0M152.2 248.3h0M140.3 308.5h0M140.7 298.3h0M149.0 293.2h0M141.1 274.8h0M149.7 296.2h0M144.5 257.0h0M154.7 277.2h0M142.1 278.3h0M152.8 242.7h0M156.9 255.9h0M142.2 274.8h0M149.7 243.6h0M141.5 297.5h0M140.4 279.7h0M155.9 297.8h0M142.7 295.8h0M156.1 285.3h0M144.5 268.9h0M152.2 307.2h0M146.9 289.3h0M143.2 307.2h0M140.5 289.8h0M145.7 276.9h0M140.3 302.9h0M144.8 282.1h0M142.8 306.0h0M159.3 241.8h0M156.6 286.2h0M151.2 293.0h0M142.5 307.0h0M140.6 285.6h0M151.2 241.7h0M140.8 296.2h0M143.2 308.7h0M144.1 260.6h0M148.0 247.8h0M148.4 255.7h0M142.7 269.4h0M146.8 256.5h0M147.8 279.4h0M140.3 303.2h0M140.4 281.1h0M143.1 278.7h0M140.1 281.1h0M142.7 295.9h0M139.7 292.3h0M151.5 286.8h0M153.7 288.2h0M152.6 273.9h0M140.1 290.8h0M140.1 291.5h0M148.9 304.5h0M141.5 291.0h0M142.6 299.1h0M165.5 202.0h0M142.2 285.7h0M157.5 239.0h0M148.3 262.4h0M140.7 284.3h0M142.8 287.6h0M141.5 309.6h0M146.8 295.4h0M158.4 250.8h0M144.6 298.5h0M145.9 271.3h0M149.5 265.7h0M142.5 282.6h0M154.5 298.0h0M140.7 291.7h0M147.7 273.5h0M142.6 311.6h0M140.9 279.6h0M153.3 300.0h0M167.5 301.2h0M146.6 302.2h0M142.1 311.1h0M140.7 297.1h0M146.9 268.5h0M156.0 311.8h0M154.9 286.2h0M142.6 306.1h0M149.4 274.8h0M141.3 309.7h0M149.4 278.9h0M144.4 290.1h0M153.7 281.2h0M146.2 301.1h0M140.3 291.7h0M174.2 290.6h0M144.6 298.4h0M156.9 283.7h0M142.3 291.9h0M140.8 282.1h0M142.4 311.3h0M159.9 276.5h0M154.5 237.0h0M155.9 255.0h0M157.3 296.4h0M141.0 290.8h0M146.0 285.3h0M140.1 285.5h0M141.6 301.1h0M139.8 306.5h0M144.8 272.1h0M140.5 283.1h0M140.5 308.0h0M144.3 275.8h0M152.7 296.6h0M151.8 243.5h0M142.9 289.6h0M140.1 289.7h0M142.9 291.1h0M143.1 266.0h0M140.3 286.8h0M159.6 253.4h0M143.2 306.8h0M154.0 270.0h0M156.4 300.6h0M145.1 276.8h0M141.5 294.3h0M141.3 297.8h0M140.2 287.3h0M141.7 302.8h0M141.7 275.5h0M142.1 306.6h0M154.9 281.0h0M160.5 261.4h0M143.6 274.7h0M140.8 277.7h0M143.1 297.2h0M146.4 251.2h0M145.4 265.0h0M144.4 278.1h0M144.3 286.2h0M149.4 272.1h0M145.0 260.2h0M157.6 236.5h0M147.1 285.3h0M146.3 287.0h0M141.6 299.1h0M141.8 275.2h0M141.1 296.1h0M139.9 291.2h0M140.0 296.6h0M142.7 299.0h0M140.9 277.4h0M147.8 254.1h0M145.1 272.1h0M154.7 311.8h0M147.7 271.3h0M140.1 281.7h0M145.1 260.6h0M163.0 288.2h0M143.2 271.7h0M142.8 264.4h0M140.3 291.3h0M156.0 296.8h0M154.9 255.2h0M142.8 278.1h0M146.5 269.1h0M146.7 274.1h0M147.9 253.1h0M141.3 295.1h0M149.5 297.6h0M140.3 285.5h0M139.8 304.8h0M171.2 209.8h0M143.1 268.6h0M149.8 287.7h0M141.4 290.9h0M164.4 249.2h0M148.0 283.5h0M142.9 281.6h0M140.4 307.8h0M151.3 307.5h0M157.9 273.2h0M156.0 236.4h0M141.7 281.6h0M144.3 265.5h0M139.8 287.2h0M153.1 242.2h0M141.0 278.0h0M145.9 273.9h0M150.1 247.8h0M140.3 290.4h0M144.3 294.4h0M149.1 247.5h0M143.9 282.7h0M148.5 271.2h0M155.7 298.9h0M140.7 286.1h0M146.2 261.9h0M140.4 282.5h0M140.0 308.8h0M141.5 295.5h0M140.3 286.5h0M140.5 300.2h0M147.7 276.9h0M145.6 311.6h0M141.8 269.7h0M140.6 279.9h0M147.4 306.4h0M149.3 287.3h0M143.9 277.0h0M145.5 310.1h0M143.9 293.3h0M148.3 271.1h0M150.1 244.0h0M142.2 269.6h0M148.5 305.2h0M164.0 254.5h0M145.7 258.8h0M144.8 294.4h0M145.9 276.6h0M149.9 273.8h0M146.3 298.3h0M140.2 310.7h0M151.7 273.5h0M142.3 270.1h0M141.9 307.7h0M147.7 298.7h0M140.2 281.2h0M143.9 291.3h0M140.2 301.3h0M147.9 239.6h0M147.9 279.6h0M145.5 284.2h0M144.0 308.7h0M158.0 275.5h0M141.1 300.3h0M141.9 282.4h0M140.3 300.7h0M143.9 293.0h0M142.6 311.4h0M143.5 267.9h0M147.6 257.5h0M151.5 262.4h0M146.4 268.6h0M141.4 278.4h0M141.5 309.2h0M140.4 302.2h0M149.7 256.6h0M150.1 260.6h0M151.6 266.4h0M140.4 298.8h0M149.2 299.2h0M141.3 309.6h0M154.8 277.7h0M139.8 303.2h0M143.7 304.2h0M147.1 244.6h0M140.9 285.3h0M140.5 293.0h0M144.6 268.7h0M143.4 262.7h0M158.6 255.8h0M142.1 277.0h0M149.0 307.5h0M142.1 268.0h0M142.4 275.9h0M144.1 264.9h0M140.6 289.1h0M146.8 287.8h0M151.9 247.7h0M141.2 277.3h0M142.5 302.7h0M139.9 309.1h0M141.2 303.6h0M143.1 263.2h0M139.7 292.4h0M142.4 286.5h0M155.0 238.4h0M146.2 251.6h0M143.2 298.9h0M145.1 298.8h0M147.4 259.5h0M143.1 268.3h0M150.1 310.1h0M142.5 277.4h0M139.9 288.2h0M147.6 290.1h0M149.7 304.5h0M143.0 265.8h0M145.1 283.3h0M148.0 242.9h0M146.8 301.0h0M147.1 306.2h0M148.2 292.8h0M143.3 273.0h0M151.9 256.5h0M155.4 295.6h0M144.4 290.0h0M145.1 280.0h0M152.4 262.2h0M145.8 280.6h0M139.8 286.4h0M141.8 305.8h0M150.8 243.5h0M157.6 262.9h0M152.1 280.4h0M152.2 282.5h0M149.0 283.3h0M144.2 283.0h0M141.6 284.1h0M143.7 282.6h0M140.8 308.3h0M147.4 245.1h0M154.5 246.8h0M151.3 253.1h0M175.4 308.7h0M140.3 300.5h0M148.9 266.9h0M144.2 275.0h0M152.3 284.3h0M140.1 292.6h0M140.2 307.0h0M142.5 274.5h0M141.9 308.6h0M149.7 234.7h0M142.9 311.9h0M159.6 304.4h0M143.5 259.9h0M145.2 266.5h0M158.6 299.8h0M141.0 302.9h0M141.5 301.5h0M163.3 230.1h0M157.3 307.9h0M146.5 289.4h0M140.4 285.1h0M149.2 254.7h0M142.7 301.4h0M143.4 302.7h0M141.5 298.8h0M150.3 299.3h0M155.9 245.9h0M150.4 260.5h0M154.6 287.6h0M143.4 307.1h0M142.9 275.9h0M141.4 307.5h0M146.2 257.9h0M140.5 280.0h0M140.4 307.5h0M144.9 259.0h0M151.0 302.1h0M144.9 276.4h0M157.5 276.2h0M139.8 284.9h0M159.6 241.2h0M195.9 266.4h0M143.9 279.2h0M140.7 298.9h0M152.8 238.7h0M140.2 290.5h0M146.7 302.7h0M146.4 294.5h0M153.0 296.2h0M148.8 271.6h0M147.6 309.4h0M148.4 265.3h0M142.7 274.0h0M161.3 296.4h0M143.2 306.2h0M153.1 281.1h0M141.2 300.2h0M146.5 286.4h0M144.1 307.3h0M140.2 283.2h0M143.9 275.4h0M140.9 293.6h0M145.3 276.9h0M141.0 310.3h0M143.3 285.6h0M155.5 294.9h0M149.2 275.4h0M155.5 269.3h0M154.8 243.5h0M140.7 311.2h0M177.5 291.6h0M166.1 286.2h0M146.5 287.4h0M157.1 233.2h0M146.8 267.2h0M151.6 243.2h0M151.3 292.7h0M168.4 230.3h0M144.1 281.4h0M155.5 241.8h0M150.0 257.3h0M143.6 290.0h0M139.7 305.2h0M140.5 280.1h0M153.2 232.2h0M148.8 247.2h0M151.0 249.4h0M150.9 305.1h0M140.2 301.7h0M146.6 267.9h0M150.5 297.3h0M146.9 244.0h0M141.9 272.7h0M143.7 287.4h0M142.1 300.8h0M150.1 232.8h0M139.8 284.9h0M145.1 270.4h0M139.8 311.7h0M148.2 289.4h0M140.2 307.7h0M140.9 308.3h0M142.5 277.7h0M144.8 267.1h0M145.4 260.0h0M140.4 296.5h0M164.4 241.3h0M141.3 310.5h0M145.1 284.4h0M141.1 295.1h0M147.1 278.7h0M154.9 235.6h0M146.9 283.7h0M149.8 265.1h0M142.7 293.7h0M147.4 242.8h0M143.5 287.7h0M141.2 302.5h0M146.0 280.7h0M141.0 304.2h0M149.5 294.1h0M162.6 219.9h0M145.4 291.8h0M142.9 302.4h0M143.6 259.6h0M148.5 310.5h0M147.9 279.4h0M143.4 277.8h0M143.7 271.2h0M139.9 295.1h0M145.2 275.8h0M144.5 288.9h0M147.5 304.8h0M159.7 283.4h0M144.5 282.5h0M140.0 305.1h0M148.8 256.8h0M143.7 279.0h0M187.7 299.9h0M155.6 271.2h0M146.5 272.8h0M151.8 249.1h0M142.4 298.6h0M148.6 287.7h0M146.8 265.0h0M160.0 310.1h0M140.5 296.4h0M140.1 294.7h0M139.8 293.9h0M141.8 285.1h0M140.8 293.9h0M144.5 257.6h0M141.1 277.2h0M142.3 303.1h0M143.3 269.0h0M143.5 273.0h0M153.9 282.0h0M189.8 311.9h0M143.3 290.2h0M145.4 281.8h0M140.4 301.7h0M147.7 254.8h0M141.1 291.5h0M149.5 301.9h0M157.6 242.3h0M151.9 232.0h0M140.8 277.6h0M141.4 304.1h0M160.6 227.1h0M144.3 302.4h0M148.4 238.9h0M161.7 308.5h0M144.4 258.8h0M144.8 310.0h0M147.5 245.1h0M150.9 288.3h0M140.8 311.7h0M144.8 292.5h0M143.4 295.4h0M150.8 253.7h0M149.3 244.6h0M140.9 284.4h0M141.6 282.3h0M141.4 277.5h0M144.6 292.0h0M149.0 246.2h0M143.0 273.5h0M140.5 279.9h0M140.9 278.8h0M148.8 291.9h0M142.8 301.6h0M153.0 253.8h0M139.9 302.0h0M140.6 279.1h0M150.8 262.2h0M164.8 291.6h0M142.7 274.5h0M142.4 279.1h0M144.5 257.9h0M148.7 276.2h0M143.4 285.0h0M140.5 306.8h0M152.2 233.7h0M145.7 303.1h0M154.5 263.7h0M141.3 287.4h0M141.7 284.8h0M167.8 209.0h0M142.6 271.1h0M139.8 292.5h0M161.6 226.3h0M146.6 280.3h0M146.9 273.9h0M152.1 279.7h0M145.4 272.1h0M142.2 293.7h0M155.8 308.9h0M139.9 303.7h0M148.7 269.5h0M140.9 286.8h0M140.9 288.2h0M140.0 291.7h0M144.1 310.4h0M143.4 297.7h0M142.3 271.5h0M157.6 247.5h0M142.1 276.7h0M143.8 300.3h0M153.1 255.3h0M147.0 274.8h0M143.6 290.5h0M146.9 290.2h0M144.2 283.8h0M141.1 300.8h0M166.8 218.2h0M141.2 286.7h0M150.8 234.9h0M144.5 311.8h0M156.0 243.6h0M142.7 270.5h0M149.7 311.6h0M156.7 233.1h0M148.7 279.1h0M152.8 255.1h0M142.6 281.1h0M145.6 285.7h0M146.3 309.9h0M139.9 283.7h0M140.3 296.6h0M154.5 287.0h0M139.8 293.6h0M147.4 302.7h0M140.2 299.1h0M141.2 299.3h0M151.0 302.2h0M153.3 300.1h0M153.8 228.5h0M144.9 285.6h0M141.1 299.8h0M163.2 261.2h0M152.7 261.4h0M149.8 245.2h0M144.0 282.3h0M144.4 291.3h0M140.5 297.1h0M141.3 277.4h0M144.1 259.4h0M148.5 270.3h0M142.0 288.1h0M162.5 242.2h0M156.2 263.2h0M143.7 271.4h0M141.4 309.2h0M146.3 275.5h0M142.1 297.7h0M142.6 303.5h0M143.8 266.7h0M141.7 270.7h0M144.9 267.2h0M159.7 253.5h0M141.7 293.9h0M140.8 284.6h0M140.9 289.2h0M143.9 288.4h0M143.2 306.7h0M140.7 295.4h0M140.1 308.1h0M145.7 301.9h0M142.7 267.8h0M150.0 265.4h0M140.7 311.9h0M146.6 263.5h0M143.0 288.6h0M148.4 285.0h0M152.9 255.7h0M160.3 242.7h0M155.0 292.7h0M148.2 288.6h0M146.5 245.5h0M156.1 307.5h0M142.1 291.7h0M139.9 286.3h0M144.0 300.7h0M145.7 306.4h0M140.1 282.1h0M157.0 276.6h0M148.2 283.4h0M150.6 257.6h0M152.5 242.7h0M160.9 218.0h0M158.6 304.6h0M142.3 305.8h0M144.2 269.0h0M154.4 298.9h0M142.3 304.5h0M140.6 301.8h0M142.4 298.1h0M153.1 281.3h0M140.4 285.9h0M142.1 287.4h0M141.6 285.8h0M141.2 306.5h0M141.9 294.8h0M150.0 298.4h0M140.3 300.1h0M143.8 275.3h0M145.8 287.3h0M139.8 310.7h0M154.7 279.5h0M139.8 301.5h0M145.8 305.9h0M142.8 275.3h0M143.5 261.2h0M140.2 308.3h0M154.1 241.3h0M155.0 306.0h0M140.6 278.0h0M172.8 193.0h0M140.4 291.7h0M147.6 262.5h0M160.7 287.9h0M157.4 293.2h0M141.1 305.0h0M153.2 266.7h0M146.3 289.9h0M161.0 267.6h0M169.9 230.2h0M142.9 293.1h0M149.3 283.2h0M141.0 298.8h0M140.3 287.6h0M144.9 256.9h0M141.5 276.8h0M152.4 262.5h0M156.5 298.1h0M143.5 279.9h0M141.4 301.2h0M149.2 258.3h0M141.8 311.4h0M144.4 305.1h0M141.4 306.6h0M143.3 262.6h0M148.1 310.7h0M140.6 291.9h0M140.1 290.8h0M148.8 257.4h0M140.9 282.6h0M143.7 281.4h0M141.8 304.2h0M144.3 266.8h0M142.5 287.7h0M142.3 277.9h0M143.4 300.2h0M152.5 288.3h0M139.7 285.2h0M142.0 287.9h0M151.2 245.0h0M141.8 270.4h0M150.9 264.6h0M143.0 281.3h0M141.0 309.2h0M159.3 220.5h0M150.5 266.3h0M148.4 299.6h0M150.4 257.0h0M144.1 288.4h0M140.5 294.8h0M141.7 311.6h0M145.4 298.1h0M150.8 264.7h0M141.4 273.4h0M140.4 284.0h0M140.3 288.0h0M154.9 230.6h0M149.9 248.7h0M140.6 309.8h0M146.7 306.4h0M151.0 251.1h0M141.3 295.3h0M152.5 311.5h0M143.6 284.0h0M141.2 296.8h0M155.2 310.0h0M149.1 241.8h0M142.9 270.0h0M140.3 310.6h0M151.0 283.3h0M147.1 304.8h0M139.8 309.2h0M145.8 310.6h0M144.6 271.2h0M150.0 303.5h0M148.0 295.0h0M142.3 283.4h0M146.4 279.0h0M148.6 281.4h0M141.1 300.1h0M161.1 284.3h0M140.3 306.3h0M140.0 303.9h0M147.7 262.5h0M150.6 310.9h0M146.6 288.9h0M140.5 299.2h0M141.7 271.5h0M152.2 311.5h0M154.2 232.0h0M140.7 282.4h0M149.8 285.2h0M142.1 291.5h0M152.9 245.5h0M198.3 180.5h0M171.9 190.0h0M197.3 193.6h0M183.2 210.0h0M194.0 213.8h0M164.5 214.4h0M155.8 216.6h0M198.7 225.1h0M184.6 230.0h0M194.6 233.1h0M179.9 252.2h0M202.0 271.0h0M210.7 285.5h0" stroke="#3f57a8" stroke-width="1.85" stroke-linecap="round" fill="none"/>
<line x1="47" y1="159.5" x2="47" y2="367" stroke="#777" stroke-width="1.1"/>
<line x1="46.5" y1="366.5" x2="228" y2="366.5" stroke="#777" stroke-width="1.1"/>
<text x="44.6" y="193.2" font-size="8.8" text-anchor="end" fill="#222" stroke="#222">7.5</text>
<text x="44.6" y="248.7" font-size="8.8" text-anchor="end" fill="#222" stroke="#222">5.0</text>
<text x="44.6" y="304.2" font-size="8.8" text-anchor="end" fill="#222" stroke="#222">2.5</text>
<text x="44.6" y="359.7" font-size="8.8" text-anchor="end" fill="#222" stroke="#222">0.0</text>
<text x="65.10000000000001" y="376.8" font-size="9.2" text-anchor="middle" fill="#222" stroke="#222">−10</text>
<text x="98.60000000000001" y="376.8" font-size="9.2" text-anchor="middle" fill="#222" stroke="#222">−5</text>
<text x="133.4" y="376.8" font-size="9.2" text-anchor="middle" fill="#222" stroke="#222">0</text>
<text x="166.9" y="376.8" font-size="9.2" text-anchor="middle" fill="#222" stroke="#222">5</text>
<text x="200.4" y="376.8" font-size="9.2" text-anchor="middle" fill="#222" stroke="#222">10</text>
<text x="135" y="389.6" font-size="9.1" text-anchor="middle" fill="#222" stroke="#222" letter-spacing="-0.25">Log<tspan font-size="6.8" dy="2.3">2</tspan><tspan dy="-2.3"> fold change</tspan></text>
<text x="95.3" y="170.6" font-size="9" text-anchor="middle" fill="#111" stroke="#111" letter-spacing="-0.35">1,394</text>
<text x="157" y="170.6" font-size="9" text-anchor="middle" fill="#4a63b0" stroke="#4a63b0" letter-spacing="-0.35">1,384</text>
<text transform="translate(11.3 272.7) rotate(-90)" font-size="9.1" text-anchor="middle" fill="#222" stroke="#222">Phosphoproteomics in SET2 cells</text>
<text transform="translate(25.7 267.8) rotate(-90)" font-size="9.3" text-anchor="middle" fill="#222" stroke="#222">−Log<tspan font-size="6.3" dy="2">10</tspan><tspan dy="-2"> (</tspan><tspan font-style="italic">P</tspan> value)</text>
<rect x="200.5" y="308" width="64" height="46" fill="#fff"/>
<text x="203.7" y="320.5" font-size="9.2" fill="#111" stroke="#111" letter-spacing="-0.3">Phosphosites</text>
<circle cx="205.3" cy="331.5" r="2" fill="#111"/>
<text x="211" y="334.6" font-size="8.8" fill="#111" stroke="#111" letter-spacing="-0.3">Up in JAKi-S</text>
<circle cx="205.3" cy="340" r="2" fill="#3f57a8"/>
<text x="211" y="343.1" font-size="8.8" fill="#111" stroke="#111" letter-spacing="-0.3">Up in JAKi-R</text>
<circle cx="205.3" cy="348.2" r="2" fill="#8c8c8c"/>
<text x="211" y="351.3" font-size="8.8" fill="#111" stroke="#111" letter-spacing="-0.3">Nonsignificant</text>
</g>
<g id="panelD">
<text x="284" y="167.4" font-size="16.2" font-weight="bold" stroke="#000">D</text>
<rect x="353.5" y="158.5" width="110.0" height="207.5" fill="#fff"/>
<line x1="376.75" y1="158.5" x2="376.75" y2="366" stroke="#eeeeee" stroke-width="0.6"/>
<line x1="400.25" y1="158.5" x2="400.25" y2="366" stroke="#eeeeee" stroke-width="0.6"/>
<line x1="423.75" y1="158.5" x2="423.75" y2="366" stroke="#eeeeee" stroke-width="0.6"/>
<line x1="447.25" y1="158.5" x2="447.25" y2="366" stroke="#eeeeee" stroke-width="0.6"/>
<line x1="365.0" y1="158.5" x2="365.0" y2="366" stroke="#e4e4e4" stroke-width="0.8"/>
<line x1="388.5" y1="158.5" x2="388.5" y2="366" stroke="#e4e4e4" stroke-width="0.8"/>
<line x1="412.0" y1="158.5" x2="412.0" y2="366" stroke="#e4e4e4" stroke-width="0.8"/>
<line x1="435.5" y1="158.5" x2="435.5" y2="366" stroke="#e4e4e4" stroke-width="0.8"/>
<line x1="459.0" y1="158.5" x2="459.0" y2="366" stroke="#e4e4e4" stroke-width="0.8"/>
<line x1="353.5" y1="167.0" x2="463.5" y2="167.0" stroke="#e4e4e4" stroke-width="0.8"/>
<line x1="353.5" y1="180.72" x2="463.5" y2="180.72" stroke="#e4e4e4" stroke-width="0.8"/>
<line x1="353.5" y1="194.44" x2="463.5" y2="194.44" stroke="#e4e4e4" stroke-width="0.8"/>
<line x1="353.5" y1="208.16" x2="463.5" y2="208.16" stroke="#e4e4e4" stroke-width="0.8"/>
<line x1="353.5" y1="221.88" x2="463.5" y2="221.88" stroke="#e4e4e4" stroke-width="0.8"/>
<line x1="353.5" y1="235.6" x2="463.5" y2="235.6" stroke="#e4e4e4" stroke-width="0.8"/>
<line x1="353.5" y1="249.32" x2="463.5" y2="249.32" stroke="#e4e4e4" stroke-width="0.8"/>
<line x1="353.5" y1="263.04" x2="463.5" y2="263.04" stroke="#e4e4e4" stroke-width="0.8"/>
<line x1="353.5" y1="276.76" x2="463.5" y2="276.76" stroke="#e4e4e4" stroke-width="0.8"/>
<line x1="353.5" y1="290.48" x2="463.5" y2="290.48" stroke="#e4e4e4" stroke-width="0.8"/>
<line x1="353.5" y1="304.2" x2="463.5" y2="304.2" stroke="#e4e4e4" stroke-width="0.8"/>
<line x1="353.5" y1="317.92" x2="463.5" y2="317.92" stroke="#e4e4e4" stroke-width="0.8"/>
<line x1="353.5" y1="331.64" x2="463.5" y2="331.64" stroke="#e4e4e4" stroke-width="0.8"/>
<line x1="353.5" y1="345.36" x2="463.5" y2="345.36" stroke="#e4e4e4" stroke-width="0.8"/>
<line x1="353.5" y1="359.08" x2="463.5" y2="359.08" stroke="#e4e4e4" stroke-width="0.8"/>
<rect x="353.5" y="158.5" width="110.0" height="207.5" fill="none" stroke="#6e6e6e" stroke-width="0.9"/>
<line x1="351.3" y1="167.0" x2="353.5" y2="167.0" stroke="#444" stroke-width="0.8"/>
<text x="350.8" y="170.3" font-size="9.35" text-anchor="end" fill="#4d4d4d" stroke="#4d4d4d">MAPK</text>
<line x1="351.3" y1="180.72" x2="353.5" y2="180.72" stroke="#444" stroke-width="0.8"/>
<text x="350.8" y="184.02" font-size="9.35" text-anchor="end" fill="#4d4d4d" stroke="#4d4d4d">ATM</text>
<line x1="351.3" y1="194.44" x2="353.5" y2="194.44" stroke="#444" stroke-width="0.8"/>
<text x="350.8" y="197.74" font-size="9.35" text-anchor="end" fill="#4d4d4d" stroke="#4d4d4d">VDR</text>
<line x1="351.3" y1="208.16" x2="353.5" y2="208.16" stroke="#444" stroke-width="0.8"/>
<text x="350.8" y="211.46" font-size="9.35" text-anchor="end" fill="#4d4d4d" stroke="#4d4d4d">GPCR</text>
<line x1="351.3" y1="221.88" x2="353.5" y2="221.88" stroke="#444" stroke-width="0.8"/>
<text x="350.8" y="225.18" font-size="9.35" text-anchor="end" fill="#4d4d4d" stroke="#4d4d4d">AGPCR</text>
<line x1="351.3" y1="235.6" x2="353.5" y2="235.6" stroke="#444" stroke-width="0.8"/>
<text x="350.8" y="238.9" font-size="9.35" text-anchor="end" fill="#4d4d4d" stroke="#4d4d4d">IGF1R</text>
<line x1="351.3" y1="249.32" x2="353.5" y2="249.32" stroke="#444" stroke-width="0.8"/>
<text x="350.8" y="252.62" font-size="9.35" text-anchor="end" fill="#4d4d4d" stroke="#4d4d4d">RB</text>
<line x1="351.3" y1="263.04" x2="353.5" y2="263.04" stroke="#444" stroke-width="0.8"/>
<text x="350.8" y="266.34" font-size="9.35" text-anchor="end" fill="#4d4d4d" stroke="#4d4d4d">MET</text>
<line x1="351.3" y1="276.76" x2="353.5" y2="276.76" stroke="#444" stroke-width="0.8"/>
<text x="350.8" y="280.06" font-size="9.35" text-anchor="end" fill="#4d4d4d" stroke="#4d4d4d">SHH</text>
<line x1="351.3" y1="290.48" x2="353.5" y2="290.48" stroke="#444" stroke-width="0.8"/>
<text x="350.8" y="293.78" font-size="9.35" text-anchor="end" fill="#4d4d4d" stroke="#4d4d4d">NO1</text>
<line x1="351.3" y1="304.2" x2="353.5" y2="304.2" stroke="#444" stroke-width="0.8"/>
<text x="350.8" y="307.5" font-size="9.35" text-anchor="end" fill="#4d4d4d" stroke="#4d4d4d">MCM</text>
<line x1="351.3" y1="317.92" x2="353.5" y2="317.92" stroke="#444" stroke-width="0.8"/>
<text x="350.8" y="321.22" font-size="9.35" text-anchor="end" fill="#4d4d4d" stroke="#4d4d4d">PPARA</text>
<line x1="351.3" y1="331.64" x2="353.5" y2="331.64" stroke="#444" stroke-width="0.8"/>
<text x="350.8" y="334.94" font-size="9.35" text-anchor="end" fill="#4d4d4d" stroke="#4d4d4d">NOS1</text>
<line x1="351.3" y1="345.36" x2="353.5" y2="345.36" stroke="#444" stroke-width="0.8"/>
<text x="350.8" y="348.66" font-size="9.35" text-anchor="end" fill="#4d4d4d" stroke="#4d4d4d">CELLCYCLE</text>
<line x1="351.3" y1="359.08" x2="353.5" y2="359.08" stroke="#444" stroke-width="0.8"/>
<text x="350.8" y="362.38" font-size="9.35" text-anchor="end" fill="#4d4d4d" stroke="#4d4d4d">BIOPEPTIDES</text>
<line x1="365.0" y1="366" x2="365.0" y2="368.2" stroke="#444" stroke-width="0.8"/>
<text x="365.0" y="376.3" font-size="9.2" text-anchor="middle" fill="#4d4d4d" stroke="#4d4d4d">3</text>
<line x1="388.5" y1="366" x2="388.5" y2="368.2" stroke="#444" stroke-width="0.8"/>
<text x="388.5" y="376.3" font-size="9.2" text-anchor="middle" fill="#4d4d4d" stroke="#4d4d4d">4</text>
<line x1="412.0" y1="366" x2="412.0" y2="368.2" stroke="#444" stroke-width="0.8"/>
<text x="412.0" y="376.3" font-size="9.2" text-anchor="middle" fill="#4d4d4d" stroke="#4d4d4d">5</text>
<line x1="435.5" y1="366" x2="435.5" y2="368.2" stroke="#444" stroke-width="0.8"/>
<text x="435.5" y="376.3" font-size="9.2" text-anchor="middle" fill="#4d4d4d" stroke="#4d4d4d">6</text>
<line x1="459.0" y1="366" x2="459.0" y2="368.2" stroke="#444" stroke-width="0.8"/>
<text x="459.0" y="376.3" font-size="9.2" text-anchor="middle" fill="#4d4d4d" stroke="#4d4d4d">7</text>
<text x="411.7" y="389" font-size="9" text-anchor="middle" fill="#111" stroke="#111">Fold enrichment</text>
<text x="307.3" y="241.7" font-size="9.4" text-anchor="middle" fill="#4d4d4d" stroke="#4d4d4d" transform="rotate(-90 307.3 241.7)">BIOCARTA PATHWAYS</text>
<circle cx="367" cy="166.8" r="3.3" fill="#e3151c"/>
<circle cx="402.5" cy="180.52" r="1.5" fill="#d43a38"/>
<circle cx="412" cy="194.24" r="2.0" fill="#e2463f"/>
<circle cx="388.5" cy="207.96" r="2.6" fill="#ea7f78"/>
<circle cx="458" cy="221.68" r="1.3" fill="#f0a59d"/>
<circle cx="417.5" cy="235.4" r="2.5" fill="#f3a79f"/>
<circle cx="433" cy="249.12" r="0.8" fill="#e8cfcb"/>
<circle cx="387.5" cy="262.84" r="2.4" fill="#f6d3ce"/>
<circle cx="407" cy="276.56" r="1.5" fill="#f8d5d1"/>
<circle cx="358" cy="290.28" r="1.5" fill="#f9dcd8"/>
<circle cx="452" cy="304.0" r="2.1" fill="#f9e0dc"/>
<circle cx="383" cy="317.72" r="3.0" fill="#f9dcd6"/>
<circle cx="383" cy="358.88" r="1.0" fill="#fbecea"/>
<text x="471" y="213" font-size="8.6" stroke="#000" letter-spacing="-0.55"># Phospho.</text>
<text x="476.5" y="219.8" font-size="8.6" stroke="#000" letter-spacing="-0.4">sites</text>
<circle cx="475.3" cy="225.5" r="1.5" fill="#000"/>
<text x="481" y="228.7" font-size="8.8" stroke="#000">10</text>
<circle cx="475.3" cy="233" r="2.0" fill="#000"/>
<text x="481" y="236.2" font-size="8.8" stroke="#000">15</text>
<circle cx="475.3" cy="240.7" r="2.55" fill="#000"/>
<text x="481" y="243.89999999999998" font-size="8.8" stroke="#000">20</text>
<circle cx="475.3" cy="249" r="3.2" fill="#000"/>
<text x="481" y="252.2" font-size="8.8" stroke="#000">25</text>
<text x="470.5" y="268" font-size="8.8" letter-spacing="-0.3" stroke="#000">−log<tspan font-size="6.3" dy="2">10</tspan><tspan dy="-2"> (</tspan><tspan font-style="italic">P</tspan>)</text>
<defs><linearGradient id="cg" x1="0" y1="0" x2="0" y2="1"><stop offset="0" stop-color="#e8291c"/><stop offset="0.5" stop-color="#f4988c"/><stop offset="1" stop-color="#fdeeeb"/></linearGradient></defs>
<rect x="471" y="272" width="7.5" height="37.5" fill="url(#cg)"/>
<text x="482" y="278.7" font-size="8.8" stroke="#000">14</text>
<text x="482" y="291.7" font-size="8.8" stroke="#000">12</text>
<text x="482" y="304.7" font-size="8.8" stroke="#000">10</text>
</g>
<g id="pE">
<text x="3.5" y="407.3" font-size="16.2" font-weight="bold" stroke="#000">E</text>
<text x="110.5" y="413" font-size="8.6" text-anchor="middle" stroke="#000">JAKi-S</text>
<line x1="74.5" y1="415.5" x2="140.3" y2="415.5" stroke="#444" stroke-width="0.8"/>
<text x="169.3" y="413" font-size="8.6" text-anchor="middle" stroke="#000">JAKi-r</text>
<line x1="144.8" y1="415.5" x2="210.6" y2="415.5" stroke="#444" stroke-width="0.8"/>
<text x="2" y="425" font-size="8.6" stroke="#000">CHZ868 (μmol/L)</text>
<text x="81.5" y="425.4" font-size="8.7" text-anchor="middle" stroke="#000">0</text>
<text x="97.3" y="425.4" font-size="8.7" text-anchor="middle" stroke="#000">0.25</text>
<text x="117" y="425.4" font-size="8.7" text-anchor="middle" stroke="#000">0.5</text>
<text x="132.9" y="425.4" font-size="8.7" text-anchor="middle" stroke="#000">1</text>
<text x="148.3" y="425.4" font-size="8.7" text-anchor="middle" stroke="#000">0</text>
<text x="164.2" y="425.4" font-size="8.7" text-anchor="middle" stroke="#000">0.25</text>
<text x="183.4" y="425.4" font-size="8.7" text-anchor="middle" stroke="#000">0.5</text>
<text x="200.2" y="425.4" font-size="8.7" text-anchor="middle" stroke="#000">1</text>
<text x="31" y="440.8" font-size="8.8" stroke="#000">pJAK2</text>
<clipPath id="pEc0"><rect x="70.5" y="430.4" width="141.0" height="16.900000000000034"/></clipPath>
<rect x="70.5" y="430.4" width="141.0" height="16.900000000000034" fill="#d4d4d4"/>
<g clip-path="url(#pEc0)"><g filter="url(#bl)">
<rect x="76.4" y="436.84" width="13.6" height="3.0" rx="1.2" fill="#000" opacity="0.95"/>
<rect x="93.0" y="437.84" width="13.6" height="3.0" rx="1.2" fill="#000" opacity="0.32"/>
<rect x="109.6" y="437.64" width="13.6" height="3.0" rx="1.2" fill="#000" opacity="0.3"/>
<rect x="126.2" y="437.84" width="13.6" height="3.0" rx="1.2" fill="#000" opacity="0.28"/>
<rect x="142.8" y="436.84" width="13.6" height="3.0" rx="1.2" fill="#000" opacity="0.85"/>
<rect x="159.4" y="437.34" width="13.6" height="3.0" rx="1.2" fill="#000" opacity="0.3"/>
<rect x="176.0" y="437.64" width="13.6" height="3.0" rx="1.2" fill="#000" opacity="0.22"/>
<rect x="192.6" y="437.64" width="13.6" height="3.0" rx="1.2" fill="#000" opacity="0.22"/>
</g></g>
<rect x="70.5" y="430.4" width="141.0" height="16.900000000000034" fill="none" stroke="#666" stroke-width="0.75"/>
<text x="31" y="460.45" font-size="8.8" stroke="#000">JAK2</text>
<clipPath id="pEc1"><rect x="70.5" y="449.3" width="141.0" height="16.0"/></clipPath>
<rect x="70.5" y="449.3" width="141.0" height="16.0" fill="#e0e0e0"/>
<g clip-path="url(#pEc1)"><g filter="url(#bl)">
<rect x="75.9" y="456.32" width="14.6" height="2.6" rx="1.2" fill="#000" opacity="0.85"/>
<rect x="92.5" y="456.82" width="14.6" height="2.6" rx="1.2" fill="#000" opacity="0.75"/>
<rect x="109.1" y="456.32" width="14.6" height="2.6" rx="1.2" fill="#000" opacity="0.85"/>
<rect x="125.7" y="456.82" width="14.6" height="2.6" rx="1.2" fill="#000" opacity="0.9"/>
<rect x="142.3" y="456.32" width="14.6" height="2.6" rx="1.2" fill="#000" opacity="0.75"/>
<rect x="158.9" y="456.32" width="14.6" height="2.6" rx="1.2" fill="#000" opacity="0.8"/>
<rect x="175.5" y="456.32" width="14.6" height="2.6" rx="1.2" fill="#000" opacity="0.8"/>
<rect x="192.1" y="456.32" width="14.6" height="2.6" rx="1.2" fill="#000" opacity="0.8"/>
</g></g>
<rect x="70.5" y="449.3" width="141.0" height="16.0" fill="none" stroke="#666" stroke-width="0.75"/>
<text x="31" y="480.3" font-size="8.8" stroke="#000">pSTAT3</text>
<clipPath id="pEc2"><rect x="70.5" y="467.8" width="141.0" height="18.69999999999999"/></clipPath>
<rect x="70.5" y="467.8" width="141.0" height="18.69999999999999" fill="#ececec"/>
<g clip-path="url(#pEc2)"><g filter="url(#bl)">
<rect x="76.4" y="474.45" width="13.6" height="2.4" rx="1.2" fill="#000" opacity="0.95"/>
<rect x="93.0" y="474.45" width="13.6" height="2.4" rx="1.2" fill="#000" opacity="0.35"/>
<rect x="109.6" y="474.45" width="13.6" height="2.4" rx="1.2" fill="#000" opacity="0.12"/>
<rect x="126.2" y="474.45" width="13.6" height="2.4" rx="1.2" fill="#000" opacity="0.04"/>
<rect x="142.8" y="474.45" width="13.6" height="2.4" rx="1.2" fill="#000" opacity="0.95"/>
<rect x="159.4" y="474.45" width="13.6" height="2.4" rx="1.2" fill="#000" opacity="0.45"/>
<rect x="176.0" y="474.45" width="13.6" height="2.4" rx="1.2" fill="#000" opacity="0.16"/>
<rect x="192.6" y="474.45" width="13.6" height="2.4" rx="1.2" fill="#000" opacity="0.06"/>
<rect x="76.4" y="478.57" width="13.6" height="2.4" rx="1.2" fill="#000" opacity="0.95"/>
<rect x="93.0" y="478.57" width="13.6" height="2.4" rx="1.2" fill="#000" opacity="0.4"/>
<rect x="109.6" y="478.57" width="13.6" height="2.4" rx="1.2" fill="#000" opacity="0.14"/>
<rect x="126.2" y="478.57" width="13.6" height="2.4" rx="1.2" fill="#000" opacity="0.05"/>
<rect x="142.8" y="478.57" width="13.6" height="2.4" rx="1.2" fill="#000" opacity="0.95"/>
<rect x="159.4" y="478.57" width="13.6" height="2.4" rx="1.2" fill="#000" opacity="0.55"/>
<rect x="176.0" y="478.57" width="13.6" height="2.4" rx="1.2" fill="#000" opacity="0.2"/>
<rect x="192.6" y="478.57" width="13.6" height="2.4" rx="1.2" fill="#000" opacity="0.07"/>
</g></g>
<rect x="70.5" y="467.8" width="141.0" height="18.69999999999999" fill="none" stroke="#666" stroke-width="0.75"/>
<text x="31" y="499.7" font-size="8.8" stroke="#000">STAT3</text>
<clipPath id="pEc3"><rect x="70.5" y="488.8" width="141.0" height="15.5"/></clipPath>
<rect x="70.5" y="488.8" width="141.0" height="15.5" fill="#cdcdcd"/>
<g clip-path="url(#pEc3)"><g filter="url(#bl)">
<rect x="76.1" y="494.19" width="14.2" height="3.8" rx="1.2" fill="#000" opacity="0.8"/>
<rect x="92.7" y="494.19" width="14.2" height="3.8" rx="1.2" fill="#000" opacity="0.74"/>
<rect x="109.3" y="494.19" width="14.2" height="3.8" rx="1.2" fill="#000" opacity="0.76"/>
<rect x="125.9" y="494.19" width="14.2" height="3.8" rx="1.2" fill="#000" opacity="0.76"/>
<rect x="142.5" y="494.19" width="14.2" height="3.8" rx="1.2" fill="#000" opacity="0.76"/>
<rect x="159.1" y="494.19" width="14.2" height="3.8" rx="1.2" fill="#000" opacity="0.8"/>
<rect x="175.7" y="494.19" width="14.2" height="3.8" rx="1.2" fill="#000" opacity="0.8"/>
<rect x="192.3" y="494.19" width="14.2" height="3.8" rx="1.2" fill="#000" opacity="0.9"/>
<rect x="76.1" y="499.17" width="14.2" height="2.2" rx="1.1" fill="#000" opacity="0.28"/>
<rect x="92.7" y="499.17" width="14.2" height="2.2" rx="1.1" fill="#000" opacity="0.28"/>
<rect x="109.3" y="499.17" width="14.2" height="2.2" rx="1.1" fill="#000" opacity="0.28"/>
<rect x="125.9" y="499.17" width="14.2" height="2.2" rx="1.1" fill="#000" opacity="0.28"/>
<rect x="142.5" y="499.17" width="14.2" height="2.2" rx="1.1" fill="#000" opacity="0.28"/>
<rect x="159.1" y="499.17" width="14.2" height="2.2" rx="1.1" fill="#000" opacity="0.28"/>
<rect x="175.7" y="499.17" width="14.2" height="2.2" rx="1.1" fill="#000" opacity="0.28"/>
<rect x="192.3" y="499.17" width="14.2" height="2.2" rx="1.1" fill="#000" opacity="0.28"/>
</g></g>
<rect x="70.5" y="488.8" width="141.0" height="15.5" fill="none" stroke="#666" stroke-width="0.75"/>
<text x="31" y="518.75" font-size="8.8" stroke="#000">pSTAT5</text>
<clipPath id="pEc4"><rect x="70.5" y="507.0" width="141.0" height="16.600000000000023"/></clipPath>
<rect x="70.5" y="507.0" width="141.0" height="16.600000000000023" fill="#d1d1d1"/>
<g clip-path="url(#pEc4)"><g filter="url(#bl)">
<rect x="76.4" y="513.10" width="13.6" height="3.4" rx="1.2" fill="#000" opacity="0.97"/>
<rect x="93.0" y="513.10" width="13.6" height="3.4" rx="1.2" fill="#000" opacity="0.3"/>
<rect x="109.6" y="513.10" width="13.6" height="3.4" rx="1.2" fill="#000" opacity="0.12"/>
<rect x="126.2" y="513.10" width="13.6" height="3.4" rx="1.2" fill="#000" opacity="0.03"/>
<rect x="142.8" y="513.10" width="13.6" height="3.4" rx="1.2" fill="#000" opacity="0.65"/>
<rect x="159.4" y="513.10" width="13.6" height="3.4" rx="1.2" fill="#000" opacity="0.28"/>
<rect x="176.0" y="513.10" width="13.6" height="3.4" rx="1.2" fill="#000" opacity="0.12"/>
<ellipse cx="71" cy="519" rx="2.3" ry="3.8" fill="#000"/>
<rect x="78" y="517.5" width="9" height="3" fill="#000" opacity="0.35"/>
</g></g>
<rect x="70.5" y="507.0" width="141.0" height="16.600000000000023" fill="none" stroke="#666" stroke-width="0.75"/>
<text x="31" y="538.3" font-size="8.8" stroke="#000">STAT5</text>
<clipPath id="pEc5"><rect x="70.5" y="525.6" width="141.0" height="18.5"/></clipPath>
<rect x="70.5" y="525.6" width="141.0" height="18.5" fill="#e1e1e1"/>
<g clip-path="url(#pEc5)"><g filter="url(#bl)">
<rect x="75.9" y="532.95" width="14.6" height="3.8" rx="1.2" fill="#000" opacity="0.9"/>
<rect x="92.5" y="533.55" width="14.6" height="3.8" rx="1.2" fill="#000" opacity="0.85"/>
<rect x="109.1" y="533.75" width="14.6" height="3.8" rx="1.2" fill="#000" opacity="0.9"/>
<rect x="125.7" y="533.55" width="14.6" height="3.8" rx="1.2" fill="#000" opacity="0.85"/>
<rect x="142.3" y="533.25" width="14.6" height="3.8" rx="1.2" fill="#000" opacity="0.85"/>
<rect x="158.9" y="533.25" width="14.6" height="3.8" rx="1.2" fill="#000" opacity="0.85"/>
<rect x="175.5" y="533.45" width="14.6" height="3.8" rx="1.2" fill="#000" opacity="0.85"/>
<rect x="192.1" y="533.25" width="14.6" height="3.8" rx="1.2" fill="#000" opacity="0.85"/>
</g></g>
<rect x="70.5" y="525.6" width="141.0" height="18.5" fill="none" stroke="#666" stroke-width="0.75"/>
<text x="31" y="558.8" font-size="8.8" stroke="#000">pMEK1/2</text>
<clipPath id="pEc6"><rect x="70.5" y="546.7" width="141.0" height="17.0"/></clipPath>
<rect x="70.5" y="546.7" width="141.0" height="17.0" fill="#dddddd"/>
<g clip-path="url(#pEc6)"><g filter="url(#bl)">
<rect x="76.4" y="553.36" width="13.6" height="3.0" rx="1.2" fill="#000" opacity="0.8"/>
<rect x="93.0" y="554.36" width="13.6" height="3.0" rx="1.2" fill="#000" opacity="0.35"/>
<rect x="109.6" y="555.16" width="13.6" height="3.0" rx="1.2" fill="#000" opacity="0.12"/>
<rect x="126.2" y="554.36" width="13.6" height="3.0" rx="1.2" fill="#000" opacity="0.3"/>
<rect x="142.0" y="552.50" width="15.2" height="5.4" rx="1.2" fill="#000" opacity="1.0"/>
<rect x="158.9" y="553.40" width="14.6" height="4.2" rx="1.2" fill="#000" opacity="0.97"/>
<rect x="175.5" y="553.10" width="14.6" height="4.2" rx="1.2" fill="#000" opacity="0.97"/>
<rect x="192.3" y="552.99" width="14.2" height="3.4" rx="1.2" fill="#000" opacity="0.9"/>
</g></g>
<rect x="70.5" y="546.7" width="141.0" height="17.0" fill="none" stroke="#666" stroke-width="0.75"/>
<text x="31" y="577.25" font-size="8.8" stroke="#000">MEK1/2</text>
<clipPath id="pEc7"><rect x="70.5" y="566.1" width="141.0" height="16.0"/></clipPath>
<rect x="70.5" y="566.1" width="141.0" height="16.0" fill="#d6d6d6"/>
<g clip-path="url(#pEc7)"><g filter="url(#bl)">
<rect x="76.0" y="572.50" width="14.4" height="3.2" rx="1.2" fill="#000" opacity="0.95"/>
<rect x="92.6" y="573.10" width="14.4" height="3.2" rx="1.2" fill="#000" opacity="0.85"/>
<rect x="109.2" y="573.10" width="14.4" height="3.2" rx="1.2" fill="#000" opacity="0.88"/>
<rect x="125.8" y="573.10" width="14.4" height="3.2" rx="1.2" fill="#000" opacity="0.8"/>
<rect x="142.4" y="572.90" width="14.4" height="3.2" rx="1.2" fill="#000" opacity="0.9"/>
<rect x="159.0" y="572.90" width="14.4" height="3.2" rx="1.2" fill="#000" opacity="0.9"/>
<rect x="175.6" y="572.80" width="14.4" height="3.2" rx="1.2" fill="#000" opacity="0.85"/>
<rect x="192.2" y="572.50" width="14.4" height="3.2" rx="1.2" fill="#000" opacity="0.9"/>
</g></g>
<rect x="70.5" y="566.1" width="141.0" height="16.0" fill="none" stroke="#666" stroke-width="0.75"/>
<text x="31" y="596.2" font-size="8.8" stroke="#000">pERK1/2</text>
<clipPath id="pEc8"><rect x="70.5" y="584.6" width="141.0" height="17.799999999999955"/></clipPath>
<rect x="70.5" y="584.6" width="141.0" height="17.799999999999955" fill="#e8e8e8"/>
<g clip-path="url(#pEc8)"><g filter="url(#bl)">
<rect x="76.4" y="589.76" width="13.6" height="2.5" rx="1.2" fill="#000" opacity="0.9"/>
<rect x="93.0" y="590.76" width="13.6" height="2.5" rx="1.2" fill="#000" opacity="0.1"/>
<rect x="109.6" y="590.76" width="13.6" height="2.5" rx="1.2" fill="#000" opacity="0.05"/>
<rect x="126.2" y="590.76" width="13.6" height="2.5" rx="1.2" fill="#000" opacity="0.05"/>
<rect x="142.8" y="589.76" width="13.6" height="2.5" rx="1.2" fill="#000" opacity="0.9"/>
<rect x="159.4" y="589.76" width="13.6" height="2.5" rx="1.2" fill="#000" opacity="0.85"/>
<rect x="176.0" y="589.46" width="13.6" height="2.5" rx="1.2" fill="#000" opacity="0.8"/>
<rect x="192.6" y="589.16" width="13.6" height="2.5" rx="1.2" fill="#000" opacity="0.75"/>
<rect x="76.4" y="593.78" width="13.6" height="3.0" rx="1.2" fill="#000" opacity="0.97"/>
<rect x="93.0" y="594.78" width="13.6" height="3.0" rx="1.2" fill="#000" opacity="0.18"/>
<rect x="109.6" y="594.78" width="13.6" height="3.0" rx="1.2" fill="#000" opacity="0.08"/>
<rect x="126.2" y="594.78" width="13.6" height="3.0" rx="1.2" fill="#000" opacity="0.08"/>
<rect x="142.8" y="593.78" width="13.6" height="3.0" rx="1.2" fill="#000" opacity="0.97"/>
<rect x="159.4" y="593.78" width="13.6" height="3.0" rx="1.2" fill="#000" opacity="0.92"/>
<rect x="176.0" y="593.48" width="13.6" height="3.0" rx="1.2" fill="#000" opacity="0.9"/>
<rect x="192.6" y="593.18" width="13.6" height="3.0" rx="1.2" fill="#000" opacity="0.85"/>
</g></g>
<rect x="70.5" y="584.6" width="141.0" height="17.799999999999955" fill="none" stroke="#666" stroke-width="0.75"/>
<text x="31" y="616.2" font-size="8.8" stroke="#000">ERK1/2</text>
<clipPath id="pEc9"><rect x="70.5" y="605.1" width="141.0" height="16.5"/></clipPath>
<rect x="70.5" y="605.1" width="141.0" height="16.5" fill="#dadada"/>
<g clip-path="url(#pEc9)"><g filter="url(#bl)">
<rect x="76.4" y="609.81" width="13.6" height="1.8" rx="0.9" fill="#000" opacity="0.35"/>
<rect x="93.0" y="610.41" width="13.6" height="1.8" rx="0.9" fill="#000" opacity="0.3"/>
<rect x="109.6" y="610.41" width="13.6" height="1.8" rx="0.9" fill="#000" opacity="0.3"/>
<rect x="126.2" y="610.41" width="13.6" height="1.8" rx="0.9" fill="#000" opacity="0.3"/>
<rect x="142.8" y="610.11" width="13.6" height="1.8" rx="0.9" fill="#000" opacity="0.25"/>
<rect x="159.4" y="610.11" width="13.6" height="1.8" rx="0.9" fill="#000" opacity="0.25"/>
<rect x="176.0" y="610.11" width="13.6" height="1.8" rx="0.9" fill="#000" opacity="0.25"/>
<rect x="192.6" y="609.81" width="13.6" height="1.8" rx="0.9" fill="#000" opacity="0.3"/>
<rect x="75.9" y="613.93" width="14.6" height="2.8" rx="1.2" fill="#000" opacity="0.95"/>
<rect x="92.5" y="614.53" width="14.6" height="2.8" rx="1.2" fill="#000" opacity="0.9"/>
<rect x="109.1" y="614.53" width="14.6" height="2.8" rx="1.2" fill="#000" opacity="0.9"/>
<rect x="125.7" y="614.53" width="14.6" height="2.8" rx="1.2" fill="#000" opacity="0.9"/>
<rect x="142.3" y="614.23" width="14.6" height="2.8" rx="1.2" fill="#000" opacity="0.9"/>
<rect x="158.9" y="614.23" width="14.6" height="2.8" rx="1.2" fill="#000" opacity="0.9"/>
<rect x="175.5" y="614.23" width="14.6" height="2.8" rx="1.2" fill="#000" opacity="0.9"/>
<rect x="192.1" y="613.93" width="14.6" height="2.8" rx="1.2" fill="#000" opacity="0.9"/>
</g></g>
<rect x="70.5" y="605.1" width="141.0" height="16.5" fill="none" stroke="#666" stroke-width="0.75"/>
<text x="31" y="636.2" font-size="8.8" stroke="#000">Actin</text>
<clipPath id="pEc10"><rect x="70.5" y="624.1" width="141.0" height="16.399999999999977"/></clipPath>
<rect x="70.5" y="624.1" width="141.0" height="16.399999999999977" fill="#e2e2e2"/>
<g clip-path="url(#pEc10)"><g filter="url(#bl)">
<rect x="76.0" y="631.00" width="14.5" height="2.6" rx="1.2" fill="#000" opacity="0.9"/>
<rect x="92.6" y="631.60" width="14.5" height="2.6" rx="1.2" fill="#000" opacity="0.8"/>
<rect x="109.2" y="631.60" width="14.5" height="2.6" rx="1.2" fill="#000" opacity="0.8"/>
<rect x="125.8" y="631.60" width="14.5" height="2.6" rx="1.2" fill="#000" opacity="0.9"/>
<rect x="142.4" y="631.40" width="14.5" height="2.6" rx="1.2" fill="#000" opacity="0.9"/>
<rect x="158.9" y="631.40" width="14.5" height="2.6" rx="1.2" fill="#000" opacity="0.9"/>
<rect x="175.6" y="631.30" width="14.5" height="2.6" rx="1.2" fill="#000" opacity="0.9"/>
<rect x="192.2" y="631.00" width="14.5" height="2.6" rx="1.2" fill="#000" opacity="0.85"/>
</g></g>
<rect x="70.5" y="624.1" width="141.0" height="16.399999999999977" fill="none" stroke="#666" stroke-width="0.75"/>
<text x="31" y="653.75" font-size="8.8" stroke="#000">GAPDH</text>
<clipPath id="pEc11"><rect x="70.5" y="642.9" width="141.0" height="14.5"/></clipPath>
<rect x="70.5" y="642.9" width="141.0" height="14.5" fill="#c1c1c1"/>
<g clip-path="url(#pEc11)"><g filter="url(#bl)">
<rect x="76.4" y="649.05" width="13.6" height="2.2" rx="1.1" fill="#000" opacity="0.7"/>
<rect x="93.0" y="649.45" width="13.6" height="2.2" rx="1.1" fill="#000" opacity="0.7"/>
<rect x="109.6" y="649.85" width="13.6" height="2.2" rx="1.1" fill="#000" opacity="0.75"/>
<rect x="126.2" y="649.45" width="13.6" height="2.2" rx="1.1" fill="#000" opacity="0.7"/>
<rect x="142.8" y="649.05" width="13.6" height="2.2" rx="1.1" fill="#000" opacity="0.65"/>
<rect x="159.4" y="649.45" width="13.6" height="2.2" rx="1.1" fill="#000" opacity="0.7"/>
<rect x="176.0" y="649.25" width="13.6" height="2.2" rx="1.1" fill="#000" opacity="0.7"/>
<rect x="192.6" y="649.05" width="13.6" height="2.2" rx="1.1" fill="#000" opacity="0.7"/>
</g></g>
<rect x="70.5" y="642.9" width="141.0" height="14.5" fill="none" stroke="#666" stroke-width="0.75"/>
<text x="141.4" y="668.5" font-size="8.8" text-anchor="middle" stroke="#000">SET2</text>
</g>
<g id="pF">
<text x="230.5" y="407.3" font-size="16.2" font-weight="bold" stroke="#000">F</text>
<text x="335.2" y="413" font-size="8.6" text-anchor="middle" stroke="#000">JAKi-S</text>
<line x1="300.8" y1="415.5" x2="366" y2="415.5" stroke="#444" stroke-width="0.8"/>
<text x="401.4" y="413" font-size="8.6" text-anchor="middle" stroke="#000">JAKi-R</text>
<line x1="370.6" y1="415.5" x2="437" y2="415.5" stroke="#444" stroke-width="0.8"/>
<text x="229.3" y="425" font-size="8.6" stroke="#000">CHZ868 (μmol/L)</text>
<text x="309" y="425.4" font-size="8.7" text-anchor="middle" stroke="#000">0</text>
<text x="326" y="425.4" font-size="8.7" text-anchor="middle" stroke="#000">0.25</text>
<text x="346" y="425.4" font-size="8.7" text-anchor="middle" stroke="#000">0.5</text>
<text x="361" y="425.4" font-size="8.7" text-anchor="middle" stroke="#000">1</text>
<text x="376.2" y="425.4" font-size="8.7" text-anchor="middle" stroke="#000">0</text>
<text x="393" y="425.4" font-size="8.7" text-anchor="middle" stroke="#000">0.25</text>
<text x="412.5" y="425.4" font-size="8.7" text-anchor="middle" stroke="#000">0.5</text>
<text x="427.5" y="425.4" font-size="8.7" text-anchor="middle" stroke="#000">1</text>
<text x="256" y="441.0" font-size="8.8" stroke="#000">pJAK2</text>
<clipPath id="pFc0"><rect x="295.5" y="431.2" width="147.5" height="14.100000000000023"/></clipPath>
<rect x="295.5" y="431.2" width="147.5" height="14.100000000000023" fill="#cbcbcb"/>
<g clip-path="url(#pFc0)"><g filter="url(#bl)">
<rect x="301.6" y="435.26" width="13.9" height="2.6" rx="1.2" fill="#000" opacity="0.95"/>
<rect x="318.6" y="436.26" width="13.9" height="2.6" rx="1.2" fill="#000" opacity="0.45"/>
<rect x="335.6" y="436.46" width="13.9" height="2.6" rx="1.2" fill="#000" opacity="0.15"/>
<rect x="352.6" y="436.46" width="13.9" height="2.6" rx="1.2" fill="#000" opacity="0.06"/>
<rect x="369.6" y="435.26" width="13.9" height="2.6" rx="1.2" fill="#000" opacity="0.85"/>
<rect x="386.6" y="435.76" width="13.9" height="2.6" rx="1.2" fill="#000" opacity="0.3"/>
<rect x="403.6" y="436.06" width="13.9" height="2.6" rx="1.2" fill="#000" opacity="0.12"/>
<rect x="420.6" y="436.06" width="13.9" height="2.6" rx="1.2" fill="#000" opacity="0.03"/>
</g></g>
<rect x="295.5" y="431.2" width="147.5" height="14.100000000000023" fill="none" stroke="#666" stroke-width="0.75"/>
<text x="256" y="459.85" font-size="8.8" stroke="#000">JAK2</text>
<clipPath id="pFc1"><rect x="295.5" y="447.3" width="147.5" height="18.0"/></clipPath>
<rect x="295.5" y="447.3" width="147.5" height="18.0" fill="#e5e5e5"/>
<g clip-path="url(#pFc1)"><g filter="url(#bl)">
<rect x="301.6" y="455.00" width="13.9" height="2.6" rx="1.2" fill="#000" opacity="0.95"/>
<rect x="318.6" y="456.80" width="13.9" height="2.6" rx="1.2" fill="#000" opacity="0.9"/>
<rect x="335.6" y="456.90" width="13.9" height="2.6" rx="1.2" fill="#000" opacity="0.9"/>
<rect x="352.6" y="456.50" width="13.9" height="2.6" rx="1.2" fill="#000" opacity="0.9"/>
<rect x="369.6" y="455.90" width="13.9" height="2.6" rx="1.2" fill="#000" opacity="0.9"/>
<rect x="386.6" y="455.90" width="13.9" height="2.6" rx="1.2" fill="#000" opacity="0.9"/>
<rect x="403.6" y="455.90" width="13.9" height="2.6" rx="1.2" fill="#000" opacity="0.85"/>
<rect x="420.6" y="455.30" width="13.9" height="2.6" rx="1.2" fill="#000" opacity="0.9"/>
</g></g>
<rect x="295.5" y="447.3" width="147.5" height="18.0" fill="none" stroke="#666" stroke-width="0.75"/>
<text x="256" y="479.4" font-size="8.8" stroke="#000">pSTAT3</text>
<clipPath id="pFc2"><rect x="295.5" y="467.3" width="147.5" height="18.5"/></clipPath>
<rect x="295.5" y="467.3" width="147.5" height="18.5" fill="#e2e2e2"/>
<g clip-path="url(#pFc2)"><g filter="url(#bl)">
<rect x="301.6" y="473.57" width="13.9" height="3.0" rx="1.2" fill="#000" opacity="0.95"/>
<rect x="318.6" y="474.37" width="13.9" height="3.0" rx="1.2" fill="#000" opacity="0.7"/>
<rect x="335.6" y="474.37" width="13.9" height="3.0" rx="1.2" fill="#000" opacity="0.25"/>
<rect x="352.6" y="474.37" width="13.9" height="3.0" rx="1.2" fill="#000" opacity="0.1"/>
<rect x="369.6" y="473.57" width="13.9" height="3.0" rx="1.2" fill="#000" opacity="0.95"/>
<rect x="386.6" y="473.57" width="13.9" height="3.0" rx="1.2" fill="#000" opacity="0.8"/>
<rect x="403.6" y="473.57" width="13.9" height="3.0" rx="1.2" fill="#000" opacity="0.4"/>
<rect x="420.6" y="473.57" width="13.9" height="3.0" rx="1.2" fill="#000" opacity="0.15"/>
<rect x="301.6" y="478.12" width="13.9" height="2.4" rx="1.2" fill="#000" opacity="0.9"/>
<rect x="318.6" y="478.93" width="13.9" height="2.4" rx="1.2" fill="#000" opacity="0.55"/>
<rect x="335.6" y="478.93" width="13.9" height="2.4" rx="1.2" fill="#000" opacity="0.22"/>
<rect x="352.6" y="478.93" width="13.9" height="2.4" rx="1.2" fill="#000" opacity="0.08"/>
<rect x="369.6" y="478.12" width="13.9" height="2.4" rx="1.2" fill="#000" opacity="0.92"/>
<rect x="386.6" y="478.12" width="13.9" height="2.4" rx="1.2" fill="#000" opacity="0.75"/>
<rect x="403.6" y="478.12" width="13.9" height="2.4" rx="1.2" fill="#000" opacity="0.4"/>
<rect x="420.6" y="478.12" width="13.9" height="2.4" rx="1.2" fill="#000" opacity="0.15"/>
</g></g>
<rect x="295.5" y="467.3" width="147.5" height="18.5" fill="none" stroke="#666" stroke-width="0.75"/>
<text x="256" y="498.95" font-size="8.8" stroke="#000">STAT3</text>
<clipPath id="pFc3"><rect x="295.5" y="488.1" width="147.5" height="18.399999999999977"/></clipPath>
<rect x="295.5" y="488.1" width="147.5" height="18.399999999999977" fill="#b4b4b4"/>
<g clip-path="url(#pFc3)"><g filter="url(#bl)">
<rect x="301.6" y="494.38" width="13.9" height="4.0" rx="1.2" fill="#000" opacity="0.8"/>
<rect x="318.6" y="494.88" width="13.9" height="4.0" rx="1.2" fill="#000" opacity="0.75"/>
<rect x="335.6" y="494.88" width="13.9" height="4.0" rx="1.2" fill="#000" opacity="0.85"/>
<rect x="352.6" y="495.18" width="13.9" height="4.0" rx="1.2" fill="#000" opacity="0.9"/>
<rect x="369.6" y="494.88" width="13.9" height="4.0" rx="1.2" fill="#000" opacity="0.85"/>
<rect x="386.6" y="494.88" width="13.9" height="4.0" rx="1.2" fill="#000" opacity="0.85"/>
<rect x="403.6" y="494.88" width="13.9" height="4.0" rx="1.2" fill="#000" opacity="0.7"/>
<rect x="420.6" y="494.88" width="13.9" height="4.0" rx="1.2" fill="#000" opacity="0.85"/>
<rect x="301.6" y="500.15" width="13.9" height="2.4" rx="1.2" fill="#000" opacity="0.35"/>
<rect x="318.6" y="500.15" width="13.9" height="2.4" rx="1.2" fill="#000" opacity="0.35"/>
<rect x="335.6" y="500.15" width="13.9" height="2.4" rx="1.2" fill="#000" opacity="0.35"/>
<rect x="352.6" y="500.15" width="13.9" height="2.4" rx="1.2" fill="#000" opacity="0.35"/>
<rect x="369.6" y="500.15" width="13.9" height="2.4" rx="1.2" fill="#000" opacity="0.35"/>
<rect x="386.6" y="500.15" width="13.9" height="2.4" rx="1.2" fill="#000" opacity="0.35"/>
<rect x="403.6" y="500.15" width="13.9" height="2.4" rx="1.2" fill="#000" opacity="0.35"/>
<rect x="420.6" y="500.15" width="13.9" height="2.4" rx="1.2" fill="#000" opacity="0.35"/>
<ellipse cx="296" cy="499" rx="1" ry="3" fill="#000"/>
<ellipse cx="442.9" cy="497" rx="1.3" ry="7" fill="#000" opacity="0.85"/>
</g></g>
<rect x="295.5" y="488.1" width="147.5" height="18.399999999999977" fill="none" stroke="#666" stroke-width="0.75"/>
<text x="256" y="518.25" font-size="8.8" stroke="#000">pSTAT5</text>
<clipPath id="pFc4"><rect x="295.5" y="508.5" width="147.5" height="16.200000000000045"/></clipPath>
<rect x="295.5" y="508.5" width="147.5" height="16.200000000000045" fill="#e1e1e1"/>
<g clip-path="url(#pFc4)"><g filter="url(#bl)">
<rect x="301.6" y="513.80" width="13.9" height="3.0" rx="1.2" fill="#000" opacity="0.95"/>
<rect x="318.6" y="514.60" width="13.9" height="3.0" rx="1.2" fill="#000" opacity="0.32"/>
<rect x="335.6" y="514.80" width="13.9" height="3.0" rx="1.2" fill="#000" opacity="0.14"/>
<rect x="352.6" y="514.80" width="13.9" height="3.0" rx="1.2" fill="#000" opacity="0.03"/>
<rect x="403.6" y="514.10" width="13.9" height="3.0" rx="1.2" fill="#000" opacity="0.4"/>
<rect x="420.6" y="514.10" width="13.9" height="3.0" rx="1.2" fill="#000" opacity="0.08"/>
<rect x="369.6" y="514.03" width="13.9" height="3.8" rx="1.2" fill="#000" opacity="0.96"/>
<rect x="386.6" y="514.03" width="13.9" height="3.8" rx="1.2" fill="#000" opacity="0.88"/>
<ellipse cx="296" cy="520" rx="0.9" ry="2.5" fill="#000"/>
<ellipse cx="442.9" cy="518" rx="1.2" ry="3.2" fill="#000" opacity="0.85"/>
</g></g>
<rect x="295.5" y="508.5" width="147.5" height="16.200000000000045" fill="none" stroke="#666" stroke-width="0.75"/>
<text x="256" y="537.5" font-size="8.8" stroke="#000">STAT5</text>
<clipPath id="pFc5"><rect x="295.5" y="527.2" width="147.5" height="17.299999999999955"/></clipPath>
<rect x="295.5" y="527.2" width="147.5" height="17.299999999999955" fill="#cdcdcd"/>
<g clip-path="url(#pFc5)"><g filter="url(#bl)">
<rect x="301.6" y="533.75" width="13.9" height="3.6" rx="1.2" fill="#000" opacity="0.95"/>
<rect x="318.6" y="534.55" width="13.9" height="3.6" rx="1.2" fill="#000" opacity="0.88"/>
<rect x="335.6" y="534.85" width="13.9" height="3.6" rx="1.2" fill="#000" opacity="0.85"/>
<rect x="352.6" y="534.55" width="13.9" height="3.6" rx="1.2" fill="#000" opacity="0.85"/>
<rect x="369.6" y="534.05" width="13.9" height="3.6" rx="1.2" fill="#000" opacity="0.92"/>
<rect x="386.6" y="534.05" width="13.9" height="3.6" rx="1.2" fill="#000" opacity="0.92"/>
<rect x="403.6" y="534.05" width="13.9" height="3.6" rx="1.2" fill="#000" opacity="0.9"/>
<rect x="420.6" y="533.55" width="13.9" height="3.6" rx="1.2" fill="#000" opacity="0.9"/>
<ellipse cx="296" cy="537" rx="1" ry="3" fill="#000"/>
<ellipse cx="442.9" cy="536" rx="1.3" ry="4.5" fill="#000" opacity="0.85"/>
</g></g>
<rect x="295.5" y="527.2" width="147.5" height="17.299999999999955" fill="none" stroke="#666" stroke-width="0.75"/>
<text x="256" y="558.6" font-size="8.8" stroke="#000">pMEK1/2</text>
<clipPath id="pFc6"><rect x="295.5" y="547.3" width="147.5" height="16.90000000000009"/></clipPath>
<rect x="295.5" y="547.3" width="147.5" height="16.90000000000009" fill="#e6e6e6"/>
<g clip-path="url(#pFc6)"><g filter="url(#bl)">
<rect x="301.6" y="552.80" width="13.9" height="3.2" rx="1.2" fill="#000" opacity="0.8"/>
<rect x="318.6" y="554.30" width="13.9" height="3.2" rx="1.2" fill="#000" opacity="0.28"/>
<rect x="335.6" y="554.30" width="13.9" height="3.2" rx="1.2" fill="#000" opacity="0.3"/>
<rect x="352.6" y="554.30" width="13.9" height="3.2" rx="1.2" fill="#000" opacity="0.22"/>
<rect x="369.6" y="553.47" width="13.9" height="4.2" rx="1.2" fill="#000" opacity="0.92"/>
<rect x="386.6" y="553.27" width="13.9" height="4.2" rx="1.2" fill="#000" opacity="0.96"/>
<rect x="403.6" y="552.97" width="13.9" height="4.2" rx="1.2" fill="#000" opacity="0.92"/>
<rect x="420.6" y="552.47" width="13.9" height="4.2" rx="1.2" fill="#000" opacity="0.82"/>
</g></g>
<rect x="295.5" y="547.3" width="147.5" height="16.90000000000009" fill="none" stroke="#666" stroke-width="0.75"/>
<text x="256" y="576.65" font-size="8.8" stroke="#000">MEK1/2</text>
<clipPath id="pFc7"><rect x="295.5" y="566.5" width="147.5" height="16.0"/></clipPath>
<rect x="295.5" y="566.5" width="147.5" height="16.0" fill="#c6c6c6"/>
<g clip-path="url(#pFc7)"><g filter="url(#bl)">
<rect x="301.2" y="572.42" width="14.5" height="3.8" rx="1.2" fill="#000" opacity="0.97"/>
<rect x="318.2" y="573.72" width="14.5" height="3.8" rx="1.2" fill="#000" opacity="0.92"/>
<rect x="335.2" y="573.72" width="14.5" height="3.8" rx="1.2" fill="#000" opacity="0.92"/>
<rect x="352.2" y="573.72" width="14.5" height="3.8" rx="1.2" fill="#000" opacity="0.92"/>
<rect x="369.2" y="573.22" width="14.5" height="3.8" rx="1.2" fill="#000" opacity="0.95"/>
<rect x="386.2" y="572.92" width="14.5" height="3.8" rx="1.2" fill="#000" opacity="0.95"/>
<rect x="403.2" y="572.92" width="14.5" height="3.8" rx="1.2" fill="#000" opacity="0.92"/>
<rect x="420.2" y="572.12" width="14.5" height="3.8" rx="1.2" fill="#000" opacity="0.9"/>
</g></g>
<rect x="295.5" y="566.5" width="147.5" height="16.0" fill="none" stroke="#666" stroke-width="0.75"/>
<text x="256" y="595.4" font-size="8.8" stroke="#000">pERK1/2</text>
<clipPath id="pFc8"><rect x="295.5" y="585.0" width="147.5" height="19.299999999999955"/></clipPath>
<rect x="295.5" y="585.0" width="147.5" height="19.299999999999955" fill="#ededed"/>
<g clip-path="url(#pFc8)"><g filter="url(#bl)">
<rect x="301.6" y="590.65" width="13.9" height="2.6" rx="1.2" fill="#000" opacity="0.9"/>
<rect x="318.6" y="591.85" width="13.9" height="2.6" rx="1.2" fill="#000" opacity="0.2"/>
<rect x="335.6" y="591.85" width="13.9" height="2.6" rx="1.2" fill="#000" opacity="0.08"/>
<rect x="352.6" y="591.85" width="13.9" height="2.6" rx="1.2" fill="#000" opacity="0.05"/>
<rect x="369.6" y="591.25" width="13.9" height="2.6" rx="1.2" fill="#000" opacity="0.8"/>
<rect x="386.6" y="591.25" width="13.9" height="2.6" rx="1.2" fill="#000" opacity="0.8"/>
<rect x="403.6" y="591.05" width="13.9" height="2.6" rx="1.2" fill="#000" opacity="0.75"/>
<rect x="420.6" y="590.65" width="13.9" height="2.6" rx="1.2" fill="#000" opacity="0.5"/>
<rect x="301.6" y="595.08" width="13.9" height="3.0" rx="1.2" fill="#000" opacity="0.95"/>
<rect x="318.6" y="596.28" width="13.9" height="3.0" rx="1.2" fill="#000" opacity="0.3"/>
<rect x="335.6" y="596.28" width="13.9" height="3.0" rx="1.2" fill="#000" opacity="0.15"/>
<rect x="352.6" y="596.28" width="13.9" height="3.0" rx="1.2" fill="#000" opacity="0.1"/>
<rect x="369.6" y="595.68" width="13.9" height="3.0" rx="1.2" fill="#000" opacity="0.8"/>
<rect x="386.6" y="595.68" width="13.9" height="3.0" rx="1.2" fill="#000" opacity="0.8"/>
<rect x="403.6" y="595.48" width="13.9" height="3.0" rx="1.2" fill="#000" opacity="0.75"/>
<rect x="420.6" y="595.08" width="13.9" height="3.0" rx="1.2" fill="#000" opacity="0.6"/>
</g></g>
<rect x="295.5" y="585.0" width="147.5" height="19.299999999999955" fill="none" stroke="#666" stroke-width="0.75"/>
<text x="256" y="616.45" font-size="8.8" stroke="#000">ERK1/2</text>
<clipPath id="pFc9"><rect x="295.5" y="607.0" width="147.5" height="16.200000000000045"/></clipPath>
<rect x="295.5" y="607.0" width="147.5" height="16.200000000000045" fill="#dadada"/>
<g clip-path="url(#pFc9)"><g filter="url(#bl)">
<rect x="301.2" y="611.67" width="14.5" height="2.0" rx="1.0" fill="#000" opacity="0.7"/>
<rect x="318.2" y="612.47" width="14.5" height="2.0" rx="1.0" fill="#000" opacity="0.7"/>
<rect x="335.2" y="612.47" width="14.5" height="2.0" rx="1.0" fill="#000" opacity="0.7"/>
<rect x="352.2" y="612.47" width="14.5" height="2.0" rx="1.0" fill="#000" opacity="0.7"/>
<rect x="369.2" y="612.47" width="14.5" height="2.0" rx="1.0" fill="#000" opacity="0.7"/>
<rect x="386.2" y="612.27" width="14.5" height="2.0" rx="1.0" fill="#000" opacity="0.7"/>
<rect x="403.2" y="611.97" width="14.5" height="2.0" rx="1.0" fill="#000" opacity="0.7"/>
<rect x="420.2" y="611.67" width="14.5" height="2.0" rx="1.0" fill="#000" opacity="0.7"/>
<rect x="301.2" y="615.74" width="14.5" height="2.6" rx="1.2" fill="#000" opacity="0.95"/>
<rect x="318.2" y="616.54" width="14.5" height="2.6" rx="1.2" fill="#000" opacity="0.92"/>
<rect x="335.2" y="616.54" width="14.5" height="2.6" rx="1.2" fill="#000" opacity="0.92"/>
<rect x="352.2" y="616.54" width="14.5" height="2.6" rx="1.2" fill="#000" opacity="0.92"/>
<rect x="369.2" y="616.54" width="14.5" height="2.6" rx="1.2" fill="#000" opacity="0.92"/>
<rect x="386.2" y="616.34" width="14.5" height="2.6" rx="1.2" fill="#000" opacity="0.92"/>
<rect x="403.2" y="616.04" width="14.5" height="2.6" rx="1.2" fill="#000" opacity="0.92"/>
<rect x="420.2" y="615.74" width="14.5" height="2.6" rx="1.2" fill="#000" opacity="0.9"/>
</g></g>
<rect x="295.5" y="607.0" width="147.5" height="16.200000000000045" fill="none" stroke="#666" stroke-width="0.75"/>
<text x="256" y="635.35" font-size="8.8" stroke="#000">Actin</text>
<clipPath id="pFc10"><rect x="295.5" y="626.4" width="147.5" height="13.100000000000023"/></clipPath>
<rect x="295.5" y="626.4" width="147.5" height="13.100000000000023" fill="#e2e2e2"/>
<g clip-path="url(#pFc10)"><g filter="url(#bl)">
<rect x="300.8" y="630.30" width="15.5" height="2.0" rx="1.0" fill="#000" opacity="0.95"/>
<rect x="317.8" y="631.40" width="15.5" height="2.0" rx="1.0" fill="#000" opacity="0.9"/>
<rect x="334.8" y="631.70" width="15.5" height="2.0" rx="1.0" fill="#000" opacity="0.9"/>
<rect x="351.8" y="631.70" width="15.5" height="2.0" rx="1.0" fill="#000" opacity="0.9"/>
<rect x="368.8" y="631.50" width="15.5" height="2.0" rx="1.0" fill="#000" opacity="0.9"/>
<rect x="385.8" y="631.30" width="15.5" height="2.0" rx="1.0" fill="#000" opacity="0.9"/>
<rect x="402.8" y="631.10" width="15.5" height="2.0" rx="1.0" fill="#000" opacity="0.9"/>
<rect x="419.8" y="630.60" width="15.5" height="2.0" rx="1.0" fill="#000" opacity="0.9"/>
<ellipse cx="296.5" cy="634.5" rx="2" ry="2.6" fill="#000"/>
<ellipse cx="442.5" cy="634" rx="1.6" ry="2.6" fill="#000"/>
</g></g>
<rect x="295.5" y="626.4" width="147.5" height="13.100000000000023" fill="none" stroke="#666" stroke-width="0.75"/>
<text x="256" y="652.45" font-size="8.8" stroke="#000">GAPDH</text>
<clipPath id="pFc11"><rect x="295.5" y="641.8" width="147.5" height="15.600000000000023"/></clipPath>
<rect x="295.5" y="641.8" width="147.5" height="15.600000000000023" fill="#d2d2d2"/>
<g clip-path="url(#pFc11)"><g filter="url(#bl)">
<rect x="301.6" y="648.98" width="13.9" height="2.2" rx="1.1" fill="#000" opacity="0.92"/>
<rect x="318.6" y="649.88" width="13.9" height="2.2" rx="1.1" fill="#000" opacity="0.9"/>
<rect x="335.6" y="650.08" width="13.9" height="2.2" rx="1.1" fill="#000" opacity="0.9"/>
<rect x="352.6" y="649.78" width="13.9" height="2.2" rx="1.1" fill="#000" opacity="0.9"/>
<rect x="369.6" y="649.58" width="13.9" height="2.2" rx="1.1" fill="#000" opacity="0.9"/>
<rect x="386.6" y="649.28" width="13.9" height="2.2" rx="1.1" fill="#000" opacity="0.9"/>
<rect x="403.6" y="648.98" width="13.9" height="2.2" rx="1.1" fill="#000" opacity="0.9"/>
<rect x="420.6" y="648.48" width="13.9" height="2.2" rx="1.1" fill="#000" opacity="0.9"/>
<ellipse cx="297" cy="645" rx="2.4" ry="2.6" fill="#000"/>
<ellipse cx="442" cy="645" rx="1.8" ry="2.4" fill="#000"/>
</g></g>
<rect x="295.5" y="641.8" width="147.5" height="15.600000000000023" fill="none" stroke="#666" stroke-width="0.75"/>
<text x="369.4" y="668.5" font-size="8.8" text-anchor="middle" stroke="#000">SET2</text>
</g>
<g id="panelG">
<text x="2.8" y="677.1" font-size="16.2" font-weight="bold" stroke="#000">G</text>
<line x1="66.25" y1="741.85" x2="66.25" y2="755.08" stroke="#5a7fe8" stroke-width="0.7"/>
<line x1="64.25" y1="741.85" x2="68.25" y2="741.85" stroke="#5a7fe8" stroke-width="0.7"/>
<line x1="64.25" y1="755.08" x2="68.25" y2="755.08" stroke="#5a7fe8" stroke-width="0.7"/>
<line x1="93.0" y1="752.32" x2="93.0" y2="762.24" stroke="#5a7fe8" stroke-width="0.7"/>
<line x1="91.0" y1="752.32" x2="95.0" y2="752.32" stroke="#5a7fe8" stroke-width="0.7"/>
<line x1="91.0" y1="762.24" x2="95.0" y2="762.24" stroke="#5a7fe8" stroke-width="0.7"/>
<line x1="146.5" y1="757.83" x2="146.5" y2="764.45" stroke="#5a7fe8" stroke-width="0.7"/>
<line x1="144.5" y1="757.83" x2="148.5" y2="757.83" stroke="#5a7fe8" stroke-width="0.7"/>
<line x1="144.5" y1="764.45" x2="148.5" y2="764.45" stroke="#5a7fe8" stroke-width="0.7"/>
<line x1="66.25" y1="746.26" x2="66.25" y2="755.08" stroke="#2f4fb2" stroke-width="0.7"/>
<line x1="64.25" y1="746.26" x2="68.25" y2="746.26" stroke="#2f4fb2" stroke-width="0.7"/>
<line x1="64.25" y1="755.08" x2="68.25" y2="755.08" stroke="#2f4fb2" stroke-width="0.7"/>
<line x1="93.0" y1="755.08" x2="93.0" y2="761.69" stroke="#2f4fb2" stroke-width="0.7"/>
<line x1="91.0" y1="755.08" x2="95.0" y2="755.08" stroke="#2f4fb2" stroke-width="0.7"/>
<line x1="91.0" y1="761.69" x2="95.0" y2="761.69" stroke="#2f4fb2" stroke-width="0.7"/>
<line x1="146.5" y1="758.94" x2="146.5" y2="764.45" stroke="#2f4fb2" stroke-width="0.7"/>
<line x1="144.5" y1="758.94" x2="148.5" y2="758.94" stroke="#2f4fb2" stroke-width="0.7"/>
<line x1="144.5" y1="764.45" x2="148.5" y2="764.45" stroke="#2f4fb2" stroke-width="0.7"/>
<line x1="66.25" y1="748.47" x2="66.25" y2="757.28" stroke="#000" stroke-width="0.7"/>
<line x1="64.25" y1="748.47" x2="68.25" y2="748.47" stroke="#000" stroke-width="0.7"/>
<line x1="64.25" y1="757.28" x2="68.25" y2="757.28" stroke="#000" stroke-width="0.7"/>
<line x1="93.0" y1="756.73" x2="93.0" y2="763.34" stroke="#000" stroke-width="0.7"/>
<line x1="91.0" y1="756.73" x2="95.0" y2="756.73" stroke="#000" stroke-width="0.7"/>
<line x1="91.0" y1="763.34" x2="95.0" y2="763.34" stroke="#000" stroke-width="0.7"/>
<line x1="146.5" y1="760.04" x2="146.5" y2="765.55" stroke="#000" stroke-width="0.7"/>
<line x1="144.5" y1="760.04" x2="148.5" y2="760.04" stroke="#000" stroke-width="0.7"/>
<line x1="144.5" y1="765.55" x2="148.5" y2="765.55" stroke="#000" stroke-width="0.7"/>
<polyline points="39.5,712.1 66.25,749.02 93.0,757.83 146.5,761.14" fill="none" stroke="#5a7fe8" stroke-width="1.25"/>
<rect x="37.58" y="710.18" width="3.84" height="3.84" fill="#5a7fe8"/>
<rect x="64.33" y="747.10" width="3.84" height="3.84" fill="#5a7fe8"/>
<rect x="91.08" y="755.91" width="3.84" height="3.84" fill="#5a7fe8"/>
<rect x="144.58" y="759.22" width="3.84" height="3.84" fill="#5a7fe8"/>
<polyline points="39.5,712.1 66.25,750.67 93.0,758.38 146.5,761.69" fill="none" stroke="#2f4fb2" stroke-width="1.25"/>
<path d="M39.5 709.70L41.78 713.78L37.22 713.78Z" fill="#2f4fb2"/>
<path d="M66.25 748.27L68.53 752.35L63.97 752.35Z" fill="#2f4fb2"/>
<path d="M93.0 755.98L95.28 760.06L90.72 760.06Z" fill="#2f4fb2"/>
<path d="M146.5 759.29L148.78 763.37L144.22 763.37Z" fill="#2f4fb2"/>
<polyline points="39.5,712.1 66.25,752.87 93.0,760.04 146.5,762.79" fill="none" stroke="#000" stroke-width="1.0"/>
<circle cx="39.5" cy="712.1" r="2.04" fill="#000"/>
<circle cx="66.25" cy="752.87" r="2.04" fill="#000"/>
<circle cx="93.0" cy="760.04" r="2.04" fill="#000"/>
<circle cx="146.5" cy="762.79" r="2.04" fill="#000"/>
<line x1="39.5" y1="681" x2="39.5" y2="767.5" stroke="#000" stroke-width="1.2"/>
<line x1="36.5" y1="767" x2="147.1" y2="767" stroke="#000" stroke-width="1.2"/>
<line x1="36.5" y1="684.55" x2="39.5" y2="684.55" stroke="#000" stroke-width="1.2"/>
<text x="35.7" y="687.65" font-size="8.6" text-anchor="end" stroke="#000">1.5</text>
<line x1="36.5" y1="712.1" x2="39.5" y2="712.1" stroke="#000" stroke-width="1.2"/>
<text x="35.7" y="715.2" font-size="8.6" text-anchor="end" stroke="#000">1.0</text>
<line x1="36.5" y1="739.65" x2="39.5" y2="739.65" stroke="#000" stroke-width="1.2"/>
<text x="35.7" y="742.75" font-size="8.6" text-anchor="end" stroke="#000">0.5</text>
<line x1="36.5" y1="767.2" x2="39.5" y2="767.2" stroke="#000" stroke-width="1.2"/>
<text x="35.7" y="770.3000000000001" font-size="8.6" text-anchor="end" stroke="#000">0.0</text>
<line x1="39.5" y1="767" x2="39.5" y2="770.5" stroke="#000" stroke-width="1.2"/>
<line x1="66.25" y1="767" x2="66.25" y2="770.5" stroke="#000" stroke-width="1.2"/>
<line x1="93.0" y1="767" x2="93.0" y2="770.5" stroke="#000" stroke-width="1.2"/>
<line x1="119.75" y1="767" x2="119.75" y2="770.5" stroke="#000" stroke-width="1.2"/>
<line x1="146.5" y1="767" x2="146.5" y2="770.5" stroke="#000" stroke-width="1.2"/>
<text x="39.5" y="782" font-size="8.6" text-anchor="middle" stroke="#000">0.0</text>
<text x="93.0" y="782" font-size="8.6" text-anchor="middle" stroke="#000">0.5</text>
<text x="146.5" y="782" font-size="8.6" text-anchor="middle" stroke="#000">1.0</text>
<text x="93" y="793" font-size="8.8" text-anchor="middle" stroke="#000">CHZ868 (μmol/L)</text>
<text x="8.8" y="723.7" font-size="8.6" text-anchor="middle" stroke="#000" transform="rotate(-90 8.8 723.7)">pJAK2/JAK2</text>
<text x="18.4" y="722.6" font-size="9.2" text-anchor="middle" stroke="#000" transform="rotate(-90 18.4 722.6)">band intensity</text>
<text x="66" y="739.5" font-size="7.8" text-anchor="middle" stroke="#000">ns</text>
<text x="93" y="746" font-size="7.8" text-anchor="middle" stroke="#000">ns</text>
<text x="146.5" y="755" font-size="7.8" text-anchor="middle" stroke="#000">ns</text>
<line x1="230.25" y1="734.14" x2="230.25" y2="750.67" stroke="#5a7fe8" stroke-width="0.7"/>
<line x1="228.25" y1="734.14" x2="232.25" y2="734.14" stroke="#5a7fe8" stroke-width="0.7"/>
<line x1="228.25" y1="750.67" x2="232.25" y2="750.67" stroke="#5a7fe8" stroke-width="0.7"/>
<line x1="257.0" y1="752.32" x2="257.0" y2="759.49" stroke="#5a7fe8" stroke-width="0.7"/>
<line x1="255.0" y1="752.32" x2="259.0" y2="752.32" stroke="#5a7fe8" stroke-width="0.7"/>
<line x1="255.0" y1="759.49" x2="259.0" y2="759.49" stroke="#5a7fe8" stroke-width="0.7"/>
<line x1="310.5" y1="761.14" x2="310.5" y2="765.55" stroke="#5a7fe8" stroke-width="0.7"/>
<line x1="308.5" y1="761.14" x2="312.5" y2="761.14" stroke="#5a7fe8" stroke-width="0.7"/>
<line x1="308.5" y1="765.55" x2="312.5" y2="765.55" stroke="#5a7fe8" stroke-width="0.7"/>
<line x1="230.25" y1="739.65" x2="230.25" y2="750.67" stroke="#2f4fb2" stroke-width="0.7"/>
<line x1="228.25" y1="739.65" x2="232.25" y2="739.65" stroke="#2f4fb2" stroke-width="0.7"/>
<line x1="228.25" y1="750.67" x2="232.25" y2="750.67" stroke="#2f4fb2" stroke-width="0.7"/>
<line x1="257.0" y1="753.43" x2="257.0" y2="758.94" stroke="#2f4fb2" stroke-width="0.7"/>
<line x1="255.0" y1="753.43" x2="259.0" y2="753.43" stroke="#2f4fb2" stroke-width="0.7"/>
<line x1="255.0" y1="758.94" x2="259.0" y2="758.94" stroke="#2f4fb2" stroke-width="0.7"/>
<line x1="310.5" y1="761.69" x2="310.5" y2="765.0" stroke="#2f4fb2" stroke-width="0.7"/>
<line x1="308.5" y1="761.69" x2="312.5" y2="761.69" stroke="#2f4fb2" stroke-width="0.7"/>
<line x1="308.5" y1="765.0" x2="312.5" y2="765.0" stroke="#2f4fb2" stroke-width="0.7"/>
<line x1="230.25" y1="745.16" x2="230.25" y2="755.08" stroke="#000" stroke-width="0.7"/>
<line x1="228.25" y1="745.16" x2="232.25" y2="745.16" stroke="#000" stroke-width="0.7"/>
<line x1="228.25" y1="755.08" x2="232.25" y2="755.08" stroke="#000" stroke-width="0.7"/>
<line x1="257.0" y1="758.38" x2="257.0" y2="762.79" stroke="#000" stroke-width="0.7"/>
<line x1="255.0" y1="758.38" x2="259.0" y2="758.38" stroke="#000" stroke-width="0.7"/>
<line x1="255.0" y1="762.79" x2="259.0" y2="762.79" stroke="#000" stroke-width="0.7"/>
<line x1="310.5" y1="763.34" x2="310.5" y2="766.1" stroke="#000" stroke-width="0.7"/>
<line x1="308.5" y1="763.34" x2="312.5" y2="763.34" stroke="#000" stroke-width="0.7"/>
<line x1="308.5" y1="766.1" x2="312.5" y2="766.1" stroke="#000" stroke-width="0.7"/>
<polyline points="203.5,712.1 230.25,742.68 257.0,756.18 310.5,763.34" fill="none" stroke="#5a7fe8" stroke-width="1.25"/>
<rect x="201.58" y="710.18" width="3.84" height="3.84" fill="#5a7fe8"/>
<rect x="228.33" y="740.76" width="3.84" height="3.84" fill="#5a7fe8"/>
<rect x="255.08" y="754.26" width="3.84" height="3.84" fill="#5a7fe8"/>
<rect x="308.58" y="761.42" width="3.84" height="3.84" fill="#5a7fe8"/>
<polyline points="203.5,712.1 230.25,745.16 257.0,756.18 310.5,763.34" fill="none" stroke="#2f4fb2" stroke-width="1.25"/>
<path d="M203.5 709.70L205.78 713.78L201.22 713.78Z" fill="#2f4fb2"/>
<path d="M230.25 742.76L232.53 746.84L227.97 746.84Z" fill="#2f4fb2"/>
<path d="M257.0 753.78L259.28 757.86L254.72 757.86Z" fill="#2f4fb2"/>
<path d="M310.5 760.94L312.78 765.02L308.22 765.02Z" fill="#2f4fb2"/>
<polyline points="203.5,712.1 230.25,750.12 257.0,760.59 310.5,764.72" fill="none" stroke="#000" stroke-width="1.0"/>
<circle cx="203.5" cy="712.1" r="2.04" fill="#000"/>
<circle cx="230.25" cy="750.12" r="2.04" fill="#000"/>
<circle cx="257.0" cy="760.59" r="2.04" fill="#000"/>
<circle cx="310.5" cy="764.72" r="2.04" fill="#000"/>
<line x1="203.5" y1="681" x2="203.5" y2="767.5" stroke="#000" stroke-width="1.2"/>
<line x1="200.5" y1="767" x2="311.1" y2="767" stroke="#000" stroke-width="1.2"/>
<line x1="200.5" y1="684.55" x2="203.5" y2="684.55" stroke="#000" stroke-width="1.2"/>
<text x="199.7" y="687.65" font-size="8.6" text-anchor="end" stroke="#000">1.5</text>
<line x1="200.5" y1="712.1" x2="203.5" y2="712.1" stroke="#000" stroke-width="1.2"/>
<text x="199.7" y="715.2" font-size="8.6" text-anchor="end" stroke="#000">1.0</text>
<line x1="200.5" y1="739.65" x2="203.5" y2="739.65" stroke="#000" stroke-width="1.2"/>
<text x="199.7" y="742.75" font-size="8.6" text-anchor="end" stroke="#000">0.5</text>
<line x1="200.5" y1="767.2" x2="203.5" y2="767.2" stroke="#000" stroke-width="1.2"/>
<text x="199.7" y="770.3000000000001" font-size="8.6" text-anchor="end" stroke="#000">0.0</text>
<line x1="203.5" y1="767" x2="203.5" y2="770.5" stroke="#000" stroke-width="1.2"/>
<line x1="230.25" y1="767" x2="230.25" y2="770.5" stroke="#000" stroke-width="1.2"/>
<line x1="257.0" y1="767" x2="257.0" y2="770.5" stroke="#000" stroke-width="1.2"/>
<line x1="283.75" y1="767" x2="283.75" y2="770.5" stroke="#000" stroke-width="1.2"/>
<line x1="310.5" y1="767" x2="310.5" y2="770.5" stroke="#000" stroke-width="1.2"/>
<text x="203.5" y="782" font-size="8.6" text-anchor="middle" stroke="#000">0.0</text>
<text x="257.0" y="782" font-size="8.6" text-anchor="middle" stroke="#000">0.5</text>
<text x="310.5" y="782" font-size="8.6" text-anchor="middle" stroke="#000">1.0</text>
<text x="257" y="793" font-size="8.8" text-anchor="middle" stroke="#000">CHZ868 (μmol/L)</text>
<text x="172.8" y="723.7" font-size="8.9" text-anchor="middle" stroke="#000" transform="rotate(-90 172.8 723.7)">pSTAT3/STAT3</text>
<text x="182.4" y="722.6" font-size="9.2" text-anchor="middle" stroke="#000" transform="rotate(-90 182.4 722.6)">band intensity</text>
<text x="237.8" y="739" font-size="8" text-anchor="middle" stroke="#000">****</text>
<text x="236.5" y="744.6" font-size="8" text-anchor="middle" stroke="#000">**</text>
<text x="256.6" y="747.8" font-size="7.8" text-anchor="middle" stroke="#000">ns</text>
<text x="310" y="757.5" font-size="7.8" text-anchor="middle" stroke="#000">ns</text>
<line x1="390.25" y1="713.2" x2="390.25" y2="763.34" stroke="#5a7fe8" stroke-width="0.7"/>
<line x1="388.25" y1="713.2" x2="392.25" y2="713.2" stroke="#5a7fe8" stroke-width="0.7"/>
<line x1="388.25" y1="763.34" x2="392.25" y2="763.34" stroke="#5a7fe8" stroke-width="0.7"/>
<line x1="417.0" y1="709.35" x2="417.0" y2="749.02" stroke="#5a7fe8" stroke-width="0.7"/>
<line x1="415.0" y1="709.35" x2="419.0" y2="709.35" stroke="#5a7fe8" stroke-width="0.7"/>
<line x1="415.0" y1="749.02" x2="419.0" y2="749.02" stroke="#5a7fe8" stroke-width="0.7"/>
<line x1="470.5" y1="716.51" x2="470.5" y2="755.63" stroke="#5a7fe8" stroke-width="0.7"/>
<line x1="468.5" y1="716.51" x2="472.5" y2="716.51" stroke="#5a7fe8" stroke-width="0.7"/>
<line x1="468.5" y1="755.63" x2="472.5" y2="755.63" stroke="#5a7fe8" stroke-width="0.7"/>
<line x1="390.25" y1="691.16" x2="390.25" y2="746.26" stroke="#2f4fb2" stroke-width="0.7"/>
<line x1="388.25" y1="691.16" x2="392.25" y2="691.16" stroke="#2f4fb2" stroke-width="0.7"/>
<line x1="388.25" y1="746.26" x2="392.25" y2="746.26" stroke="#2f4fb2" stroke-width="0.7"/>
<line x1="417.0" y1="679.59" x2="417.0" y2="749.02" stroke="#2f4fb2" stroke-width="0.7"/>
<line x1="415.0" y1="679.59" x2="419.0" y2="679.59" stroke="#2f4fb2" stroke-width="0.7"/>
<line x1="415.0" y1="749.02" x2="419.0" y2="749.02" stroke="#2f4fb2" stroke-width="0.7"/>
<line x1="470.5" y1="685.1" x2="470.5" y2="742.41" stroke="#2f4fb2" stroke-width="0.7"/>
<line x1="468.5" y1="685.1" x2="472.5" y2="685.1" stroke="#2f4fb2" stroke-width="0.7"/>
<line x1="468.5" y1="742.41" x2="472.5" y2="742.41" stroke="#2f4fb2" stroke-width="0.7"/>
<line x1="390.25" y1="750.67" x2="390.25" y2="760.04" stroke="#000" stroke-width="0.7"/>
<line x1="388.25" y1="750.67" x2="392.25" y2="750.67" stroke="#000" stroke-width="0.7"/>
<line x1="388.25" y1="760.04" x2="392.25" y2="760.04" stroke="#000" stroke-width="0.7"/>
<line x1="417.0" y1="758.11" x2="417.0" y2="764.72" stroke="#000" stroke-width="0.7"/>
<line x1="415.0" y1="758.11" x2="419.0" y2="758.11" stroke="#000" stroke-width="0.7"/>
<line x1="415.0" y1="764.72" x2="419.0" y2="764.72" stroke="#000" stroke-width="0.7"/>
<polyline points="363.5,712.1 390.25,731.38 417.0,729.18 470.5,736.34" fill="none" stroke="#5a7fe8" stroke-width="0.8"/>
<rect x="361.90" y="710.50" width="3.20" height="3.20" fill="#5a7fe8"/>
<rect x="388.65" y="729.78" width="3.20" height="3.20" fill="#5a7fe8"/>
<rect x="415.40" y="727.58" width="3.20" height="3.20" fill="#5a7fe8"/>
<rect x="468.90" y="734.74" width="3.20" height="3.20" fill="#5a7fe8"/>
<polyline points="363.5,712.1 390.25,711.55 417.0,703.84 470.5,714.58" fill="none" stroke="#2f4fb2" stroke-width="0.8"/>
<path d="M363.5 710.10L365.40 713.50L361.60 713.50Z" fill="#2f4fb2"/>
<path d="M390.25 709.55L392.15 712.95L388.35 712.95Z" fill="#2f4fb2"/>
<path d="M417.0 701.84L418.90 705.24L415.10 705.24Z" fill="#2f4fb2"/>
<path d="M470.5 712.58L472.40 715.98L468.60 715.98Z" fill="#2f4fb2"/>
<polyline points="363.5,712.1 390.25,754.53 417.0,761.41 470.5,763.89" fill="none" stroke="#000" stroke-width="0.6400000000000001"/>
<circle cx="363.5" cy="712.1" r="1.70" fill="#000"/>
<circle cx="390.25" cy="754.53" r="1.70" fill="#000"/>
<circle cx="417.0" cy="761.41" r="1.70" fill="#000"/>
<circle cx="470.5" cy="763.89" r="1.70" fill="#000"/>
<line x1="363.5" y1="681" x2="363.5" y2="767.5" stroke="#000" stroke-width="1.2"/>
<line x1="360.5" y1="767" x2="471.1" y2="767" stroke="#000" stroke-width="1.2"/>
<line x1="360.5" y1="684.55" x2="363.5" y2="684.55" stroke="#000" stroke-width="1.2"/>
<text x="359.7" y="687.65" font-size="8.6" text-anchor="end" stroke="#000">1.5</text>
<line x1="360.5" y1="712.1" x2="363.5" y2="712.1" stroke="#000" stroke-width="1.2"/>
<text x="359.7" y="715.2" font-size="8.6" text-anchor="end" stroke="#000">1.0</text>
<line x1="360.5" y1="739.65" x2="363.5" y2="739.65" stroke="#000" stroke-width="1.2"/>
<text x="359.7" y="742.75" font-size="8.6" text-anchor="end" stroke="#000">0.5</text>
<line x1="360.5" y1="767.2" x2="363.5" y2="767.2" stroke="#000" stroke-width="1.2"/>
<text x="359.7" y="770.3000000000001" font-size="8.6" text-anchor="end" stroke="#000">0.0</text>
<line x1="363.5" y1="767" x2="363.5" y2="770.5" stroke="#000" stroke-width="1.2"/>
<line x1="390.25" y1="767" x2="390.25" y2="770.5" stroke="#000" stroke-width="1.2"/>
<line x1="417.0" y1="767" x2="417.0" y2="770.5" stroke="#000" stroke-width="1.2"/>
<line x1="443.75" y1="767" x2="443.75" y2="770.5" stroke="#000" stroke-width="1.2"/>
<line x1="470.5" y1="767" x2="470.5" y2="770.5" stroke="#000" stroke-width="1.2"/>
<text x="363.5" y="782" font-size="8.6" text-anchor="middle" stroke="#000">0.0</text>
<text x="417.0" y="782" font-size="8.6" text-anchor="middle" stroke="#000">0.5</text>
<text x="470.5" y="782" font-size="8.6" text-anchor="middle" stroke="#000">1.0</text>
<text x="417" y="793" font-size="8.8" text-anchor="middle" stroke="#000">CHZ868 (μmol/L)</text>
<text x="332.2" y="723.7" font-size="9.5" text-anchor="middle" stroke="#000" transform="rotate(-90 332.2 723.7)">pERK/ERK</text>
<text x="341.4" y="722.6" font-size="9.2" text-anchor="middle" stroke="#000" transform="rotate(-90 341.4 722.6)">band intensity</text>
<text x="398.3" y="709" font-size="8.2" text-anchor="middle" stroke="#000">****</text>
<text x="426.3" y="705.5" font-size="8.2" text-anchor="middle" stroke="#000">****</text>
<text x="465" y="714" font-size="8.2" text-anchor="middle" stroke="#000">***</text>
<text x="393.5" y="732" font-size="8.2" text-anchor="middle" stroke="#000">*</text>
<text x="425.2" y="729.5" font-size="8.2" text-anchor="middle" stroke="#000">***</text>
<text x="467" y="736" font-size="8.2" text-anchor="middle" stroke="#000">**</text>
<line x1="480.5" y1="689.2" x2="490.5" y2="689.2" stroke="#000" stroke-width="1.0"/>
<circle cx="485.5" cy="689.2" r="1.7" fill="#000"/>
<text x="495" y="691.9000000000001" font-size="7.4" stroke="#000">JAKi-S</text>
<line x1="480.5" y1="703.1" x2="490.5" y2="703.1" stroke="#5a7fe8" stroke-width="1.0"/>
<rect x="483.9" y="701.5" width="3.2" height="3.2" fill="#5a7fe8"/>
<text x="495" y="705.8000000000001" font-size="7.4" stroke="#000">JAKi-r</text>
<line x1="480.5" y1="717" x2="490.5" y2="717" stroke="#2f4fb2" stroke-width="1.0"/>
<path d="M485.5 715L487.4 718.4L483.6 718.4Z" fill="#2f4fb2"/>
<text x="495" y="719.7" font-size="7.4" stroke="#000">JAKi-R</text>
</g>
</svg>
</body></html>
